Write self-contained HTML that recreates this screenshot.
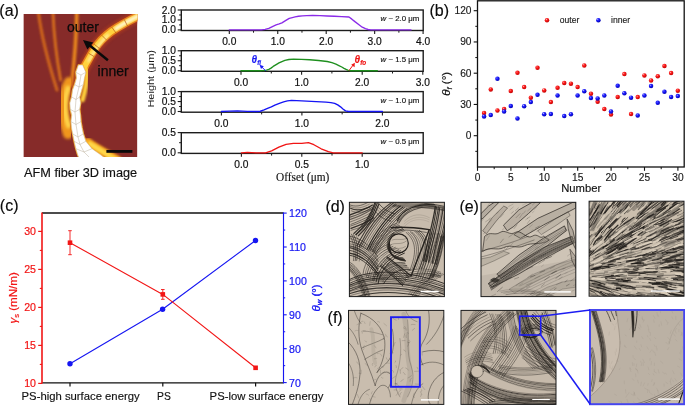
<!DOCTYPE html>
<html lang="en">
<head>
<meta charset="utf-8">
<title>Figure</title>
<style>
html,body{margin:0;padding:0;background:#fff;}
body{width:685px;height:406px;overflow:hidden;font-family:"Liberation Sans", Arial, sans-serif;}
svg{display:block;}
svg text{font-family:"Liberation Sans", Arial, sans-serif;}
</style>
</head>
<body>
<svg width="685" height="406" viewBox="0 0 685 406">
<rect x="0" y="0" width="685" height="406" fill="#ffffff"/>
<text x="-0.70" y="15.60" font-size="16" fill="#0a0a0a" stroke="#0a0a0a" stroke-width="0.15">(a)</text>
<defs><clipPath id="afmclip"><rect x="23.4" y="14" width="114" height="143"/></clipPath><filter id="blur1" x="-20%" y="-20%" width="140%" height="140%"><feGaussianBlur stdDeviation="0.9"/></filter><filter id="blur0" x="-20%" y="-20%" width="140%" height="140%"><feGaussianBlur stdDeviation="0.45"/></filter><filter id="blur2" x="-20%" y="-20%" width="140%" height="140%"><feGaussianBlur stdDeviation="1.6"/></filter></defs>
<g clip-path="url(#afmclip)">
<rect x="23.4" y="14" width="114" height="143" fill="#862b29"/>
<g filter="url(#blur1)" fill="none" stroke-linecap="round">
<path d="M38.5 13 C42 40 50 68 57 90" stroke="#d0661c" stroke-width="3.0"/>
<path d="M53 13 C54 38 57 60 60.6 80" stroke="#d8701c" stroke-width="2.8"/>
<path d="M76.8 13 C76.4 35 74.5 60 71.5 86" stroke="#e8861e" stroke-width="3.6"/>
</g>
<g fill="none" stroke-linecap="round" stroke-linejoin="round">
<path d="M143 14 C136 17 124 23.5 116.9 27.8 C110 32 102 39 97.9 44.2 C94 49 89 58.5 85.9 64 C83.5 68 81.5 72 80.5 78 C79 86 76 92 75.3 100 C74.6 108 75 116 76 122 C77 130 78.5 137 80.5 143 C83 150 87 155 92 160" stroke="#b8401c" stroke-width="12" filter="url(#blur2)" opacity="0.7"/>
<path d="M143 14 C136 17 124 23.5 116.9 27.8 C110 32 102 39 97.9 44.2 C94 49 89 58.5 85.9 64 C83.5 68 81.5 72 80.5 78 C79 86 76 92 75.3 100 C74.6 108 75 116 76 122 C77 130 78.5 137 80.5 143 C83 150 87 155 92 160" stroke="#e8821a" stroke-width="8.6" filter="url(#blur0)"/>
<path d="M143 14 C136 17 124 23.5 116.9 27.8 C110 32 102 39 97.9 44.2 C94 49 89 58.5 85.9 64 C83.5 68 81.5 72 80.5 78 C79 86 76 92 75.3 100 C74.6 108 75 116 76 122 C77 130 78.5 137 80.5 143 C83 150 87 155 92 160" stroke="#ffd23e" stroke-width="5.6" filter="url(#blur0)"/>
<path d="M69 82 C61 96 61.5 116 68 134" stroke="#f0961c" stroke-width="10" filter="url(#blur2)"/>
<path d="M68 88 C63.5 100 64 113 68.5 126" stroke="#ffd648" stroke-width="5" filter="url(#blur2)"/>
<path d="M86.5 70 C87.5 80 85.5 90 82.5 100" stroke="#ffcf3a" stroke-width="4.5" filter="url(#blur1)"/>
<path d="M88 142 C96 148 106 153 118 160" stroke="#f6a21e" stroke-width="8" filter="url(#blur1)"/>
<path d="M90 144 C98 149 107 154 116 160" stroke="#ffd84a" stroke-width="5" filter="url(#blur1)"/>
<path d="M140 15.3 C133 18.5 124 23.5 116 28.6" stroke="#fff6d2" stroke-width="3.4" filter="url(#blur1)"/>
<path d="M108 35 C101 41.5 94 51 88.5 61" stroke="#ffec9a" stroke-width="2.4" filter="url(#blur1)"/>
<path d="M124.5 20 L127.5 26 M112 27.5 L116 33 M102 35.5 L106.5 40 M94.5 44.5 L99.5 48.5 M89 53.5 L94 56.5" stroke="#b85a14" stroke-width="0.9" opacity="0.8"/>
</g>
<path d="M78.5 65.0 L75.9 72.3 L76.6 78 L74.7 84.6 L72.6 90 L71.7 97 L69.9 103 L70.3 109.3 L71.8 115 L71 121.6 L71.6 128 L72.7 133.9 L74.2 141.3 L75.9 148.7 L77.7 154.8 L80 160 L107 160 L100.6 154.8 L92 148.7 L85.8 141.3 L83.3 133.9 L82 128 L80.9 121.6 L80.4 115 L79.6 109.3 L80.6 103 L79.6 97 L81.6 90 L83.3 84.6 L84.4 78 L85.8 72.3 L82.6 65.0 Z" fill="#ffe9b0" stroke="#ffb52e" stroke-width="1.6" filter="url(#blur0)"/>
<path d="M78.5 65.0 L75.9 72.3 L76.6 78 L74.7 84.6 L72.6 90 L71.7 97 L69.9 103 L70.3 109.3 L71.8 115 L71 121.6 L71.6 128 L72.7 133.9 L74.2 141.3 L75.9 148.7 L77.7 154.8 L80 160 L107 160 L100.6 154.8 L92 148.7 L85.8 141.3 L83.3 133.9 L82 128 L80.9 121.6 L80.4 115 L79.6 109.3 L80.6 103 L79.6 97 L81.6 90 L83.3 84.6 L84.4 78 L85.8 72.3 L82.6 65.0 Z" fill="#ffffff" stroke="#b8a890" stroke-width="0.4" stroke-linejoin="round"/>
<path d="M75.9 72.3 L81 75 L85.8 72.3 M74.7 84.6 L79 87 L83.3 84.6 M71.7 97 L76 99.5 L79.6 97 M70.3 109.3 L75 112 L79.6 109.3 M71 121.6 L76 124.5 L80.9 121.6 M72.7 133.9 L78 137 L83.3 133.9 M74.2 141.3 L80 144.5 L85.8 141.3 M75.9 148.7 L84 152 L92 148.7 M81 75 L79 87 L76 99.5 L75 112 L76 124.5 L78 137 L80 144.5 L84 152 L90 158" stroke="#b6a892" stroke-width="0.45" fill="none"/>
<rect x="106.4" y="150" width="26" height="2.8" fill="#0a0a0a"/>
</g>
<line x1="107.9" y1="60.2" x2="88.0" y2="44.0" stroke="#0a0a0a" stroke-width="2.5"/>
<polygon points="83.0,40.0 93.2,42.4 87.4,49.4" fill="#0a0a0a"/>
<text x="67.00" y="32.10" font-size="14" fill="#0a0a0a" stroke="#0a0a0a" stroke-width="0.25">outer</text>
<text x="97.60" y="76.40" font-size="14" fill="#0a0a0a" stroke="#0a0a0a" stroke-width="0.25">inner</text>
<text x="24.00" y="177.40" font-size="12.2" fill="#111" textLength="113.2" lengthAdjust="spacingAndGlyphs" stroke="#111" stroke-width="0.15">AFM fiber 3D image</text>
<rect x="181.3" y="10.0" width="241.90" height="20.50" fill="none" stroke="#1c1c1c" stroke-width="1.4"/>
<line x1="177.70" y1="29.90" x2="181.30" y2="29.90" stroke="#1c1c1c" stroke-width="1.1" />
<text x="175.90" y="33.40" font-size="10" fill="#111" text-anchor="end" textLength="14.2" lengthAdjust="spacingAndGlyphs" stroke="#111" stroke-width="0.2">0.0</text>
<line x1="177.70" y1="19.95" x2="181.30" y2="19.95" stroke="#1c1c1c" stroke-width="1.1" />
<text x="175.90" y="23.45" font-size="10" fill="#111" text-anchor="end" textLength="14.2" lengthAdjust="spacingAndGlyphs" stroke="#111" stroke-width="0.2">1.0</text>
<line x1="177.70" y1="10.00" x2="181.30" y2="10.00" stroke="#1c1c1c" stroke-width="1.1" />
<text x="175.90" y="13.50" font-size="10" fill="#111" text-anchor="end" textLength="14.2" lengthAdjust="spacingAndGlyphs" stroke="#111" stroke-width="0.2">2.0</text>
<line x1="179.10" y1="24.92" x2="181.30" y2="24.92" stroke="#1c1c1c" stroke-width="1.0" />
<line x1="179.10" y1="14.97" x2="181.30" y2="14.97" stroke="#1c1c1c" stroke-width="1.0" />
<line x1="229.30" y1="30.50" x2="229.30" y2="33.90" stroke="#1c1c1c" stroke-width="1.1" />
<text x="229.30" y="44.80" font-size="10" fill="#111" text-anchor="middle" textLength="14.2" lengthAdjust="spacingAndGlyphs" stroke="#111" stroke-width="0.2">0.0</text>
<line x1="277.75" y1="30.50" x2="277.75" y2="33.90" stroke="#1c1c1c" stroke-width="1.1" />
<text x="277.75" y="44.80" font-size="10" fill="#111" text-anchor="middle" textLength="14.2" lengthAdjust="spacingAndGlyphs" stroke="#111" stroke-width="0.2">1.0</text>
<line x1="326.20" y1="30.50" x2="326.20" y2="33.90" stroke="#1c1c1c" stroke-width="1.1" />
<text x="326.20" y="44.80" font-size="10" fill="#111" text-anchor="middle" textLength="14.2" lengthAdjust="spacingAndGlyphs" stroke="#111" stroke-width="0.2">2.0</text>
<line x1="374.65" y1="30.50" x2="374.65" y2="33.90" stroke="#1c1c1c" stroke-width="1.1" />
<text x="374.65" y="44.80" font-size="10" fill="#111" text-anchor="middle" textLength="14.2" lengthAdjust="spacingAndGlyphs" stroke="#111" stroke-width="0.2">3.0</text>
<line x1="423.10" y1="30.50" x2="423.10" y2="33.90" stroke="#1c1c1c" stroke-width="1.1" />
<text x="423.10" y="44.80" font-size="10" fill="#111" text-anchor="middle" textLength="14.2" lengthAdjust="spacingAndGlyphs" stroke="#111" stroke-width="0.2">4.0</text>
<line x1="253.53" y1="30.50" x2="253.53" y2="32.70" stroke="#1c1c1c" stroke-width="1.0" />
<line x1="301.98" y1="30.50" x2="301.98" y2="32.70" stroke="#1c1c1c" stroke-width="1.0" />
<line x1="350.43" y1="30.50" x2="350.43" y2="32.70" stroke="#1c1c1c" stroke-width="1.0" />
<line x1="398.88" y1="30.50" x2="398.88" y2="32.70" stroke="#1c1c1c" stroke-width="1.0" />
<polyline points="229.30,29.90 253.53,29.90 261.47,29.90 265.15,29.40 268.79,28.36 272.91,26.32 276.10,24.86 279.20,23.93 281.92,22.84 285.50,20.65 289.23,18.43 292.29,17.56 295.10,16.96 298.58,16.27 302.36,15.80 306.82,15.57 312.63,15.51 319.90,15.67 327.17,15.97 334.44,16.27 341.70,16.57 348.97,16.96 351.88,19.15 354.93,21.64 358.66,24.53 362.25,27.21 365.44,28.71 368.11,29.50 370.77,29.90 410.99,29.90" fill="none" stroke="#8a2be8" stroke-width="1.35" stroke-linejoin="round" stroke-linecap="round" />
<text x="419.40" y="21.00" font-size="7.6" fill="#111" text-anchor="end" textLength="38.8" lengthAdjust="spacingAndGlyphs" stroke="#111" stroke-width="0.15"><tspan font-style="italic">w</tspan> ~ 2.0 μm</text>
<rect x="181.3" y="50.7" width="241.90" height="20.60" fill="none" stroke="#1c1c1c" stroke-width="1.4"/>
<line x1="177.70" y1="70.70" x2="181.30" y2="70.70" stroke="#1c1c1c" stroke-width="1.1" />
<text x="175.90" y="74.20" font-size="10" fill="#111" text-anchor="end" textLength="14.2" lengthAdjust="spacingAndGlyphs" stroke="#111" stroke-width="0.2">0.0</text>
<line x1="177.70" y1="60.75" x2="181.30" y2="60.75" stroke="#1c1c1c" stroke-width="1.1" />
<text x="175.90" y="64.25" font-size="10" fill="#111" text-anchor="end" textLength="14.2" lengthAdjust="spacingAndGlyphs" stroke="#111" stroke-width="0.2">0.5</text>
<line x1="177.70" y1="50.80" x2="181.30" y2="50.80" stroke="#1c1c1c" stroke-width="1.1" />
<text x="175.90" y="54.30" font-size="10" fill="#111" text-anchor="end" textLength="14.2" lengthAdjust="spacingAndGlyphs" stroke="#111" stroke-width="0.2">1.0</text>
<line x1="179.10" y1="65.73" x2="181.30" y2="65.73" stroke="#1c1c1c" stroke-width="1.0" />
<line x1="179.10" y1="55.78" x2="181.30" y2="55.78" stroke="#1c1c1c" stroke-width="1.0" />
<line x1="241.00" y1="71.30" x2="241.00" y2="74.70" stroke="#1c1c1c" stroke-width="1.1" />
<text x="241.00" y="85.60" font-size="10" fill="#111" text-anchor="middle" textLength="14.2" lengthAdjust="spacingAndGlyphs" stroke="#111" stroke-width="0.2">0.0</text>
<line x1="301.60" y1="71.30" x2="301.60" y2="74.70" stroke="#1c1c1c" stroke-width="1.1" />
<text x="301.60" y="85.60" font-size="10" fill="#111" text-anchor="middle" textLength="14.2" lengthAdjust="spacingAndGlyphs" stroke="#111" stroke-width="0.2">1.0</text>
<line x1="362.20" y1="71.30" x2="362.20" y2="74.70" stroke="#1c1c1c" stroke-width="1.1" />
<text x="362.20" y="85.60" font-size="10" fill="#111" text-anchor="middle" textLength="14.2" lengthAdjust="spacingAndGlyphs" stroke="#111" stroke-width="0.2">2.0</text>
<line x1="422.80" y1="71.30" x2="422.80" y2="74.70" stroke="#1c1c1c" stroke-width="1.1" />
<text x="422.80" y="85.60" font-size="10" fill="#111" text-anchor="middle" textLength="14.2" lengthAdjust="spacingAndGlyphs" stroke="#111" stroke-width="0.2">3.0</text>
<line x1="271.30" y1="71.30" x2="271.30" y2="73.50" stroke="#1c1c1c" stroke-width="1.0" />
<line x1="331.90" y1="71.30" x2="331.90" y2="73.50" stroke="#1c1c1c" stroke-width="1.0" />
<line x1="392.50" y1="71.30" x2="392.50" y2="73.50" stroke="#1c1c1c" stroke-width="1.0" />
<polyline points="241.00,70.70 261.60,70.70 264.39,70.50 266.45,70.10 268.82,69.37 271.00,68.11 273.18,66.44 276.15,64.63 279.00,62.94 281.90,61.55 284.87,60.31 288.87,59.52 293.60,59.14 301.60,59.32 309.66,59.72 318.57,60.51 327.17,61.47 331.90,62.64 335.96,64.09 338.87,65.53 341.78,67.02 344.02,68.31 346.14,69.37 348.26,70.30 349.96,70.70 377.35,70.70" fill="none" stroke="#1e8f1e" stroke-width="1.35" stroke-linejoin="round" stroke-linecap="round" />
<text x="419.40" y="61.70" font-size="7.6" fill="#111" text-anchor="end" textLength="38.8" lengthAdjust="spacingAndGlyphs" stroke="#111" stroke-width="0.15"><tspan font-style="italic">w</tspan> ~ 1.5 μm</text>
<rect x="181.3" y="91.6" width="241.90" height="20.60" fill="none" stroke="#1c1c1c" stroke-width="1.4"/>
<line x1="177.70" y1="111.50" x2="181.30" y2="111.50" stroke="#1c1c1c" stroke-width="1.1" />
<text x="175.90" y="115.00" font-size="10" fill="#111" text-anchor="end" textLength="14.2" lengthAdjust="spacingAndGlyphs" stroke="#111" stroke-width="0.2">0.0</text>
<line x1="177.70" y1="101.55" x2="181.30" y2="101.55" stroke="#1c1c1c" stroke-width="1.1" />
<text x="175.90" y="105.05" font-size="10" fill="#111" text-anchor="end" textLength="14.2" lengthAdjust="spacingAndGlyphs" stroke="#111" stroke-width="0.2">0.5</text>
<line x1="177.70" y1="91.60" x2="181.30" y2="91.60" stroke="#1c1c1c" stroke-width="1.1" />
<text x="175.90" y="95.10" font-size="10" fill="#111" text-anchor="end" textLength="14.2" lengthAdjust="spacingAndGlyphs" stroke="#111" stroke-width="0.2">1.0</text>
<line x1="179.10" y1="106.53" x2="181.30" y2="106.53" stroke="#1c1c1c" stroke-width="1.0" />
<line x1="179.10" y1="96.58" x2="181.30" y2="96.58" stroke="#1c1c1c" stroke-width="1.0" />
<line x1="221.40" y1="112.20" x2="221.40" y2="115.60" stroke="#1c1c1c" stroke-width="1.1" />
<text x="221.40" y="126.50" font-size="10" fill="#111" text-anchor="middle" textLength="14.2" lengthAdjust="spacingAndGlyphs" stroke="#111" stroke-width="0.2">0.0</text>
<line x1="301.90" y1="112.20" x2="301.90" y2="115.60" stroke="#1c1c1c" stroke-width="1.1" />
<text x="301.90" y="126.50" font-size="10" fill="#111" text-anchor="middle" textLength="14.2" lengthAdjust="spacingAndGlyphs" stroke="#111" stroke-width="0.2">1.0</text>
<line x1="382.40" y1="112.20" x2="382.40" y2="115.60" stroke="#1c1c1c" stroke-width="1.1" />
<text x="382.40" y="126.50" font-size="10" fill="#111" text-anchor="middle" textLength="14.2" lengthAdjust="spacingAndGlyphs" stroke="#111" stroke-width="0.2">2.0</text>
<line x1="261.65" y1="112.20" x2="261.65" y2="114.40" stroke="#1c1c1c" stroke-width="1.0" />
<line x1="342.15" y1="112.20" x2="342.15" y2="114.40" stroke="#1c1c1c" stroke-width="1.0" />
<polyline points="221.40,111.50 229.45,111.10 237.50,110.90 247.16,111.30 256.82,111.50 260.28,111.24 264.06,109.91 267.53,108.32 271.31,106.82 274.85,105.13 279.36,103.34 283.63,101.89 287.41,100.95 291.52,100.44 301.90,100.85 311.32,101.31 325.97,102.19 330.88,102.64 334.66,103.34 337.72,104.93 340.54,106.84 342.96,108.91 345.53,110.90 348.59,111.50 382.40,111.50" fill="none" stroke="#1414f5" stroke-width="1.35" stroke-linejoin="round" stroke-linecap="round" />
<text x="419.40" y="102.60" font-size="7.6" fill="#111" text-anchor="end" textLength="38.8" lengthAdjust="spacingAndGlyphs" stroke="#111" stroke-width="0.15"><tspan font-style="italic">w</tspan> ~ 1.0 μm</text>
<rect x="181.3" y="132.7" width="241.90" height="20.70" fill="none" stroke="#1c1c1c" stroke-width="1.4"/>
<line x1="177.70" y1="152.80" x2="181.30" y2="152.80" stroke="#1c1c1c" stroke-width="1.1" />
<text x="175.90" y="156.30" font-size="10" fill="#111" text-anchor="end" textLength="14.2" lengthAdjust="spacingAndGlyphs" stroke="#111" stroke-width="0.2">0.0</text>
<line x1="177.70" y1="132.60" x2="181.30" y2="132.60" stroke="#1c1c1c" stroke-width="1.1" />
<text x="175.90" y="136.10" font-size="10" fill="#111" text-anchor="end" textLength="14.2" lengthAdjust="spacingAndGlyphs" stroke="#111" stroke-width="0.2">0.5</text>
<line x1="179.10" y1="142.70" x2="181.30" y2="142.70" stroke="#1c1c1c" stroke-width="1.0" />
<line x1="241.40" y1="153.40" x2="241.40" y2="156.80" stroke="#1c1c1c" stroke-width="1.1" />
<text x="241.40" y="167.70" font-size="10" fill="#111" text-anchor="middle" textLength="14.2" lengthAdjust="spacingAndGlyphs" stroke="#111" stroke-width="0.2">0.0</text>
<line x1="301.80" y1="153.40" x2="301.80" y2="156.80" stroke="#1c1c1c" stroke-width="1.1" />
<text x="301.80" y="167.70" font-size="10" fill="#111" text-anchor="middle" textLength="14.2" lengthAdjust="spacingAndGlyphs" stroke="#111" stroke-width="0.2">0.5</text>
<line x1="362.20" y1="153.40" x2="362.20" y2="156.80" stroke="#1c1c1c" stroke-width="1.1" />
<text x="362.20" y="167.70" font-size="10" fill="#111" text-anchor="middle" textLength="14.2" lengthAdjust="spacingAndGlyphs" stroke="#111" stroke-width="0.2">1.0</text>
<line x1="271.60" y1="153.40" x2="271.60" y2="155.60" stroke="#1c1c1c" stroke-width="1.0" />
<line x1="332.00" y1="153.40" x2="332.00" y2="155.60" stroke="#1c1c1c" stroke-width="1.0" />
<polyline points="241.40,152.80 247.44,152.40 255.90,152.80 265.56,152.80 271.60,150.78 278.85,147.14 286.10,144.32 293.34,143.31 301.80,143.31 308.44,142.70 313.88,144.72 321.13,148.76 328.38,151.59 333.21,152.80 362.20,152.80" fill="none" stroke="#f01414" stroke-width="1.35" stroke-linejoin="round" stroke-linecap="round" />
<text x="419.40" y="143.70" font-size="7.6" fill="#111" text-anchor="end" textLength="38.8" lengthAdjust="spacingAndGlyphs" stroke="#111" stroke-width="0.15"><tspan font-style="italic">w</tspan> ~ 0.5 μm</text>
<line x1="265.6" y1="70.8" x2="261.6" y2="66.8" stroke="#1a1af5" stroke-width="1.0"/>
<polygon points="259.6,64.8 263.8,66.2 261.0,69.0" fill="#1a1af5"/>
<text x="251.60" y="62.50" font-size="10" fill="#1a1af5" font-weight="bold" stroke="#1a1af5" stroke-width="0.15"><tspan font-style="italic">θ</tspan><tspan font-size="6.4" dy="2.4" font-style="italic">fi</tspan></text>
<line x1="349.0" y1="70.6" x2="353.0" y2="65.2" stroke="#f01414" stroke-width="1.0"/>
<polygon points="354.8,62.8 354.6,67.2 351.2,64.8" fill="#f01414"/>
<text x="354.60" y="62.50" font-size="10" fill="#f01414" font-weight="bold" stroke="#f01414" stroke-width="0.15"><tspan font-style="italic">θ</tspan><tspan font-size="6.4" dy="2.4" font-style="italic">fo</tspan></text>
<text transform="translate(153.8,78.8) rotate(-90)" text-anchor="middle" font-size="9.6" fill="#1a1a1a" textLength="57.5" lengthAdjust="spacingAndGlyphs">Height (μm)</text>
<text x="302.70" y="180.80" font-size="11.8" fill="#111" text-anchor="middle" textLength="53.4" lengthAdjust="spacingAndGlyphs" style='font-family:"Liberation Serif", "Times New Roman", serif' stroke="#111" stroke-width="0.15">Offset (μm)</text>
<text x="429.50" y="15.60" font-size="16" fill="#0a0a0a" stroke="#0a0a0a" stroke-width="0.15">(b)</text>
<defs><radialGradient id="gr" cx="0.36" cy="0.32" r="0.65"><stop offset="0" stop-color="#ffd0d0"/><stop offset="0.22" stop-color="#ff3a3a"/><stop offset="0.6" stop-color="#f01010"/><stop offset="1" stop-color="#c40808"/></radialGradient><radialGradient id="gb" cx="0.36" cy="0.32" r="0.65"><stop offset="0" stop-color="#d0d0ff"/><stop offset="0.22" stop-color="#3a3aff"/><stop offset="0.6" stop-color="#1010f0"/><stop offset="1" stop-color="#0808b8"/></radialGradient></defs>
<rect x="477.5" y="0.8" width="206.70" height="166.20" fill="none" stroke="#111" stroke-width="1.3"/>
<line x1="473.70" y1="135.70" x2="477.50" y2="135.70" stroke="#111" stroke-width="1.1" />
<text x="471.50" y="139.20" font-size="10.2" fill="#1a1a1a" text-anchor="end" stroke="#1a1a1a" stroke-width="0.15">0</text>
<line x1="473.70" y1="104.45" x2="477.50" y2="104.45" stroke="#111" stroke-width="1.1" />
<text x="471.50" y="107.95" font-size="10.2" fill="#1a1a1a" text-anchor="end" stroke="#1a1a1a" stroke-width="0.15">30</text>
<line x1="473.70" y1="73.20" x2="477.50" y2="73.20" stroke="#111" stroke-width="1.1" />
<text x="471.50" y="76.70" font-size="10.2" fill="#1a1a1a" text-anchor="end" stroke="#1a1a1a" stroke-width="0.15">60</text>
<line x1="473.70" y1="41.95" x2="477.50" y2="41.95" stroke="#111" stroke-width="1.1" />
<text x="471.50" y="45.45" font-size="10.2" fill="#1a1a1a" text-anchor="end" stroke="#1a1a1a" stroke-width="0.15">90</text>
<line x1="473.70" y1="10.70" x2="477.50" y2="10.70" stroke="#111" stroke-width="1.1" />
<text x="471.50" y="14.20" font-size="10.2" fill="#1a1a1a" text-anchor="end" stroke="#1a1a1a" stroke-width="0.15">120</text>
<line x1="475.30" y1="151.33" x2="477.50" y2="151.33" stroke="#111" stroke-width="1.0" />
<line x1="475.30" y1="120.07" x2="477.50" y2="120.07" stroke="#111" stroke-width="1.0" />
<line x1="475.30" y1="88.82" x2="477.50" y2="88.82" stroke="#111" stroke-width="1.0" />
<line x1="475.30" y1="57.57" x2="477.50" y2="57.57" stroke="#111" stroke-width="1.0" />
<line x1="475.30" y1="26.32" x2="477.50" y2="26.32" stroke="#111" stroke-width="1.0" />
<line x1="477.50" y1="167.00" x2="477.50" y2="170.80" stroke="#111" stroke-width="1.1" />
<text x="477.50" y="180.60" font-size="10.2" fill="#1a1a1a" text-anchor="middle" stroke="#1a1a1a" stroke-width="0.15">0</text>
<line x1="510.90" y1="167.00" x2="510.90" y2="170.80" stroke="#111" stroke-width="1.1" />
<text x="510.90" y="180.60" font-size="10.2" fill="#1a1a1a" text-anchor="middle" stroke="#1a1a1a" stroke-width="0.15">5</text>
<line x1="544.30" y1="167.00" x2="544.30" y2="170.80" stroke="#111" stroke-width="1.1" />
<text x="544.30" y="180.60" font-size="10.2" fill="#1a1a1a" text-anchor="middle" stroke="#1a1a1a" stroke-width="0.15">10</text>
<line x1="577.70" y1="167.00" x2="577.70" y2="170.80" stroke="#111" stroke-width="1.1" />
<text x="577.70" y="180.60" font-size="10.2" fill="#1a1a1a" text-anchor="middle" stroke="#1a1a1a" stroke-width="0.15">15</text>
<line x1="611.10" y1="167.00" x2="611.10" y2="170.80" stroke="#111" stroke-width="1.1" />
<text x="611.10" y="180.60" font-size="10.2" fill="#1a1a1a" text-anchor="middle" stroke="#1a1a1a" stroke-width="0.15">20</text>
<line x1="644.50" y1="167.00" x2="644.50" y2="170.80" stroke="#111" stroke-width="1.1" />
<text x="644.50" y="180.60" font-size="10.2" fill="#1a1a1a" text-anchor="middle" stroke="#1a1a1a" stroke-width="0.15">25</text>
<line x1="677.90" y1="167.00" x2="677.90" y2="170.80" stroke="#111" stroke-width="1.1" />
<text x="677.90" y="180.60" font-size="10.2" fill="#1a1a1a" text-anchor="middle" stroke="#1a1a1a" stroke-width="0.15">30</text>
<line x1="494.20" y1="167.00" x2="494.20" y2="169.20" stroke="#111" stroke-width="1.0" />
<line x1="527.60" y1="167.00" x2="527.60" y2="169.20" stroke="#111" stroke-width="1.0" />
<line x1="561.00" y1="167.00" x2="561.00" y2="169.20" stroke="#111" stroke-width="1.0" />
<line x1="594.40" y1="167.00" x2="594.40" y2="169.20" stroke="#111" stroke-width="1.0" />
<line x1="627.80" y1="167.00" x2="627.80" y2="169.20" stroke="#111" stroke-width="1.0" />
<line x1="661.20" y1="167.00" x2="661.20" y2="169.20" stroke="#111" stroke-width="1.0" />
<circle cx="484.08" cy="112.90" r="2.25" fill="url(#gr)"/>
<circle cx="490.76" cy="89.40" r="2.25" fill="url(#gr)"/>
<circle cx="497.44" cy="110.60" r="2.25" fill="url(#gr)"/>
<circle cx="504.12" cy="109.00" r="2.25" fill="url(#gr)"/>
<circle cx="510.80" cy="90.90" r="2.25" fill="url(#gr)"/>
<circle cx="517.48" cy="72.80" r="2.25" fill="url(#gr)"/>
<circle cx="524.16" cy="87.10" r="2.25" fill="url(#gr)"/>
<circle cx="530.84" cy="97.70" r="2.25" fill="url(#gr)"/>
<circle cx="537.52" cy="67.70" r="2.25" fill="url(#gr)"/>
<circle cx="544.20" cy="90.40" r="2.25" fill="url(#gr)"/>
<circle cx="550.88" cy="102.10" r="2.25" fill="url(#gr)"/>
<circle cx="557.56" cy="87.80" r="2.25" fill="url(#gr)"/>
<circle cx="564.24" cy="82.90" r="2.25" fill="url(#gr)"/>
<circle cx="570.92" cy="83.70" r="2.25" fill="url(#gr)"/>
<circle cx="577.60" cy="87.10" r="2.25" fill="url(#gr)"/>
<circle cx="584.28" cy="65.60" r="2.25" fill="url(#gr)"/>
<circle cx="590.96" cy="93.80" r="2.25" fill="url(#gr)"/>
<circle cx="597.64" cy="101.80" r="2.25" fill="url(#gr)"/>
<circle cx="604.32" cy="109.00" r="2.25" fill="url(#gr)"/>
<circle cx="611.00" cy="114.50" r="2.25" fill="url(#gr)"/>
<circle cx="617.68" cy="96.90" r="2.25" fill="url(#gr)"/>
<circle cx="624.36" cy="74.10" r="2.25" fill="url(#gr)"/>
<circle cx="631.04" cy="114.00" r="2.25" fill="url(#gr)"/>
<circle cx="637.72" cy="97.10" r="2.25" fill="url(#gr)"/>
<circle cx="644.40" cy="75.40" r="2.25" fill="url(#gr)"/>
<circle cx="651.08" cy="80.60" r="2.25" fill="url(#gr)"/>
<circle cx="657.76" cy="76.20" r="2.25" fill="url(#gr)"/>
<circle cx="664.44" cy="65.90" r="2.25" fill="url(#gr)"/>
<circle cx="671.12" cy="73.10" r="2.25" fill="url(#gr)"/>
<circle cx="677.80" cy="90.70" r="2.25" fill="url(#gr)"/>
<circle cx="484.08" cy="116.50" r="2.25" fill="url(#gb)"/>
<circle cx="490.76" cy="115.00" r="2.25" fill="url(#gb)"/>
<circle cx="497.44" cy="78.80" r="2.25" fill="url(#gb)"/>
<circle cx="504.12" cy="111.60" r="2.25" fill="url(#gb)"/>
<circle cx="510.80" cy="105.90" r="2.25" fill="url(#gb)"/>
<circle cx="517.48" cy="118.60" r="2.25" fill="url(#gb)"/>
<circle cx="524.16" cy="106.20" r="2.25" fill="url(#gb)"/>
<circle cx="530.84" cy="102.10" r="2.25" fill="url(#gb)"/>
<circle cx="537.52" cy="94.80" r="2.25" fill="url(#gb)"/>
<circle cx="544.20" cy="114.20" r="2.25" fill="url(#gb)"/>
<circle cx="550.88" cy="114.00" r="2.25" fill="url(#gb)"/>
<circle cx="557.56" cy="95.60" r="2.25" fill="url(#gb)"/>
<circle cx="564.24" cy="116.00" r="2.25" fill="url(#gb)"/>
<circle cx="570.92" cy="114.20" r="2.25" fill="url(#gb)"/>
<circle cx="577.60" cy="95.60" r="2.25" fill="url(#gb)"/>
<circle cx="584.28" cy="91.20" r="2.25" fill="url(#gb)"/>
<circle cx="590.96" cy="97.90" r="2.25" fill="url(#gb)"/>
<circle cx="597.64" cy="98.40" r="2.25" fill="url(#gb)"/>
<circle cx="604.32" cy="95.60" r="2.25" fill="url(#gb)"/>
<circle cx="611.00" cy="111.60" r="2.25" fill="url(#gb)"/>
<circle cx="617.68" cy="85.80" r="2.25" fill="url(#gb)"/>
<circle cx="624.36" cy="93.30" r="2.25" fill="url(#gb)"/>
<circle cx="631.04" cy="97.70" r="2.25" fill="url(#gb)"/>
<circle cx="637.72" cy="115.50" r="2.25" fill="url(#gb)"/>
<circle cx="644.40" cy="95.60" r="2.25" fill="url(#gb)"/>
<circle cx="651.08" cy="86.00" r="2.25" fill="url(#gb)"/>
<circle cx="657.76" cy="102.80" r="2.25" fill="url(#gb)"/>
<circle cx="664.44" cy="91.70" r="2.25" fill="url(#gb)"/>
<circle cx="671.12" cy="96.90" r="2.25" fill="url(#gb)"/>
<circle cx="677.80" cy="96.10" r="2.25" fill="url(#gb)"/>
<circle cx="547.0" cy="20.2" r="2.25" fill="url(#gr)"/>
<text x="559.80" y="23.40" font-size="9.4" fill="#1a1a1a" textLength="19.6" lengthAdjust="spacingAndGlyphs" stroke="#1a1a1a" stroke-width="0.15">outer</text>
<circle cx="598.4" cy="20.2" r="2.25" fill="url(#gb)"/>
<text x="611.00" y="23.40" font-size="9.4" fill="#1a1a1a" textLength="19.2" lengthAdjust="spacingAndGlyphs" stroke="#1a1a1a" stroke-width="0.15">inner</text>
<text transform="translate(450.0,83.8) rotate(-90)" text-anchor="middle" font-size="11.5" fill="#111" stroke="#111" stroke-width="0.2"><tspan font-style="italic">θ</tspan><tspan font-size="7.4" dy="2.4" font-style="italic">f</tspan><tspan dy="-2.4"> (°)</tspan></text>
<text x="581.20" y="192.00" font-size="10.8" fill="#111" text-anchor="middle" textLength="40.0" lengthAdjust="spacingAndGlyphs" stroke="#111" stroke-width="0.15">Number</text>
<text x="-0.20" y="211.40" font-size="16" fill="#0a0a0a" stroke="#0a0a0a" stroke-width="0.15">(c)</text>
<line x1="42.00" y1="213.00" x2="283.50" y2="213.00" stroke="#111" stroke-width="1.3" />
<line x1="42.00" y1="382.80" x2="283.50" y2="382.80" stroke="#111" stroke-width="1.3" />
<line x1="42.00" y1="212.40" x2="42.00" y2="383.40" stroke="#f21616" stroke-width="1.6" />
<line x1="283.50" y1="212.40" x2="283.50" y2="383.40" stroke="#1616f2" stroke-width="1.15" />
<line x1="38.20" y1="383.40" x2="42.00" y2="383.40" stroke="#f21616" stroke-width="1.2" />
<text x="36.00" y="387.20" font-size="10.6" fill="#f21616" text-anchor="end" stroke="#f21616" stroke-width="0.2">10</text>
<line x1="38.20" y1="345.40" x2="42.00" y2="345.40" stroke="#f21616" stroke-width="1.2" />
<text x="36.00" y="349.20" font-size="10.6" fill="#f21616" text-anchor="end" stroke="#f21616" stroke-width="0.2">15</text>
<line x1="38.20" y1="307.40" x2="42.00" y2="307.40" stroke="#f21616" stroke-width="1.2" />
<text x="36.00" y="311.20" font-size="10.6" fill="#f21616" text-anchor="end" stroke="#f21616" stroke-width="0.2">20</text>
<line x1="38.20" y1="269.40" x2="42.00" y2="269.40" stroke="#f21616" stroke-width="1.2" />
<text x="36.00" y="273.20" font-size="10.6" fill="#f21616" text-anchor="end" stroke="#f21616" stroke-width="0.2">25</text>
<line x1="38.20" y1="231.40" x2="42.00" y2="231.40" stroke="#f21616" stroke-width="1.2" />
<text x="36.00" y="235.20" font-size="10.6" fill="#f21616" text-anchor="end" stroke="#f21616" stroke-width="0.2">30</text>
<line x1="39.80" y1="364.40" x2="42.00" y2="364.40" stroke="#f21616" stroke-width="1.1" />
<line x1="39.80" y1="326.40" x2="42.00" y2="326.40" stroke="#f21616" stroke-width="1.1" />
<line x1="39.80" y1="288.40" x2="42.00" y2="288.40" stroke="#f21616" stroke-width="1.1" />
<line x1="39.80" y1="250.40" x2="42.00" y2="250.40" stroke="#f21616" stroke-width="1.1" />
<line x1="283.50" y1="382.60" x2="286.70" y2="382.60" stroke="#1616f2" stroke-width="1.1" />
<text x="289.10" y="386.50" font-size="10.6" fill="#1616f2" stroke="#1616f2" stroke-width="0.2">70</text>
<line x1="283.50" y1="348.70" x2="286.70" y2="348.70" stroke="#1616f2" stroke-width="1.1" />
<text x="289.10" y="352.60" font-size="10.6" fill="#1616f2" stroke="#1616f2" stroke-width="0.2">80</text>
<line x1="283.50" y1="314.80" x2="286.70" y2="314.80" stroke="#1616f2" stroke-width="1.1" />
<text x="289.10" y="318.70" font-size="10.6" fill="#1616f2" stroke="#1616f2" stroke-width="0.2">90</text>
<line x1="283.50" y1="280.90" x2="286.70" y2="280.90" stroke="#1616f2" stroke-width="1.1" />
<text x="289.10" y="284.80" font-size="10.6" fill="#1616f2" stroke="#1616f2" stroke-width="0.2">100</text>
<line x1="283.50" y1="247.00" x2="286.70" y2="247.00" stroke="#1616f2" stroke-width="1.1" />
<text x="289.10" y="250.90" font-size="10.6" fill="#1616f2" stroke="#1616f2" stroke-width="0.2">110</text>
<line x1="283.50" y1="213.10" x2="286.70" y2="213.10" stroke="#1616f2" stroke-width="1.1" />
<text x="289.10" y="217.00" font-size="10.6" fill="#1616f2" stroke="#1616f2" stroke-width="0.2">120</text>
<line x1="283.50" y1="365.65" x2="285.20" y2="365.65" stroke="#1616f2" stroke-width="1.0" />
<line x1="283.50" y1="331.75" x2="285.20" y2="331.75" stroke="#1616f2" stroke-width="1.0" />
<line x1="283.50" y1="297.85" x2="285.20" y2="297.85" stroke="#1616f2" stroke-width="1.0" />
<line x1="283.50" y1="263.95" x2="285.20" y2="263.95" stroke="#1616f2" stroke-width="1.0" />
<line x1="283.50" y1="230.05" x2="285.20" y2="230.05" stroke="#1616f2" stroke-width="1.0" />
<line x1="70.00" y1="382.80" x2="70.00" y2="386.60" stroke="#111" stroke-width="1.2" />
<line x1="162.80" y1="382.80" x2="162.80" y2="386.60" stroke="#111" stroke-width="1.2" />
<line x1="255.60" y1="382.80" x2="255.60" y2="386.60" stroke="#111" stroke-width="1.2" />
<polyline points="70.00,363.80 162.60,309.30 255.50,240.50" fill="none" stroke="#1616f2" stroke-width="1.1" stroke-linejoin="round" stroke-linecap="round" />
<circle cx="70.0" cy="363.8" r="2.7" fill="#1616f2"/>
<circle cx="162.6" cy="309.3" r="2.7" fill="#1616f2"/>
<circle cx="255.5" cy="240.5" r="2.7" fill="#1616f2"/>
<polyline points="70.00,242.70 162.80,294.40 255.60,367.80" fill="none" stroke="#f21616" stroke-width="1.1" stroke-linejoin="round" stroke-linecap="round" />
<line x1="70.00" y1="230.70" x2="70.00" y2="254.70" stroke="#f21616" stroke-width="0.9" />
<line x1="68.20" y1="230.70" x2="71.80" y2="230.70" stroke="#f21616" stroke-width="0.9" />
<line x1="68.20" y1="254.70" x2="71.80" y2="254.70" stroke="#f21616" stroke-width="0.9" />
<rect x="67.70" y="240.40" width="4.6" height="4.6" fill="#f21616"/>
<line x1="162.80" y1="289.50" x2="162.80" y2="299.30" stroke="#f21616" stroke-width="0.9" />
<line x1="161.00" y1="289.50" x2="164.60" y2="289.50" stroke="#f21616" stroke-width="0.9" />
<line x1="161.00" y1="299.30" x2="164.60" y2="299.30" stroke="#f21616" stroke-width="0.9" />
<rect x="160.50" y="292.10" width="4.6" height="4.6" fill="#f21616"/>
<rect x="253.30" y="365.50" width="4.6" height="4.6" fill="#f21616"/>
<text x="21.60" y="400.20" font-size="11" fill="#111" textLength="118.0" lengthAdjust="spacingAndGlyphs" stroke="#111" stroke-width="0.15">PS-high surface energy</text>
<text x="157.00" y="400.20" font-size="11" fill="#111" textLength="13.8" lengthAdjust="spacingAndGlyphs" stroke="#111" stroke-width="0.15">PS</text>
<text x="209.60" y="400.20" font-size="11" fill="#111" textLength="113.8" lengthAdjust="spacingAndGlyphs" stroke="#111" stroke-width="0.15">PS-low surface energy</text>
<text transform="translate(16.8,297.9) rotate(-90)" text-anchor="middle" font-size="11.6" fill="#f21616" stroke="#f21616" stroke-width="0.2"><tspan font-style="italic">γ</tspan><tspan font-size="7.6" dy="2.4" font-style="normal">s</tspan><tspan dy="-2.4"> (mN/m)</tspan></text>
<text transform="translate(319.6,297.9) rotate(-90)" text-anchor="middle" font-size="11.5" fill="#1616f2" stroke="#1616f2" stroke-width="0.35"><tspan font-style="italic">θ</tspan><tspan font-size="7.6" dy="2.6" font-style="italic">w</tspan><tspan dy="-2.6"> (°)</tspan></text>
<text x="325.40" y="211.50" font-size="16" fill="#0a0a0a" stroke="#0a0a0a" stroke-width="0.15">(d)</text>
<text x="459.40" y="211.60" font-size="16" fill="#0a0a0a" stroke="#0a0a0a" stroke-width="0.15">(e)</text>
<text x="327.60" y="322.70" font-size="16" fill="#0a0a0a" stroke="#0a0a0a" stroke-width="0.15">(f)</text>
<defs>
<clipPath id="clip_d"><rect x="349.4" y="202.3" width="95.0" height="94.3"/></clipPath>
<clipPath id="clip_e1"><rect x="481.0" y="202.3" width="94.8" height="94.3"/></clipPath>
<clipPath id="clip_e2"><rect x="589.1" y="201.2" width="94.9" height="95.0"/></clipPath>
<clipPath id="clip_f1"><rect x="348.5" y="310.4" width="95.3" height="94.0"/></clipPath>
<clipPath id="clip_f2"><rect x="461.0" y="310.4" width="95.0" height="94.0"/></clipPath>
<clipPath id="clip_f3"><rect x="590.0" y="310.0" width="94.2" height="94.2"/></clipPath>
</defs>
<g clip-path="url(#clip_d)">
<rect x="349.4" y="202.3" width="95.0" height="94.3" fill="#c8bcad"/>
<g transform="translate(349.4,202.3) scale(0.9500,0.9430)" fill="none" stroke-linecap="round">
<path d="M27.0 0.1 C23.4 11.0 16.0 24.1 4.7 33.0" stroke="#27231f" stroke-width="1.24" opacity="0.91"/>
<path d="M28.0 0.5 C24.0 11.9 17.5 24.3 6.8 34.1" stroke="#27231f" stroke-width="1.26" opacity="0.83"/>
<path d="M29.4 0.9 C25.7 11.9 18.4 25.1 7.2 34.3" stroke="#27231f" stroke-width="1.11" opacity="0.93"/>
<path d="M31.0 2.1 C27.0 13.1 20.0 25.8 9.4 35.4" stroke="#27231f" stroke-width="1.39" opacity="0.87"/>
<path d="M-0.2 13.8 C7.8 10.6 16.2 7.9 24.3 2.9" stroke="#27231f" stroke-width="1.32" opacity="0.93"/>
<path d="M-0.2 16.0 C8.7 13.3 16.7 10.2 23.9 5.4" stroke="#27231f" stroke-width="1.17" opacity="0.67"/>
<path d="M0.2 18.4 C9.0 15.8 16.2 12.3 24.2 7.2" stroke="#27231f" stroke-width="1.19" opacity="0.63"/>
<path d="M0.9 20.8 C8.6 18.1 16.5 15.0 24.5 9.8" stroke="#27231f" stroke-width="0.72" opacity="0.67"/>
<path d="M1.6 23.4 C9.0 20.5 16.9 17.0 25.5 12.3" stroke="#27231f" stroke-width="0.63" opacity="1.00"/>
<path d="M1.2 25.2 C9.7 22.3 17.2 19.0 25.1 14.5" stroke="#27231f" stroke-width="0.74" opacity="0.82"/>
<path d="M1.6 27.7 C10.1 24.7 17.8 22.0 25.4 16.4" stroke="#27231f" stroke-width="1.28" opacity="0.92"/>
<path d="M1.8 29.7 C10.2 27.4 17.7 24.4 26.3 19.1" stroke="#27231f" stroke-width="0.89" opacity="0.60"/>
<path d="M-0.4 2.4 C5.8 5.2 11.8 4.3 20.1 -0.2" stroke="#27231f" stroke-width="0.69" opacity="0.87"/>
<path d="M0.3 4.1 C6.7 7.7 12.8 6.1 21.0 2.1" stroke="#27231f" stroke-width="0.56" opacity="0.67"/>
<path d="M1.3 6.3 C7.0 9.5 13.4 8.3 21.2 5.0" stroke="#27231f" stroke-width="1.33" opacity="0.85"/>
<path d="M2.2 9.1 C7.7 11.6 13.6 11.4 22.2 7.4" stroke="#27231f" stroke-width="0.57" opacity="0.84"/>
<path d="M8.0 46.2 C15.8 30.4 27.6 12.0 44.2 0.4" stroke="#27231f" stroke-width="1.14" opacity="0.87"/>
<path d="M10.3 47.2 C17.9 31.0 30.4 13.1 45.9 1.1" stroke="#27231f" stroke-width="1.24" opacity="0.81"/>
<path d="M12.1 47.5 C20.1 31.7 31.6 13.7 48.4 1.9" stroke="#27231f" stroke-width="1.13" opacity="0.72"/>
<path d="M14.2 48.5 C21.9 32.7 33.6 14.6 49.6 2.5" stroke="#27231f" stroke-width="0.93" opacity="0.65"/>
<path d="M16.2 49.2 C24.1 33.6 35.8 14.8 51.8 3.4" stroke="#27231f" stroke-width="0.71" opacity="0.63"/>
<path d="M18.4 50.1 C25.9 34.4 37.8 16.1 53.7 3.9" stroke="#27231f" stroke-width="1.19" opacity="0.96"/>
<path d="M20.3 50.7 C28.1 34.6 39.7 16.8 56.3 5.1" stroke="#27231f" stroke-width="1.12" opacity="0.98"/>
<path d="M21.8 51.3 C30.0 35.4 41.7 17.5 58.1 5.6" stroke="#27231f" stroke-width="0.80" opacity="0.93"/>
<path d="M24.4 52.4 C31.6 36.0 44.3 18.0 60.2 6.5" stroke="#27231f" stroke-width="0.80" opacity="0.91"/>
<path d="M25.6 52.9 C34.0 36.8 46.3 19.0 61.7 6.8" stroke="#27231f" stroke-width="1.05" opacity="0.75"/>
<path d="M28.1 54.1 C36.3 38.4 48.2 19.7 64.0 7.7" stroke="#27231f" stroke-width="0.56" opacity="0.76"/>
<path d="M20.2 47.7 C27.8 35.9 38.2 26.0 50.1 22.2" stroke="#27231f" stroke-width="0.64" opacity="0.91"/>
<path d="M21.5 48.8 C29.5 37.3 38.8 27.1 51.3 23.5" stroke="#27231f" stroke-width="0.63" opacity="0.81"/>
<path d="M22.6 50.6 C30.7 38.3 40.4 28.0 52.5 24.6" stroke="#27231f" stroke-width="0.78" opacity="0.87"/>
<path d="M23.2 51.8 C31.9 39.9 41.5 29.7 53.3 25.8" stroke="#27231f" stroke-width="0.91" opacity="0.71"/>
<path d="M24.2 52.5 C32.6 40.8 42.6 30.1 54.8 26.2" stroke="#27231f" stroke-width="0.88" opacity="0.63"/>
<path d="M25.6 54.0 C33.4 41.4 43.7 31.9 56.0 27.9" stroke="#27231f" stroke-width="0.97" opacity="0.77"/>
<path d="M27.3 54.5 C34.6 42.9 44.7 33.1 57.0 28.9" stroke="#27231f" stroke-width="0.91" opacity="0.80"/>
<path d="M27.8 55.9 C36.3 44.4 45.7 34.3 58.4 30.0" stroke="#27231f" stroke-width="0.74" opacity="0.64"/>
<path d="M46.0 0.0 C60.1 -0.4 80.4 0.0 99.9 4.3" stroke="#27231f" stroke-width="1.00" opacity="0.77"/>
<path d="M46.2 0.9 C60.0 1.2 80.4 1.6 99.8 5.2" stroke="#27231f" stroke-width="0.65" opacity="0.75"/>
<path d="M46.3 2.9 C60.0 2.3 79.7 2.6 100.4 6.2" stroke="#27231f" stroke-width="1.17" opacity="0.56"/>
<path d="M45.7 3.5 C60.2 3.6 79.9 3.9 99.6 8.0" stroke="#27231f" stroke-width="0.65" opacity="0.78"/>
<path d="M45.8 4.7 C60.0 4.9 79.9 4.9 100.0 8.7" stroke="#27231f" stroke-width="0.71" opacity="0.83"/>
<path d="M52.1 22.0 C58.3 9.1 74.3 2.8 92.2 5.3" stroke="#27231f" stroke-width="1.27" opacity="0.69"/>
<path d="M50.8 21.4 C56.7 8.4 73.3 1.7 90.8 4.2" stroke="#27231f" stroke-width="0.76" opacity="0.59"/>
<path d="M50.3 19.9 C56.3 6.7 71.9 1.2 89.6 2.7" stroke="#27231f" stroke-width="1.10" opacity="0.96"/>
<path d="M49.4 18.7 C55.0 6.2 71.0 0.2 88.7 1.6" stroke="#27231f" stroke-width="0.63" opacity="0.57"/>
<path d="M58.0 20.0 C66.1 11.7 75.7 11.7 84.3 16.4" stroke="#27231f" stroke-width="0.44" opacity="0.32"/>
<path d="M57.6 22.9 C66.0 14.7 75.8 14.5 84.0 18.4" stroke="#27231f" stroke-width="0.37" opacity="0.30"/>
<path d="M58.2 25.3 C65.7 17.0 76.2 16.9 83.7 20.7" stroke="#27231f" stroke-width="0.35" opacity="0.30"/>
<path d="M44 27 C56 25.5 70 27 84 29" stroke="#27231f" stroke-width="1.5"/>
<path d="M84 29 C80 40 74 54 65 78" stroke="#27231f" stroke-width="1.5"/>
<path d="M47 30 C58 28.5 70 30 81 32" stroke="#27231f" stroke-width="0.6"/>
<path d="M90.4 4.3 C88.2 22.3 82.1 39.9 78.1 62.0" stroke="#27231f" stroke-width="1.34" opacity="0.91"/>
<path d="M91.5 4.9 C90.0 22.8 84.0 40.4 80.1 62.8" stroke="#27231f" stroke-width="1.11" opacity="0.90"/>
<path d="M93.7 4.9 C91.7 22.6 85.4 41.0 81.1 62.9" stroke="#27231f" stroke-width="1.06" opacity="0.83"/>
<path d="M95.0 5.9 C93.4 23.4 87.4 41.6 83.3 63.4" stroke="#27231f" stroke-width="1.35" opacity="0.84"/>
<path d="M97.2 6.2 C95.4 23.6 89.1 42.2 84.8 63.9" stroke="#27231f" stroke-width="0.59" opacity="0.64"/>
<path d="M98.6 6.1 C96.5 24.9 90.8 42.5 87.2 64.6" stroke="#27231f" stroke-width="1.35" opacity="0.84"/>
<path d="M100.8 6.6 C98.6 25.2 92.1 43.4 88.2 65.0" stroke="#27231f" stroke-width="0.69" opacity="0.77"/>
<path d="M102.4 7.1 C100.7 25.4 94.3 43.6 90.1 65.3" stroke="#27231f" stroke-width="1.07" opacity="0.80"/>
<path d="M103.8 8.2 C101.8 25.6 95.8 43.6 91.7 66.2" stroke="#27231f" stroke-width="0.86" opacity="0.95"/>
<path d="M86.2 31.6 C82.4 46.4 77.6 60.4 69.9 80.0" stroke="#27231f" stroke-width="0.98" opacity="0.66"/>
<path d="M88.4 32.7 C84.5 46.3 80.8 60.6 72.4 80.0" stroke="#27231f" stroke-width="0.77" opacity="0.76"/>
<path d="M90.4 32.3 C86.7 46.3 82.6 60.8 74.6 80.5" stroke="#27231f" stroke-width="0.75" opacity="0.74"/>
<path d="M93.3 33.0 C89.4 47.4 85.2 60.8 76.7 81.4" stroke="#27231f" stroke-width="0.87" opacity="0.83"/>
<path d="M95.2 33.1 C91.5 47.4 87.4 61.5 79.6 81.1" stroke="#27231f" stroke-width="0.55" opacity="0.99"/>
<path d="M98.0 34.0 C93.3 47.3 89.5 61.6 81.8 81.3" stroke="#27231f" stroke-width="0.72" opacity="0.58"/>
<path d="M99.6 34.2 C96.0 48.1 91.9 62.0 83.7 81.9" stroke="#27231f" stroke-width="0.85" opacity="0.93"/>
<path d="M99.6 35.7 C98.3 52.1 94.2 65.7 87.9 79.8" stroke="#27231f" stroke-width="1.20" opacity="0.72"/>
<path d="M99.1 36.4 C96.8 52.0 93.2 66.4 86.9 79.9" stroke="#27231f" stroke-width="0.63" opacity="0.94"/>
<path d="M97.6 35.6 C96.1 52.0 92.2 65.8 86.2 79.6" stroke="#27231f" stroke-width="0.72" opacity="0.85"/>
<path d="M96.6 35.8 C95.2 52.2 90.8 65.7 84.9 80.2" stroke="#27231f" stroke-width="0.84" opacity="0.60"/>
<path d="M96.2 36.1 C94.4 52.4 90.4 65.9 84.3 79.8" stroke="#27231f" stroke-width="0.80" opacity="0.73"/>
<path d="M46.4 32.4 C34.8 41.9 37.9 57.9 55.9 58.9" stroke="#27231f" stroke-width="0.86" opacity="0.80"/>
<path d="M46.8 32.5 C35.8 42.6 38.2 58.7 56.8 59.3" stroke="#27231f" stroke-width="0.72" opacity="0.78"/>
<path d="M47.0 33.1 C36.4 43.1 39.3 58.6 57.0 60.3" stroke="#27231f" stroke-width="0.77" opacity="0.59"/>
<path d="M47.7 33.9 C36.1 43.6 39.2 59.7 57.6 60.3" stroke="#27231f" stroke-width="0.88" opacity="0.89"/>
<path d="M48.0 34.2 C36.9 43.9 40.4 60.2 58.0 61.0" stroke="#27231f" stroke-width="1.28" opacity="0.87"/>
<path d="M48.9 34.4 C37.8 44.7 40.8 60.8 58.8 61.8" stroke="#27231f" stroke-width="1.47" opacity="0.84"/>
<path d="M49.0 35.2 C38.3 44.9 40.9 60.7 59.2 62.4" stroke="#27231f" stroke-width="1.00" opacity="0.63"/>
<circle cx="52" cy="43.5" r="10" fill="#cbbfaf" stroke="#27231f" stroke-width="1.3"/>
<path d="M44 45 C48 42 54 46 60 41 M46 50 C50 48 55 50 59 47 M45 40 C50 38 55 41 61 38" stroke="#27231f" stroke-width="0.4" opacity="0.7"/>
<path d="M59.7 31.9 C69.8 40.4 71.6 51.8 63.7 72.1" stroke="#27231f" stroke-width="0.87" opacity="0.63"/>
<path d="M61.6 31.7 C72.1 40.1 73.6 51.4 65.7 71.5" stroke="#27231f" stroke-width="0.54" opacity="0.87"/>
<path d="M64.1 31.2 C73.7 39.2 75.7 51.7 67.8 71.5" stroke="#27231f" stroke-width="0.89" opacity="0.77"/>
<path d="M65.8 31.5 C76.4 39.0 78.0 51.6 70.0 70.9" stroke="#27231f" stroke-width="0.43" opacity="0.98"/>
<path d="M68.3 30.8 C78.0 38.9 79.8 51.3 72.1 70.6" stroke="#27231f" stroke-width="0.41" opacity="0.76"/>
<path d="M69.9 30.8 C80.2 38.7 81.7 50.3 73.8 70.4" stroke="#27231f" stroke-width="0.92" opacity="0.78"/>
<path d="M72.1 30.7 C81.8 38.3 83.7 50.5 75.6 70.6" stroke="#27231f" stroke-width="0.91" opacity="0.92"/>
<path d="M73.6 29.8 C84.2 37.6 86.0 50.0 78.4 70.1" stroke="#27231f" stroke-width="0.91" opacity="0.69"/>
<path d="M0.3 35.9 C10.4 37.6 20.3 43.7 30.0 58.0" stroke="#27231f" stroke-width="0.68" opacity="0.92"/>
<path d="M-0.2 38.3 C9.6 40.3 20.0 46.7 29.9 60.7" stroke="#27231f" stroke-width="0.63" opacity="0.73"/>
<path d="M-0.0 41.4 C10.3 43.1 19.6 48.9 30.2 62.8" stroke="#27231f" stroke-width="1.00" opacity="0.76"/>
<path d="M-0.4 43.9 C10.3 45.2 20.1 51.3 29.9 65.5" stroke="#27231f" stroke-width="0.79" opacity="0.70"/>
<path d="M-0.1 46.2 C9.8 47.7 20.2 53.8 30.4 68.1" stroke="#27231f" stroke-width="1.13" opacity="0.70"/>
<path d="M0.3 48.1 C9.7 50.1 20.2 56.7 29.7 70.4" stroke="#27231f" stroke-width="1.22" opacity="0.82"/>
<path d="M-0.4 50.8 C9.7 52.7 19.9 58.6 30.4 72.9" stroke="#27231f" stroke-width="0.96" opacity="0.84"/>
<path d="M0.2 53.8 C9.9 55.3 19.9 61.1 29.9 75.7" stroke="#27231f" stroke-width="1.34" opacity="0.91"/>
<path d="M0.1 56.1 C9.6 57.8 19.9 64.1 29.6 77.9" stroke="#27231f" stroke-width="0.96" opacity="0.90"/>
<path d="M14.3 76.1 C15.7 62.2 26.4 50.0 41.9 44.0" stroke="#27231f" stroke-width="0.66" opacity="0.87"/>
<path d="M16.4 77.3 C18.2 63.6 27.7 51.7 44.1 45.0" stroke="#27231f" stroke-width="0.62" opacity="0.66"/>
<path d="M18.1 78.7 C19.8 64.9 29.9 52.5 45.7 46.9" stroke="#27231f" stroke-width="0.66" opacity="0.96"/>
<path d="M20.0 79.8 C22.1 65.5 32.4 54.2 48.3 47.8" stroke="#27231f" stroke-width="0.65" opacity="0.92"/>
<path d="M21.8 81.4 C23.8 67.1 34.3 54.7 50.0 48.6" stroke="#27231f" stroke-width="0.58" opacity="0.63"/>
<path d="M24.4 82.6 C26.1 68.1 36.2 56.5 51.9 50.3" stroke="#27231f" stroke-width="1.19" opacity="0.56"/>
<path d="M25.7 83.5 C27.7 69.4 38.1 57.2 54.0 51.3" stroke="#27231f" stroke-width="1.00" opacity="0.70"/>
<path d="M28.1 84.3 C30.2 70.4 40.4 58.8 56.0 52.7" stroke="#27231f" stroke-width="1.05" opacity="0.86"/>
<path d="M30.2 86.2 C32.0 72.4 42.3 60.3 57.9 53.9" stroke="#27231f" stroke-width="1.00" opacity="0.96"/>
<path d="M30.0 78.0 C35.9 68.4 45.8 61.6 58.2 64.4" stroke="#27231f" stroke-width="0.84" opacity="0.82"/>
<path d="M31.2 79.2 C37.1 68.9 46.7 63.3 59.0 65.2" stroke="#27231f" stroke-width="0.43" opacity="0.86"/>
<path d="M32.0 80.4 C37.8 70.6 47.8 64.3 60.4 67.1" stroke="#27231f" stroke-width="0.80" opacity="0.94"/>
<path d="M32.9 82.3 C38.7 72.2 49.1 66.4 60.6 68.3" stroke="#27231f" stroke-width="0.47" opacity="0.79"/>
<path d="M34.4 82.9 C39.8 73.2 49.8 66.9 62.4 69.6" stroke="#27231f" stroke-width="0.64" opacity="0.71"/>
<path d="M35.1 84.3 C40.6 75.0 50.8 68.7 63.4 71.1" stroke="#27231f" stroke-width="0.68" opacity="0.64"/>
<path d="M35.8 86.4 C42.4 75.7 52.3 69.9 64.0 71.7" stroke="#27231f" stroke-width="0.93" opacity="1.00"/>
<path d="M39.7 58.1 C47.7 64.3 55.6 69.6 64.2 77.8" stroke="#27231f" stroke-width="1.27" opacity="0.94"/>
<path d="M39.0 59.1 C47.0 65.8 54.8 71.0 62.6 79.3" stroke="#27231f" stroke-width="1.12" opacity="0.64"/>
<path d="M37.4 60.6 C45.9 67.1 53.6 73.0 62.1 80.9" stroke="#27231f" stroke-width="0.73" opacity="0.69"/>
<path d="M37.0 62.4 C44.4 68.4 52.2 74.7 60.5 82.3" stroke="#27231f" stroke-width="0.97" opacity="0.57"/>
<path d="M35.5 63.5 C43.2 70.0 51.1 75.5 59.7 83.5" stroke="#27231f" stroke-width="0.77" opacity="0.80"/>
<path d="M34.0 65.5 C42.7 70.7 50.3 77.4 58.2 85.5" stroke="#27231f" stroke-width="0.95" opacity="0.63"/>
<path d="M33.2 66.7 C41.0 72.7 49.4 78.6 57.1 86.9" stroke="#27231f" stroke-width="1.10" opacity="0.78"/>
<path d="M32.4 67.7 C40.3 73.7 48.1 79.8 55.9 88.2" stroke="#27231f" stroke-width="1.18" opacity="0.91"/>
<path d="M-0.2 82.0 C23.7 70.1 60.0 71.6 100.1 86.2" stroke="#27231f" stroke-width="1.01" opacity="0.94"/>
<path d="M-0.3 83.7 C23.6 72.0 59.9 73.9 99.8 88.3" stroke="#27231f" stroke-width="0.61" opacity="0.96"/>
<path d="M0.1 86.0 C24.3 73.8 59.7 75.8 99.6 89.8" stroke="#27231f" stroke-width="1.05" opacity="0.79"/>
<path d="M-0.2 88.1 C23.6 76.3 59.7 77.8 99.7 92.2" stroke="#27231f" stroke-width="1.21" opacity="0.90"/>
<path d="M-0.4 89.9 C23.9 77.7 60.4 79.6 100.0 94.2" stroke="#27231f" stroke-width="1.34" opacity="0.62"/>
<path d="M-0.0 92.2 C23.6 79.8 60.4 81.7 99.9 95.8" stroke="#27231f" stroke-width="0.89" opacity="0.58"/>
<path d="M-0.4 94.4 C24.2 82.2 59.8 83.8 100.0 97.8" stroke="#27231f" stroke-width="0.92" opacity="0.97"/>
<path d="M-0.1 91.9 C30.4 82.1 65.6 83.9 100.1 97.6" stroke="#27231f" stroke-width="0.82" opacity="0.86"/>
<path d="M0.3 94.6 C30.3 84.5 65.9 86.8 99.9 100.8" stroke="#27231f" stroke-width="0.72" opacity="0.71"/>
<path d="M-0.3 97.0 C29.7 86.7 65.7 89.0 99.8 103.0" stroke="#27231f" stroke-width="1.34" opacity="0.86"/>
<path d="M0.3 99.2 C29.9 89.1 66.2 91.4 99.8 105.1" stroke="#27231f" stroke-width="0.70" opacity="0.67"/>
<path d="M-0.1 102.4 C30.2 91.8 65.9 93.7 100.4 107.9" stroke="#27231f" stroke-width="1.16" opacity="0.88"/>
<path d="M0.4 63.6 C7.8 67.9 15.6 78.3 21.8 100.2" stroke="#27231f" stroke-width="0.97" opacity="0.57"/>
<path d="M-1.3 64.6 C6.4 68.5 14.9 78.4 20.6 100.7" stroke="#27231f" stroke-width="0.99" opacity="0.61"/>
<path d="M-2.2 65.4 C5.8 69.7 13.3 79.3 19.4 101.8" stroke="#27231f" stroke-width="0.87" opacity="0.72"/>
<path d="M-3.3 66.2 C4.2 70.3 12.1 80.0 18.0 102.5" stroke="#27231f" stroke-width="1.00" opacity="0.91"/>
<path d="M-4.4 67.0 C3.4 71.6 10.9 81.4 17.3 103.6" stroke="#27231f" stroke-width="1.24" opacity="0.66"/>
<path d="M-5.9 67.6 C1.9 71.9 9.6 81.9 15.8 104.0" stroke="#27231f" stroke-width="0.77" opacity="0.62"/>
<path d="M99.9 76.0 C89.7 82.1 79.8 87.6 71.9 99.9" stroke="#27231f" stroke-width="0.49" opacity="0.81"/>
<path d="M98.2 75.6 C88.2 81.2 77.9 87.5 69.6 99.5" stroke="#27231f" stroke-width="0.43" opacity="0.77"/>
<path d="M96.1 75.2 C85.8 81.0 75.6 87.1 68.4 99.3" stroke="#27231f" stroke-width="0.56" opacity="0.85"/>
<path d="M93.7 74.8 C84.1 81.2 73.9 86.9 66.4 99.0" stroke="#27231f" stroke-width="0.78" opacity="0.83"/>
<path d="M91.9 74.3 C81.8 80.7 72.3 86.3 64.4 98.0" stroke="#27231f" stroke-width="0.48" opacity="0.78"/>
<path d="M89.8 73.9 C80.4 79.7 69.7 85.8 62.2 97.8" stroke="#27231f" stroke-width="0.40" opacity="0.79"/>
<path d="M29.9 -0.2 C34.0 6.1 40.0 10.1 48.1 12.3" stroke="#27231f" stroke-width="0.98" opacity="0.70"/>
<path d="M28.5 3.0 C32.5 8.9 38.8 12.8 47.1 15.0" stroke="#27231f" stroke-width="0.50" opacity="0.83"/>
<path d="M27.3 5.4 C31.2 11.1 37.6 15.4 45.1 17.1" stroke="#27231f" stroke-width="0.59" opacity="0.63"/>
<path d="M26.0 7.7 C29.6 13.6 35.6 18.2 43.7 20.0" stroke="#27231f" stroke-width="0.86" opacity="0.77"/>
<path d="M-0.3 34.3 C4.3 39.6 5.8 50.0 4.3 61.9" stroke="#27231f" stroke-width="0.83" opacity="0.66"/>
<path d="M2.2 33.8 C5.9 40.2 8.3 50.3 6.1 61.9" stroke="#27231f" stroke-width="0.82" opacity="0.83"/>
<path d="M4.3 34.3 C7.7 39.9 10.2 49.8 7.7 61.6" stroke="#27231f" stroke-width="0.75" opacity="0.97"/>
<path d="M6.4 33.7 C10.2 39.9 12.1 49.9 10.4 62.4" stroke="#27231f" stroke-width="0.43" opacity="0.87"/>
<path d="M59.7 79.6 C69.8 76.2 82.4 75.7 95.8 79.6" stroke="#27231f" stroke-width="0.73" opacity="0.77"/>
<path d="M59.9 77.8 C70.3 74.3 81.8 73.9 96.1 78.2" stroke="#27231f" stroke-width="0.99" opacity="0.73"/>
<path d="M60.2 76.0 C70.3 71.7 81.7 71.6 96.4 75.8" stroke="#27231f" stroke-width="0.69" opacity="0.60"/>
<path d="M59.8 73.6 C70.1 69.7 82.1 69.8 95.8 74.0" stroke="#27231f" stroke-width="0.62" opacity="0.67"/>
<rect x="75" y="93.85" width="19.0" height="1.5" fill="#ffffff"/>
</g>
</g>
<rect x="349.4" y="202.3" width="95.0" height="94.3" fill="none" stroke="#1a1a1a" stroke-width="1.0"/>
<g clip-path="url(#clip_e1)">
<rect x="481.0" y="202.3" width="94.8" height="94.3" fill="#cec4b6"/>
<g transform="translate(481.0,202.3) scale(0.9480,0.9430)" fill="none" stroke-linecap="round">
<path d="M0 78 L100 60 L100 100 L0 100 Z" fill="#8f877c" fill-opacity="0.18" stroke="none"/>
<path d="M35 34 L60 17 L97 0 L100 0 L100 6 L66 24 L42 38 Z" fill="#8f877c" fill-opacity="0.34" stroke="#2a2622" stroke-width="0.8" stroke-opacity="0.95" stroke-linejoin="round"/>
<path d="M24 24 L40 8 L54 0 L63 0 L50 12 L34 26 L28 30 Z" fill="#8f877c" fill-opacity="0.32" stroke="#2a2622" stroke-width="0.8" stroke-opacity="0.95" stroke-linejoin="round"/>
<path d="M0 12 L8 4 L14 0 L19 0 L10 9 L2 17 L0 18 Z" fill="#8f877c" fill-opacity="0.4" stroke="#2a2622" stroke-width="0.8" stroke-opacity="0.95" stroke-linejoin="round"/>
<path d="M2 30 L12 16 L24 4 L28 6 L16 20 L6 33 Z" fill="#8f877c" fill-opacity="0.35" stroke="#2a2622" stroke-width="0.5" stroke-opacity="0.95" stroke-linejoin="round"/>
<path d="M4 36 C10 30 14 36 20 32 S30 36 36 32 S48 40 54 36 S62 40 66 36 L72 40 C64 46 54 42 46 46 S32 44 24 48 S10 46 2 52 Z" fill="#8f877c" fill-opacity="0.3" stroke="#2a2622" stroke-width="0.7"/>
<path d="M0 52 C14 48 30 44 50 36 M0 58 C16 54 34 48 56 40" stroke="#2a2622" stroke-width="0.5" opacity="0.8"/>
<path d="M17 76 L40 56 L66 38 L88 25 L90 30 L70 46 L44 64 L22 80 Z" fill="#8f877c" fill-opacity="0.34" stroke="#2a2622" stroke-width="0.8" stroke-opacity="0.95" stroke-linejoin="round"/>
<path d="M18.3 76.4 C40.3 57.7 64.1 39.9 88.0 25.7" stroke="#2a2622" stroke-width="0.36" opacity="0.75"/>
<path d="M18.8 77.3 C40.6 59.0 65.2 41.3 89.0 27.5" stroke="#2a2622" stroke-width="0.41" opacity="0.58"/>
<path d="M20.2 78.7 C42.1 60.8 66.4 42.6 90.2 28.6" stroke="#2a2622" stroke-width="0.47" opacity="0.85"/>
<path d="M20.9 79.7 C43.0 62.2 67.1 44.0 91.1 29.7" stroke="#2a2622" stroke-width="0.35" opacity="0.70"/>
<path d="M8 86 L36 66 L66 48 L96 36 L98 43 L70 58 L40 76 L12 90 Z" fill="#8f877c" fill-opacity="0.32" stroke="#2a2622" stroke-width="0.8" stroke-opacity="0.95" stroke-linejoin="round"/>
<path d="M8.2 85.8 C35.8 65.8 65.7 47.9 96.0 36.2" stroke="#2a2622" stroke-width="0.57" opacity="0.72"/>
<path d="M8.2 86.8 C36.5 66.9 66.2 48.6 96.5 37.0" stroke="#2a2622" stroke-width="0.81" opacity="0.66"/>
<path d="M8.8 88.0 C36.8 68.0 66.6 50.0 96.5 37.7" stroke="#2a2622" stroke-width="0.41" opacity="0.91"/>
<path d="M9.2 88.9 C37.3 68.9 67.1 50.9 97.3 38.5" stroke="#2a2622" stroke-width="0.89" opacity="0.72"/>
<path d="M9.3 89.2 C37.5 69.3 67.8 51.8 97.3 39.3" stroke="#2a2622" stroke-width="0.66" opacity="0.63"/>
<path d="M9.9 90.6 C37.7 70.3 68.1 52.3 97.8 40.6" stroke="#2a2622" stroke-width="0.81" opacity="0.95"/>
<path d="M10.4 91.2 C38.4 71.4 68.3 53.1 98.1 41.2" stroke="#2a2622" stroke-width="0.79" opacity="0.80"/>
<path d="M10.7 92.3 C38.4 72.2 68.5 54.2 98.8 42.0" stroke="#2a2622" stroke-width="0.88" opacity="0.59"/>
<path d="M11.0 93.0 C38.8 73.0 69.0 55.0 99.1 42.7" stroke="#2a2622" stroke-width="0.59" opacity="0.90"/>
<path d="M39.6 86.4 C59.6 76.2 79.6 65.9 99.9 57.5" stroke="#2a2622" stroke-width="0.51" opacity="0.44"/>
<path d="M41.0 88.8 C60.9 78.8 80.6 69.3 100.3 61.3" stroke="#2a2622" stroke-width="0.56" opacity="0.45"/>
<path d="M41.9 91.8 C61.7 81.3 81.4 71.4 101.4 64.2" stroke="#2a2622" stroke-width="0.40" opacity="0.42"/>
<path d="M42.3 94.8 C62.4 84.5 82.1 74.1 101.9 66.1" stroke="#2a2622" stroke-width="0.38" opacity="0.56"/>
<path d="M43.2 96.7 C63.2 86.7 83.3 77.1 103.6 68.9" stroke="#2a2622" stroke-width="0.56" opacity="0.37"/>
<path d="M44.6 100.2 C63.5 90.4 83.7 79.8 103.6 72.4" stroke="#2a2622" stroke-width="0.33" opacity="0.52"/>
<path d="M19.9 94.2 C39.8 89.5 60.5 92.2 79.6 100.6" stroke="#2a2622" stroke-width="0.57" opacity="0.35"/>
<path d="M21.4 95.5 C41.6 91.6 62.0 93.6 82.1 101.7" stroke="#2a2622" stroke-width="0.55" opacity="0.48"/>
<path d="M24.1 96.5 C43.6 92.2 64.4 94.3 83.9 102.4" stroke="#2a2622" stroke-width="0.49" opacity="0.46"/>
<path d="M26.4 97.9 C45.8 94.2 66.3 96.5 85.8 104.5" stroke="#2a2622" stroke-width="0.59" opacity="0.59"/>
<path d="M30 92 L56 76 L80 66 L100 60 L100 66 L82 72 L58 84 L36 96 Z" fill="#8f877c" fill-opacity="0.3" stroke="#2a2622" stroke-width="0.4" stroke-opacity="0.6" stroke-linejoin="round"/>
<path d="M52 100 L70 90 L88 84 L100 82 L100 90 L86 92 L70 100 Z" fill="#8f877c" fill-opacity="0.3" stroke="#2a2622" stroke-width="0.4" stroke-opacity="0.6" stroke-linejoin="round"/>
<path d="M0 60 L10 58 L24 52 L30 54 L14 62 L0 68 Z" fill="#8f877c" fill-opacity="0.3" stroke="#2a2622" stroke-width="0.5" stroke-opacity="0.7" stroke-linejoin="round"/>
<path d="M60 30 L78 18 L92 10 L94 14 L80 24 L64 34 Z" fill="#8f877c" fill-opacity="0.25" stroke="#2a2622" stroke-width="0.5" stroke-opacity="0.8" stroke-linejoin="round"/>
<path d="M77.4 92.4 l1.9 -1.2" stroke="#2a2622" stroke-width="0.59" opacity="0.60"/>
<path d="M53.5 64.5 l3.1 -2.6" stroke="#2a2622" stroke-width="0.43" opacity="0.47"/>
<path d="M82.3 81.5 l3.3 -2.4" stroke="#2a2622" stroke-width="0.43" opacity="0.57"/>
<path d="M44.5 62.8 l5.4 -2.9" stroke="#2a2622" stroke-width="0.69" opacity="0.51"/>
<path d="M62.3 74.2 l4.7 -1.7" stroke="#2a2622" stroke-width="0.69" opacity="0.56"/>
<path d="M84.0 72.6 l3.0 -2.5" stroke="#2a2622" stroke-width="0.31" opacity="0.46"/>
<path d="M97.5 88.3 l5.0 -2.4" stroke="#2a2622" stroke-width="0.41" opacity="0.37"/>
<path d="M60.2 57.9 l4.3 -2.4" stroke="#2a2622" stroke-width="0.52" opacity="0.35"/>
<path d="M14.6 83.9 l3.2 -1.6" stroke="#2a2622" stroke-width="0.60" opacity="0.54"/>
<path d="M53.2 63.9 l3.5 -1.2" stroke="#2a2622" stroke-width="0.41" opacity="0.41"/>
<path d="M49.3 79.6 l4.9 -3.4" stroke="#2a2622" stroke-width="0.69" opacity="0.31"/>
<path d="M79.0 80.6 l5.1 -4.0" stroke="#2a2622" stroke-width="0.58" opacity="0.68"/>
<path d="M66.7 60.1 l6.2 -2.2" stroke="#2a2622" stroke-width="0.34" opacity="0.63"/>
<path d="M79.5 87.4 l6.1 -3.1" stroke="#2a2622" stroke-width="0.50" opacity="0.41"/>
<path d="M57.3 99.7 l4.9 -1.9" stroke="#2a2622" stroke-width="0.38" opacity="0.59"/>
<path d="M73.2 58.2 l4.9 -3.7" stroke="#2a2622" stroke-width="0.39" opacity="0.32"/>
<path d="M66.3 61.4 l5.2 -4.5" stroke="#2a2622" stroke-width="0.62" opacity="0.60"/>
<path d="M56.9 80.7 l5.4 -2.7" stroke="#2a2622" stroke-width="0.36" opacity="0.62"/>
<path d="M35.4 81.3 l4.3 -1.6" stroke="#2a2622" stroke-width="0.47" opacity="0.64"/>
<path d="M67.1 82.5 l5.0 -3.7" stroke="#2a2622" stroke-width="0.62" opacity="0.62"/>
<path d="M58.3 98.9 l4.3 -2.6" stroke="#2a2622" stroke-width="0.50" opacity="0.62"/>
<path d="M52.2 79.2 l4.7 -1.7" stroke="#2a2622" stroke-width="0.62" opacity="0.64"/>
<path d="M26.6 82.0 l5.6 -2.6" stroke="#2a2622" stroke-width="0.68" opacity="0.67"/>
<path d="M50.1 99.3 l4.5 -3.7" stroke="#2a2622" stroke-width="0.40" opacity="0.45"/>
<path d="M88.5 75.7 l2.5 -1.3" stroke="#2a2622" stroke-width="0.40" opacity="0.32"/>
<path d="M59.3 99.6 l5.4 -2.4" stroke="#2a2622" stroke-width="0.36" opacity="0.52"/>
<path d="M63.7 89.2 l3.2 -2.7" stroke="#2a2622" stroke-width="0.67" opacity="0.41"/>
<path d="M73.8 75.9 l4.9 -3.3" stroke="#2a2622" stroke-width="0.34" opacity="0.47"/>
<path d="M48.0 90.7 l3.6 -1.8" stroke="#2a2622" stroke-width="0.45" opacity="0.59"/>
<path d="M17.4 94.6 l5.1 -4.4" stroke="#2a2622" stroke-width="0.64" opacity="0.61"/>
<path d="M69.3 59.8 l5.2 -2.3" stroke="#2a2622" stroke-width="0.55" opacity="0.69"/>
<path d="M94.7 83.5 l5.2 -4.1" stroke="#2a2622" stroke-width="0.42" opacity="0.51"/>
<path d="M52.3 97.9 l4.6 -2.4" stroke="#2a2622" stroke-width="0.55" opacity="0.68"/>
<path d="M40.0 88.3 l4.2 -2.7" stroke="#2a2622" stroke-width="0.44" opacity="0.36"/>
<path d="M48.5 70.8 l6.1 -2.6" stroke="#2a2622" stroke-width="0.57" opacity="0.64"/>
<path d="M61.0 65.2 l5.9 -3.6" stroke="#2a2622" stroke-width="0.65" opacity="0.40"/>
<path d="M9.4 83.2 l4.5 -3.2" stroke="#2a2622" stroke-width="0.67" opacity="0.69"/>
<path d="M68.7 99.2 l5.5 -4.2" stroke="#2a2622" stroke-width="0.59" opacity="0.60"/>
<path d="M73.2 70.3 l4.2 -2.2" stroke="#2a2622" stroke-width="0.64" opacity="0.32"/>
<path d="M37.5 69.2 l4.7 -3.7" stroke="#2a2622" stroke-width="0.32" opacity="0.35"/>
<path d="M86.6 71.0 l2.3 -1.1" stroke="#2a2622" stroke-width="0.43" opacity="0.53"/>
<path d="M74.8 75.5 l5.0 -2.6" stroke="#2a2622" stroke-width="0.64" opacity="0.60"/>
<path d="M90.1 88.6 l3.0 -1.7" stroke="#2a2622" stroke-width="0.61" opacity="0.61"/>
<path d="M73.0 92.9 l5.4 -3.0" stroke="#2a2622" stroke-width="0.56" opacity="0.32"/>
<path d="M47.7 87.7 l6.1 -2.4" stroke="#2a2622" stroke-width="0.48" opacity="0.39"/>
<path d="M88.6 84.6 l2.3 -1.9" stroke="#2a2622" stroke-width="0.65" opacity="0.53"/>
<path d="M10.9 99.5 l4.5 -2.0" stroke="#2a2622" stroke-width="0.62" opacity="0.40"/>
<path d="M52.2 62.7 l4.3 -2.6" stroke="#2a2622" stroke-width="0.62" opacity="0.35"/>
<path d="M96.3 94.0 l2.7 -1.1" stroke="#2a2622" stroke-width="0.39" opacity="0.40"/>
<path d="M63.8 68.2 l2.3 -1.9" stroke="#2a2622" stroke-width="0.37" opacity="0.38"/>
<path d="M91.2 56.9 l3.8 -2.8" stroke="#2a2622" stroke-width="0.59" opacity="0.30"/>
<path d="M37.1 88.2 l1.8 -1.1" stroke="#2a2622" stroke-width="0.43" opacity="0.49"/>
<path d="M62.9 58.6 l5.2 -3.6" stroke="#2a2622" stroke-width="0.61" opacity="0.35"/>
<path d="M51.1 26.4 l3.1 -2.6" stroke="#2a2622" stroke-width="0.54" opacity="0.31"/>
<path d="M2.7 33.3 l1.6 -1.3" stroke="#2a2622" stroke-width="0.49" opacity="0.55"/>
<path d="M0.0 20.1 l2.6 -2.0" stroke="#2a2622" stroke-width="0.31" opacity="0.53"/>
<path d="M57.4 27.4 l4.1 -2.2" stroke="#2a2622" stroke-width="0.55" opacity="0.55"/>
<path d="M29.2 4.4 l4.6 -2.5" stroke="#2a2622" stroke-width="0.51" opacity="0.39"/>
<path d="M58.5 31.1 l2.8 -1.6" stroke="#2a2622" stroke-width="0.37" opacity="0.37"/>
<path d="M54.3 2.8 l4.0 -3.8" stroke="#2a2622" stroke-width="0.47" opacity="0.51"/>
<path d="M54.2 11.0 l1.8 -1.5" stroke="#2a2622" stroke-width="0.37" opacity="0.43"/>
<path d="M6.6 4.5 l2.4 -3.5" stroke="#2a2622" stroke-width="0.38" opacity="0.42"/>
<path d="M5.7 40.3 l3.1 -4.7" stroke="#2a2622" stroke-width="0.54" opacity="0.35"/>
<path d="M43.8 3.0 l4.5 -2.1" stroke="#2a2622" stroke-width="0.38" opacity="0.35"/>
<path d="M20.4 43.0 l3.2 -4.0" stroke="#2a2622" stroke-width="0.57" opacity="0.52"/>
<path d="M57.4 48.6 l2.2 -1.4" stroke="#2a2622" stroke-width="0.31" opacity="0.36"/>
<path d="M32.2 11.7 l2.0 -2.0" stroke="#2a2622" stroke-width="0.44" opacity="0.58"/>
<path d="M34.9 27.8 l3.1 -3.8" stroke="#2a2622" stroke-width="0.54" opacity="0.53"/>
<path d="M48.9 22.5 l2.4 -3.4" stroke="#2a2622" stroke-width="0.44" opacity="0.49"/>
<path d="M57.0 44.8 l2.9 -1.7" stroke="#2a2622" stroke-width="0.56" opacity="0.59"/>
<path d="M40.8 16.5 l3.0 -4.6" stroke="#2a2622" stroke-width="0.47" opacity="0.44"/>
<path d="M53.0 31.1 l1.7 -2.2" stroke="#2a2622" stroke-width="0.31" opacity="0.53"/>
<path d="M47.0 18.7 l2.3 -1.8" stroke="#2a2622" stroke-width="0.36" opacity="0.46"/>
<path d="M20.6 16.0 l3.1 -3.6" stroke="#2a2622" stroke-width="0.40" opacity="0.47"/>
<path d="M56.5 7.5 l2.2 -2.4" stroke="#2a2622" stroke-width="0.39" opacity="0.45"/>
<path d="M49.2 9.1 l3.6 -3.3" stroke="#2a2622" stroke-width="0.47" opacity="0.45"/>
<path d="M36.2 9.0 l3.2 -3.1" stroke="#2a2622" stroke-width="0.54" opacity="0.48"/>
<path d="M24.5 49.4 l1.5 -2.3" stroke="#2a2622" stroke-width="0.34" opacity="0.51"/>
<path d="M5.5 36.8 l1.6 -1.7" stroke="#2a2622" stroke-width="0.49" opacity="0.31"/>
<path d="M26.0 50.0 l3.5 -3.4" stroke="#2a2622" stroke-width="0.57" opacity="0.47"/>
<path d="M48.7 17.2 l3.0 -1.9" stroke="#2a2622" stroke-width="0.53" opacity="0.51"/>
<path d="M9.0 21.1 l2.1 -2.5" stroke="#2a2622" stroke-width="0.33" opacity="0.52"/>
<path d="M8.5 17.7 l1.7 -1.1" stroke="#2a2622" stroke-width="0.49" opacity="0.32"/>
<path d="M57.0 49.7 l4.3 -2.5" stroke="#2a2622" stroke-width="0.51" opacity="0.31"/>
<path d="M16.4 11.8 l1.7 -1.2" stroke="#2a2622" stroke-width="0.48" opacity="0.41"/>
<path d="M44.9 11.7 l1.9 -2.5" stroke="#2a2622" stroke-width="0.37" opacity="0.56"/>
<path d="M29.4 36.8 l4.5 -3.1" stroke="#2a2622" stroke-width="0.41" opacity="0.59"/>
<path d="M4.8 20.7 l4.6 -3.1" stroke="#2a2622" stroke-width="0.41" opacity="0.55"/>
<path d="M45.5 36.2 l2.5 -1.7" stroke="#2a2622" stroke-width="0.50" opacity="0.55"/>
<path d="M30.8 46.5 l3.1 -3.7" stroke="#2a2622" stroke-width="0.47" opacity="0.36"/>
<path d="M37.0 16.3 l4.2 -4.3" stroke="#2a2622" stroke-width="0.54" opacity="0.55"/>
<path d="M22.4 29.5 l2.1 -2.1" stroke="#2a2622" stroke-width="0.43" opacity="0.51"/>
<path d="M30.5 8.0 l3.5 -2.9" stroke="#2a2622" stroke-width="0.46" opacity="0.43"/>
<path d="M91 18 L97 30 L100 44 L100 50 L95 40 L92 28 Z" fill="#8f877c" fill-opacity="0.45" stroke="#2a2622" stroke-width="0.7" stroke-opacity="0.95" stroke-linejoin="round"/>
<path d="M94 50 L100 58 L100 70 L96 62 Z" fill="#8f877c" fill-opacity="0.4" stroke="#2a2622" stroke-width="0.6" stroke-opacity="0.95" stroke-linejoin="round"/>
<path d="M10 82 C13 79 18 80 20 83 C17 86 12 86 10 82 Z" fill="#2a2622" fill-opacity="0.7" stroke="none"/>
<rect x="66.8" y="94.25" width="27.9" height="1.5" fill="#ffffff"/>
</g>
</g>
<rect x="481.0" y="202.3" width="94.8" height="94.3" fill="none" stroke="#1a1a1a" stroke-width="1.0"/>
<g clip-path="url(#clip_e2)">
<rect x="589.1" y="201.2" width="94.9" height="95.0" fill="#cbbfae"/>
<g transform="translate(589.1,201.2) scale(0.9490,0.9500)" fill="none" stroke-linecap="round">
<path d="M78.1 86.2 Q88.0 86.4 97.2 87.4" stroke="#7d766c" stroke-width="2.56" opacity="0.48"/>
<path d="M52.6 31.5 Q61.8 25.8 69.6 20.5" stroke="#7d766c" stroke-width="2.26" opacity="0.49"/>
<path d="M1.0 14.1 Q4.6 3.9 9.0 -7.6" stroke="#7d766c" stroke-width="3.12" opacity="0.79"/>
<path d="M50.9 5.4 Q57.2 -1.5 65.2 -7.9" stroke="#7d766c" stroke-width="2.85" opacity="0.65"/>
<path d="M-6.5 66.9 Q2.1 57.8 11.6 50.7" stroke="#7d766c" stroke-width="1.22" opacity="0.68"/>
<path d="M6.9 75.0 Q19.0 75.3 31.0 73.2" stroke="#7d766c" stroke-width="2.92" opacity="0.70"/>
<path d="M39.6 24.8 Q46.6 18.3 56.3 12.1" stroke="#7d766c" stroke-width="2.45" opacity="0.55"/>
<path d="M-4.2 70.6 Q3.3 68.0 13.6 62.3" stroke="#7d766c" stroke-width="2.31" opacity="0.45"/>
<path d="M14.4 57.4 Q22.2 53.5 29.5 49.3" stroke="#7d766c" stroke-width="1.33" opacity="0.50"/>
<path d="M32.3 55.0 Q40.7 51.6 52.1 49.5" stroke="#7d766c" stroke-width="1.79" opacity="0.52"/>
<path d="M31.0 36.9 Q40.5 28.4 47.2 22.7" stroke="#7d766c" stroke-width="2.33" opacity="0.47"/>
<path d="M61.1 38.1 Q73.4 31.8 83.1 28.2" stroke="#7d766c" stroke-width="2.84" opacity="0.70"/>
<path d="M96.3 30.8 Q100.6 28.0 106.4 25.1" stroke="#7d766c" stroke-width="2.90" opacity="0.69"/>
<path d="M23.6 78.1 Q33.0 79.2 39.6 78.1" stroke="#7d766c" stroke-width="1.26" opacity="0.66"/>
<path d="M40.5 10.9 Q48.9 3.9 56.6 -5.9" stroke="#7d766c" stroke-width="2.92" opacity="0.78"/>
<path d="M63.2 2.5 Q65.2 -0.2 69.9 -4.4" stroke="#7d766c" stroke-width="2.51" opacity="0.65"/>
<path d="M72.1 16.5 Q76.8 15.5 80.5 11.9" stroke="#7d766c" stroke-width="3.08" opacity="0.66"/>
<path d="M-2.3 95.3 Q2.2 98.9 9.2 102.7" stroke="#7d766c" stroke-width="1.53" opacity="0.53"/>
<path d="M-11.8 77.8 Q-4.3 77.3 2.4 75.0" stroke="#7d766c" stroke-width="1.40" opacity="0.79"/>
<path d="M11.5 31.7 Q18.7 23.4 28.5 13.2" stroke="#7d766c" stroke-width="1.35" opacity="0.64"/>
<path d="M48.1 49.7 Q59.3 47.0 69.6 41.5" stroke="#7d766c" stroke-width="2.80" opacity="0.78"/>
<path d="M16.7 19.1 Q22.3 13.6 27.3 6.9" stroke="#7d766c" stroke-width="1.50" opacity="0.62"/>
<path d="M8.8 14.5 Q12.7 10.0 14.6 5.2" stroke="#7d766c" stroke-width="1.71" opacity="0.62"/>
<path d="M3.6 58.2 Q9.6 54.0 17.1 47.3" stroke="#7d766c" stroke-width="2.76" opacity="0.48"/>
<path d="M17.9 82.3 Q27.3 82.7 34.7 82.6" stroke="#7d766c" stroke-width="2.30" opacity="0.54"/>
<path d="M-7.3 81.1 Q1.1 81.9 11.1 82.8" stroke="#7d766c" stroke-width="2.50" opacity="0.66"/>
<path d="M46.9 8.8 Q53.1 3.1 59.8 -3.6" stroke="#7d766c" stroke-width="3.10" opacity="0.68"/>
<path d="M15.0 28.9 Q23.7 20.4 29.7 10.7" stroke="#7d766c" stroke-width="1.92" opacity="0.50"/>
<path d="M-1.2 28.0 Q2.9 21.2 4.8 12.1" stroke="#7d766c" stroke-width="1.48" opacity="0.48"/>
<path d="M20.9 86.1 Q25.3 87.0 29.6 86.1" stroke="#7d766c" stroke-width="2.94" opacity="0.68"/>
<path d="M58.8 16.9 Q65.8 10.8 75.4 6.8" stroke="#7d766c" stroke-width="1.71" opacity="0.57"/>
<path d="M25.6 74.9 Q34.5 75.9 41.8 74.9" stroke="#7d766c" stroke-width="1.83" opacity="0.52"/>
<path d="M76.3 43.7 Q86.7 42.5 97.9 38.9" stroke="#7d766c" stroke-width="1.71" opacity="0.68"/>
<path d="M67.9 56.3 Q81.2 55.9 92.3 53.7" stroke="#7d766c" stroke-width="2.54" opacity="0.47"/>
<path d="M55.8 -0.8 Q58.5 -3.7 63.1 -7.8" stroke="#7d766c" stroke-width="2.73" opacity="0.70"/>
<path d="M18.1 99.0 Q25.5 102.8 34.9 105.8" stroke="#7d766c" stroke-width="3.03" opacity="0.52"/>
<path d="M8.2 15.0 Q11.2 7.8 16.4 1.2" stroke="#7d766c" stroke-width="2.13" opacity="0.63"/>
<path d="M33.3 11.7 Q38.0 8.2 40.0 3.2" stroke="#7d766c" stroke-width="2.33" opacity="0.73"/>
<path d="M50.7 82.3 Q57.0 81.3 64.7 81.5" stroke="#7d766c" stroke-width="1.34" opacity="0.79"/>
<path d="M96.4 59.1 Q100.4 58.8 107.1 57.3" stroke="#7d766c" stroke-width="2.40" opacity="0.79"/>
<path d="M78.5 78.1 Q84.3 78.0 91.4 77.5" stroke="#7d766c" stroke-width="1.35" opacity="0.75"/>
<path d="M21.8 40.7 Q32.4 32.8 43.3 26.3" stroke="#7d766c" stroke-width="2.13" opacity="0.59"/>
<path d="M79.6 48.0 Q84.7 45.4 90.1 44.8" stroke="#7d766c" stroke-width="2.04" opacity="0.49"/>
<path d="M19.7 71.1 Q29.6 70.2 37.9 66.7" stroke="#7d766c" stroke-width="1.44" opacity="0.45"/>
<path d="M56.2 29.1 Q61.8 27.3 65.5 23.3" stroke="#7d766c" stroke-width="1.94" opacity="0.67"/>
<path d="M32.3 11.7 Q36.2 4.0 42.3 -3.2" stroke="#7d766c" stroke-width="2.03" opacity="0.69"/>
<path d="M25.9 78.3 Q33.4 78.9 39.2 79.1" stroke="#7d766c" stroke-width="1.78" opacity="0.52"/>
<path d="M1.9 31.0 Q6.7 23.0 13.2 12.0" stroke="#7d766c" stroke-width="1.29" opacity="0.74"/>
<path d="M32.5 57.0 Q38.0 55.0 44.5 53.5" stroke="#7d766c" stroke-width="2.46" opacity="0.65"/>
<path d="M15.3 59.0 Q23.2 58.1 28.3 54.5" stroke="#7d766c" stroke-width="1.87" opacity="0.62"/>
<path d="M20.4 22.1 Q23.2 17.6 27.4 14.4" stroke="#7d766c" stroke-width="1.91" opacity="0.78"/>
<path d="M36.1 64.4 Q47.0 62.3 55.3 61.9" stroke="#7d766c" stroke-width="1.44" opacity="0.69"/>
<path d="M1.7 96.6 Q9.8 101.3 20.4 106.0" stroke="#7d766c" stroke-width="2.91" opacity="0.67"/>
<path d="M75.7 89.2 Q84.9 90.9 94.8 92.5" stroke="#7d766c" stroke-width="1.85" opacity="0.70"/>
<path d="M51.4 36.5 Q59.3 32.8 68.0 27.3" stroke="#7d766c" stroke-width="2.20" opacity="0.70"/>
<path d="M17.6 98.8 Q24.9 103.5 30.1 106.0" stroke="#7d766c" stroke-width="3.11" opacity="0.69"/>
<path d="M-7.5 59.3 Q-1.0 54.8 6.2 49.3" stroke="#7d766c" stroke-width="2.29" opacity="0.71"/>
<path d="M94.7 53.8 Q101.5 52.1 109.3 51.5" stroke="#7d766c" stroke-width="1.46" opacity="0.68"/>
<path d="M84.0 12.1 Q93.2 7.3 100.1 1.5" stroke="#7d766c" stroke-width="2.78" opacity="0.63"/>
<path d="M-1.4 16.1 Q4.1 6.1 8.2 -2.7" stroke="#7d766c" stroke-width="2.81" opacity="0.67"/>
<path d="M11.8 97.1 Q21.5 103.7 32.1 110.1" stroke="#7d766c" stroke-width="2.10" opacity="0.76"/>
<path d="M19.9 66.6 Q25.4 67.1 31.3 64.6" stroke="#7d766c" stroke-width="1.54" opacity="0.60"/>
<path d="M1.5 30.4 Q7.2 20.2 14.5 7.9" stroke="#7d766c" stroke-width="1.39" opacity="0.69"/>
<path d="M33.7 66.0 Q41.1 63.6 46.9 61.7" stroke="#7d766c" stroke-width="2.24" opacity="0.45"/>
<path d="M-9.1 76.7 Q4.6 75.0 15.6 76.0" stroke="#7d766c" stroke-width="2.38" opacity="0.61"/>
<path d="M58.6 50.8 Q70.0 48.7 81.3 44.3" stroke="#7d766c" stroke-width="1.61" opacity="0.57"/>
<path d="M68.5 10.1 Q71.8 6.8 77.5 3.5" stroke="#7d766c" stroke-width="2.14" opacity="0.59"/>
<path d="M64.8 17.3 Q70.9 12.0 79.9 6.4" stroke="#7d766c" stroke-width="2.50" opacity="0.75"/>
<path d="M96.8 87.9 Q102.2 88.0 105.6 87.7" stroke="#7d766c" stroke-width="1.93" opacity="0.63"/>
<path d="M-3.4 85.6 Q9.1 91.0 20.4 93.5" stroke="#7d766c" stroke-width="2.60" opacity="0.64"/>
<path d="M64.6 60.9 Q70.8 60.5 76.8 58.7" stroke="#7d766c" stroke-width="3.10" opacity="0.45"/>
<path d="M43.1 57.5 Q48.8 55.8 55.4 53.3" stroke="#7d766c" stroke-width="1.43" opacity="0.52"/>
<path d="M61.7 22.8 Q71.7 15.5 82.9 8.4" stroke="#7d766c" stroke-width="1.43" opacity="0.52"/>
<path d="M62.4 99.0 Q66.0 98.8 70.7 100.6" stroke="#7d766c" stroke-width="2.91" opacity="0.73"/>
<path d="M16.4 42.8 Q20.7 37.4 28.0 35.1" stroke="#7d766c" stroke-width="1.82" opacity="0.77"/>
<path d="M35.2 47.3 Q41.2 43.5 46.2 40.9" stroke="#7d766c" stroke-width="2.58" opacity="0.46"/>
<path d="M82.8 14.6 Q92.4 8.4 101.1 3.1" stroke="#7d766c" stroke-width="2.36" opacity="0.76"/>
<path d="M92.9 42.4 Q99.1 37.9 106.1 36.4" stroke="#7d766c" stroke-width="1.83" opacity="0.49"/>
<path d="M89.1 49.9 Q98.4 47.7 107.5 47.4" stroke="#7d766c" stroke-width="2.73" opacity="0.52"/>
<path d="M29.6 61.2 Q37.6 58.4 46.8 53.6" stroke="#7d766c" stroke-width="2.07" opacity="0.47"/>
<path d="M21.3 47.5 Q27.3 42.4 31.5 39.0" stroke="#7d766c" stroke-width="2.49" opacity="0.69"/>
<path d="M17.5 85.4 Q24.7 87.6 31.5 87.5" stroke="#7d766c" stroke-width="1.44" opacity="0.50"/>
<path d="M45.9 50.4 Q55.9 45.9 64.1 40.3" stroke="#7d766c" stroke-width="1.84" opacity="0.55"/>
<path d="M11.1 81.3 Q16.6 79.8 24.6 80.0" stroke="#7d766c" stroke-width="1.77" opacity="0.75"/>
<path d="M80.2 93.8 Q91.5 93.8 103.2 95.8" stroke="#7d766c" stroke-width="2.20" opacity="0.62"/>
<path d="M1.1 53.5 Q7.6 48.1 11.6 44.4" stroke="#7d766c" stroke-width="1.53" opacity="0.60"/>
<path d="M6.1 88.8 Q13.7 88.9 22.2 91.4" stroke="#7d766c" stroke-width="3.04" opacity="0.51"/>
<path d="M64.6 14.1 Q69.9 10.2 74.6 8.6" stroke="#7d766c" stroke-width="2.95" opacity="0.76"/>
<path d="M54.2 20.8 Q63.8 17.2 70.6 11.7" stroke="#7d766c" stroke-width="1.60" opacity="0.74"/>
<path d="M72.7 89.3 Q81.5 89.3 87.5 91.4" stroke="#7d766c" stroke-width="3.10" opacity="0.50"/>
<path d="M75.8 92.3 Q88.3 94.0 98.2 94.0" stroke="#7d766c" stroke-width="1.99" opacity="0.68"/>
<path d="M86.0 6.4 Q90.2 4.7 94.4 1.1" stroke="#7d766c" stroke-width="3.02" opacity="0.66"/>
<path d="M96.5 93.7 Q99.7 94.4 104.8 94.5" stroke="#7d766c" stroke-width="2.68" opacity="0.77"/>
<path d="M72.3 53.6 Q84.9 49.5 96.1 44.4" stroke="#7d766c" stroke-width="2.21" opacity="0.63"/>
<path d="M68.2 97.6 Q75.8 98.9 83.1 102.0" stroke="#7d766c" stroke-width="3.20" opacity="0.70"/>
<path d="M91.9 61.6 Q97.3 60.1 104.7 58.1" stroke="#7d766c" stroke-width="1.63" opacity="0.51"/>
<path d="M49.0 25.2 Q59.2 17.8 67.6 11.8" stroke="#7d766c" stroke-width="3.09" opacity="0.76"/>
<path d="M24.2 17.7 Q28.0 13.7 31.1 8.1" stroke="#7d766c" stroke-width="1.45" opacity="0.65"/>
<path d="M23.6 13.0 Q30.3 2.8 37.1 -7.9" stroke="#7d766c" stroke-width="2.96" opacity="0.46"/>
<path d="M78.8 86.7 Q88.4 85.6 95.8 85.5" stroke="#7d766c" stroke-width="1.57" opacity="0.54"/>
<path d="M82.7 44.2 Q88.1 43.3 93.8 41.9" stroke="#7d766c" stroke-width="2.89" opacity="0.58"/>
<path d="M72.3 65.1 Q77.6 63.1 85.4 62.4" stroke="#7d766c" stroke-width="2.48" opacity="0.59"/>
<path d="M20.5 20.1 Q27.7 13.5 34.1 6.0" stroke="#7d766c" stroke-width="1.46" opacity="0.63"/>
<path d="M82.6 40.4 Q87.7 37.5 94.2 34.8" stroke="#7d766c" stroke-width="2.44" opacity="0.46"/>
<path d="M0.1 14.9 Q2.7 10.2 5.8 3.5" stroke="#7d766c" stroke-width="2.54" opacity="0.64"/>
<path d="M23.4 50.1 Q31.9 45.3 41.6 40.9" stroke="#7d766c" stroke-width="2.87" opacity="0.76"/>
<path d="M38.7 98.2 Q46.4 102.5 55.9 104.7" stroke="#7d766c" stroke-width="2.10" opacity="0.55"/>
<path d="M59.7 91.7 Q66.7 93.9 72.0 93.1" stroke="#7d766c" stroke-width="1.56" opacity="0.50"/>
<path d="M64.1 7.3 Q70.0 2.5 77.3 -5.2" stroke="#7d766c" stroke-width="2.32" opacity="0.78"/>
<path d="M72.8 57.6 Q81.1 53.9 91.9 52.0" stroke="#7d766c" stroke-width="2.50" opacity="0.70"/>
<path d="M-4.5 85.2 Q4.3 88.7 15.6 89.5" stroke="#7d766c" stroke-width="2.34" opacity="0.80"/>
<path d="M29.4 89.5 Q35.6 92.2 40.3 92.4" stroke="#7d766c" stroke-width="2.03" opacity="0.65"/>
<path d="M-6.2 44.5 Q-3.9 40.6 -1.7 35.9" stroke="#7d766c" stroke-width="2.99" opacity="0.76"/>
<path d="M-13.9 74.3 Q-4.0 71.0 4.6 66.0" stroke="#7d766c" stroke-width="1.61" opacity="0.71"/>
<path d="M-4.6 99.1 Q2.9 103.6 7.9 109.6" stroke="#7d766c" stroke-width="2.52" opacity="0.54"/>
<path d="M15.3 77.9 Q27.6 77.4 37.1 74.4" stroke="#7d766c" stroke-width="1.83" opacity="0.54"/>
<path d="M1.5 71.0 Q8.8 68.9 16.4 66.2" stroke="#7d766c" stroke-width="2.04" opacity="0.71"/>
<path d="M78.0 2.3 Q83.1 -0.2 89.0 -4.1" stroke="#7d766c" stroke-width="2.49" opacity="0.60"/>
<path d="M0.9 54.2 Q5.7 51.1 7.7 47.8" stroke="#7d766c" stroke-width="2.93" opacity="0.51"/>
<path d="M93.3 100.7 Q98.5 102.2 103.1 103.3" stroke="#7d766c" stroke-width="2.70" opacity="0.73"/>
<path d="M76.5 2.7 Q84.2 -4.0 93.2 -8.4" stroke="#7d766c" stroke-width="2.63" opacity="0.59"/>
<path d="M57.2 58.1 Q61.9 56.4 69.1 55.5" stroke="#7d766c" stroke-width="3.17" opacity="0.61"/>
<path d="M83.0 34.0 Q91.7 30.9 100.6 25.1" stroke="#7d766c" stroke-width="3.14" opacity="0.55"/>
<path d="M4.6 47.7 Q11.5 42.1 16.0 34.6" stroke="#7d766c" stroke-width="2.10" opacity="0.65"/>
<path d="M78.0 68.0 Q83.3 67.2 88.2 67.3" stroke="#7d766c" stroke-width="1.74" opacity="0.46"/>
<path d="M21.9 69.0 Q31.5 66.0 40.8 62.2" stroke="#7d766c" stroke-width="1.54" opacity="0.48"/>
<path d="M31.3 60.7 Q37.4 59.7 44.3 58.4" stroke="#7d766c" stroke-width="1.80" opacity="0.66"/>
<path d="M40.5 38.5 Q46.0 35.9 49.8 31.6" stroke="#7d766c" stroke-width="2.21" opacity="0.74"/>
<path d="M61.6 78.0 Q70.5 78.6 77.6 76.6" stroke="#7d766c" stroke-width="2.60" opacity="0.67"/>
<path d="M18.7 68.3 Q25.5 69.0 33.4 66.7" stroke="#7d766c" stroke-width="1.77" opacity="0.57"/>
<path d="M12.1 8.5 Q16.3 -0.5 22.5 -11.3" stroke="#7d766c" stroke-width="1.27" opacity="0.64"/>
<path d="M5.9 84.3 Q19.4 85.6 30.6 84.1" stroke="#7d766c" stroke-width="1.79" opacity="0.66"/>
<path d="M27.4 33.9 Q34.3 28.1 42.0 23.6" stroke="#7d766c" stroke-width="1.46" opacity="0.70"/>
<path d="M67.2 86.2 Q74.8 85.3 83.0 86.5" stroke="#7d766c" stroke-width="2.34" opacity="0.76"/>
<path d="M79.1 3.6 Q81.2 -0.5 85.3 -1.9" stroke="#7d766c" stroke-width="3.03" opacity="0.78"/>
<path d="M55.8 4.1 Q59.4 -1.1 64.2 -5.8" stroke="#7d766c" stroke-width="3.16" opacity="0.53"/>
<path d="M49.4 62.6 Q54.8 62.0 58.4 60.4" stroke="#7d766c" stroke-width="3.07" opacity="0.60"/>
<path d="M93.6 72.7 Q99.7 71.5 104.9 72.5" stroke="#7d766c" stroke-width="2.82" opacity="0.78"/>
<path d="M52.1 7.2 Q55.3 5.2 57.4 1.3" stroke="#7d766c" stroke-width="1.63" opacity="0.52"/>
<path d="M70.8 7.2 Q75.4 2.4 79.0 0.3" stroke="#7d766c" stroke-width="2.93" opacity="0.58"/>
<path d="M-5.4 31.6 Q-1.8 25.4 -1.0 20.6" stroke="#7d766c" stroke-width="1.24" opacity="0.45"/>
<path d="M58.3 4.4 Q65.6 0.9 71.5 -4.5" stroke="#7d766c" stroke-width="3.12" opacity="0.62"/>
<path d="M-6.1 47.4 Q-0.7 39.0 6.7 33.5" stroke="#7d766c" stroke-width="2.16" opacity="0.51"/>
<path d="M89.8 100.0 Q95.8 99.4 100.8 100.7" stroke="#7d766c" stroke-width="2.54" opacity="0.67"/>
<path d="M92.5 85.5 Q99.1 85.0 105.9 86.9" stroke="#7d766c" stroke-width="2.69" opacity="0.53"/>
<path d="M13.7 9.7 Q16.0 1.7 20.9 -6.2" stroke="#7d766c" stroke-width="2.34" opacity="0.50"/>
<path d="M7.5 3.7 Q9.2 -1.7 13.1 -5.2" stroke="#7d766c" stroke-width="1.28" opacity="0.53"/>
<path d="M4.7 17.5 Q9.0 10.6 13.6 2.5" stroke="#7d766c" stroke-width="2.88" opacity="0.49"/>
<path d="M17.6 61.1 Q24.9 56.9 33.9 53.4" stroke="#7d766c" stroke-width="2.90" opacity="0.47"/>
<path d="M42.7 34.3 Q49.4 27.6 58.7 20.3" stroke="#7d766c" stroke-width="3.17" opacity="0.48"/>
<path d="M25.6 85.3 Q38.7 85.4 48.8 85.0" stroke="#7d766c" stroke-width="2.47" opacity="0.56"/>
<path d="M8.6 27.8 Q13.4 21.4 20.6 14.3" stroke="#7d766c" stroke-width="1.57" opacity="0.47"/>
<path d="M42.7 75.7 Q51.9 75.7 61.3 73.2" stroke="#7d766c" stroke-width="1.39" opacity="0.58"/>
<path d="M63.9 31.6 Q72.2 27.5 82.5 22.6" stroke="#7d766c" stroke-width="2.77" opacity="0.76"/>
<path d="M77.4 99.6 Q87.2 101.5 97.1 106.2" stroke="#7d766c" stroke-width="2.19" opacity="0.72"/>
<path d="M69.6 18.3 Q77.6 12.9 83.7 9.7" stroke="#7d766c" stroke-width="1.22" opacity="0.61"/>
<path d="M80.5 47.1 Q84.2 44.1 89.2 43.2" stroke="#7d766c" stroke-width="2.11" opacity="0.70"/>
<path d="M35.3 41.9 Q42.9 37.3 51.4 30.0" stroke="#7d766c" stroke-width="1.28" opacity="0.66"/>
<path d="M42.7 74.6 Q51.3 75.5 57.7 74.1" stroke="#7d766c" stroke-width="2.32" opacity="0.55"/>
<path d="M6.4 81.6 Q17.0 80.0 26.9 80.3" stroke="#7d766c" stroke-width="2.78" opacity="0.64"/>
<path d="M65.1 97.1 Q69.8 98.4 77.1 100.1" stroke="#7d766c" stroke-width="2.53" opacity="0.55"/>
<path d="M37.7 37.1 Q44.6 33.1 51.1 29.8" stroke="#7d766c" stroke-width="2.76" opacity="0.73"/>
<path d="M4.2 30.1 Q7.8 21.0 12.5 12.2" stroke="#7d766c" stroke-width="3.02" opacity="0.67"/>
<path d="M16.2 52.4 Q22.8 47.5 30.5 43.8" stroke="#7d766c" stroke-width="2.29" opacity="0.66"/>
<path d="M16.5 28.1 Q23.4 20.2 28.4 13.1" stroke="#7d766c" stroke-width="1.78" opacity="0.73"/>
<path d="M62.6 43.9 Q72.2 39.0 80.8 34.1" stroke="#7d766c" stroke-width="1.47" opacity="0.76"/>
<path d="M69.6 70.3 Q83.3 69.9 94.6 69.1" stroke="#7d766c" stroke-width="3.15" opacity="0.49"/>
<path d="M11.9 82.1 Q19.4 83.6 29.0 83.1" stroke="#7d766c" stroke-width="2.63" opacity="0.51"/>
<path d="M-7.4 19.6 Q-3.6 12.4 -1.0 4.1" stroke="#7d766c" stroke-width="2.85" opacity="0.78"/>
<path d="M58.2 100.6 Q71.1 102.3 83.9 103.6" stroke="#7d766c" stroke-width="1.43" opacity="0.66"/>
<path d="M45.3 33.9 Q52.4 28.9 61.8 24.6" stroke="#211e1b" stroke-width="0.96" opacity="0.70"/>
<path d="M35.4 4.2 Q42.0 -3.4 49.2 -10.9" stroke="#211e1b" stroke-width="1.17" opacity="0.51"/>
<path d="M10.3 29.3 Q18.1 23.2 23.3 15.5" stroke="#211e1b" stroke-width="0.42" opacity="0.83"/>
<path d="M17.2 39.4 Q20.5 34.5 25.3 29.8" stroke="#211e1b" stroke-width="1.42" opacity="0.74"/>
<path d="M7.2 45.7 Q11.3 43.3 14.1 40.1" stroke="#211e1b" stroke-width="0.71" opacity="0.94"/>
<path d="M77.0 84.5 Q84.9 85.2 94.6 84.7" stroke="#211e1b" stroke-width="0.67" opacity="0.87"/>
<path d="M33.3 83.9 Q36.5 82.7 41.0 83.6" stroke="#211e1b" stroke-width="0.64" opacity="0.64"/>
<path d="M69.3 32.3 Q71.9 30.5 77.1 28.2" stroke="#211e1b" stroke-width="0.40" opacity="0.75"/>
<path d="M37.5 72.2 Q45.4 72.0 55.4 72.3" stroke="#211e1b" stroke-width="0.47" opacity="0.96"/>
<path d="M46.3 46.9 Q55.4 42.5 65.9 41.0" stroke="#211e1b" stroke-width="0.74" opacity="0.96"/>
<path d="M20.0 55.0 Q23.2 53.3 27.5 50.6" stroke="#211e1b" stroke-width="1.49" opacity="0.87"/>
<path d="M74.2 26.0 Q78.5 23.5 83.9 20.1" stroke="#211e1b" stroke-width="0.74" opacity="0.57"/>
<path d="M18.1 45.0 Q23.1 39.7 29.7 37.2" stroke="#211e1b" stroke-width="0.71" opacity="0.54"/>
<path d="M88.5 51.1 Q98.5 49.0 107.1 45.8" stroke="#211e1b" stroke-width="1.34" opacity="0.54"/>
<path d="M94.4 35.8 Q98.8 34.7 104.7 30.9" stroke="#211e1b" stroke-width="0.93" opacity="0.53"/>
<path d="M88.4 12.8 Q96.6 6.9 104.3 3.9" stroke="#211e1b" stroke-width="1.18" opacity="0.89"/>
<path d="M63.2 41.8 Q72.1 37.0 79.5 32.9" stroke="#211e1b" stroke-width="0.50" opacity="0.91"/>
<path d="M29.8 28.5 Q36.2 24.1 41.2 19.4" stroke="#211e1b" stroke-width="0.75" opacity="0.50"/>
<path d="M86.7 81.3 Q91.7 80.6 99.5 80.4" stroke="#211e1b" stroke-width="1.48" opacity="0.81"/>
<path d="M20.7 28.1 Q26.8 23.5 30.5 18.4" stroke="#211e1b" stroke-width="0.71" opacity="0.76"/>
<path d="M47.1 100.2 Q52.2 100.4 55.1 101.5" stroke="#211e1b" stroke-width="1.07" opacity="0.68"/>
<path d="M49.8 26.1 Q55.9 21.5 64.4 15.4" stroke="#211e1b" stroke-width="1.24" opacity="0.64"/>
<path d="M78.0 67.4 Q81.2 66.0 85.2 67.1" stroke="#211e1b" stroke-width="0.45" opacity="0.66"/>
<path d="M91.1 24.9 Q99.4 22.3 109.7 17.7" stroke="#211e1b" stroke-width="1.16" opacity="0.56"/>
<path d="M56.6 12.9 Q59.9 10.5 63.4 7.4" stroke="#211e1b" stroke-width="1.48" opacity="0.67"/>
<path d="M0.6 79.5 Q11.3 78.2 22.3 78.4" stroke="#211e1b" stroke-width="1.47" opacity="0.61"/>
<path d="M20.5 69.6 Q23.9 68.8 29.4 67.9" stroke="#211e1b" stroke-width="1.22" opacity="0.76"/>
<path d="M75.4 31.9 Q82.7 27.5 87.6 25.5" stroke="#211e1b" stroke-width="0.71" opacity="0.63"/>
<path d="M101.7 12.0 Q103.9 10.3 106.6 9.3" stroke="#211e1b" stroke-width="1.30" opacity="0.70"/>
<path d="M51.2 57.4 Q58.9 56.5 67.7 55.0" stroke="#211e1b" stroke-width="1.15" opacity="0.57"/>
<path d="M19.7 58.1 Q27.3 54.5 33.8 50.3" stroke="#211e1b" stroke-width="0.94" opacity="0.66"/>
<path d="M62.7 69.9 Q67.9 68.6 75.7 68.9" stroke="#211e1b" stroke-width="0.39" opacity="0.68"/>
<path d="M67.0 19.6 Q75.7 14.0 82.9 7.4" stroke="#211e1b" stroke-width="1.01" opacity="0.83"/>
<path d="M59.7 71.1 Q65.3 70.4 68.1 70.3" stroke="#211e1b" stroke-width="1.03" opacity="0.82"/>
<path d="M37.8 52.1 Q45.9 48.2 56.6 46.3" stroke="#211e1b" stroke-width="1.45" opacity="0.71"/>
<path d="M8.6 90.6 Q16.3 91.8 23.3 95.5" stroke="#211e1b" stroke-width="1.05" opacity="0.67"/>
<path d="M-6.0 33.7 Q-4.1 25.3 0.7 18.6" stroke="#211e1b" stroke-width="0.72" opacity="0.79"/>
<path d="M1.3 102.0 Q5.9 104.0 10.2 108.0" stroke="#211e1b" stroke-width="1.17" opacity="0.53"/>
<path d="M56.6 29.0 Q58.5 27.7 62.5 26.4" stroke="#211e1b" stroke-width="1.04" opacity="0.74"/>
<path d="M68.6 99.6 Q73.2 100.2 75.3 100.2" stroke="#211e1b" stroke-width="1.43" opacity="0.75"/>
<path d="M82.6 96.7 Q92.8 99.4 104.0 99.6" stroke="#211e1b" stroke-width="1.29" opacity="0.97"/>
<path d="M28.9 87.3 Q38.9 89.4 48.8 92.6" stroke="#211e1b" stroke-width="0.65" opacity="1.00"/>
<path d="M50.6 59.5 Q60.1 56.6 70.0 55.3" stroke="#211e1b" stroke-width="1.15" opacity="0.55"/>
<path d="M-3.5 41.7 Q-2.7 39.3 0.5 36.4" stroke="#211e1b" stroke-width="1.27" opacity="0.62"/>
<path d="M18.1 85.5 Q22.6 87.0 24.6 86.7" stroke="#211e1b" stroke-width="0.49" opacity="0.69"/>
<path d="M41.9 50.4 Q48.6 46.4 52.8 45.0" stroke="#211e1b" stroke-width="0.37" opacity="0.77"/>
<path d="M38.1 75.4 Q44.5 76.8 50.5 75.2" stroke="#211e1b" stroke-width="1.14" opacity="0.77"/>
<path d="M86.8 97.0 Q92.8 98.9 97.2 99.4" stroke="#211e1b" stroke-width="1.00" opacity="0.61"/>
<path d="M20.9 79.1 Q30.4 79.0 37.8 79.9" stroke="#211e1b" stroke-width="0.44" opacity="0.64"/>
<path d="M93.3 79.1 Q98.9 79.7 103.0 78.1" stroke="#211e1b" stroke-width="1.06" opacity="0.80"/>
<path d="M78.7 87.9 Q82.7 88.3 86.7 88.5" stroke="#211e1b" stroke-width="0.50" opacity="0.85"/>
<path d="M93.1 41.3 Q100.5 40.1 105.4 36.0" stroke="#211e1b" stroke-width="1.04" opacity="0.58"/>
<path d="M50.0 44.0 Q54.1 41.7 59.2 40.6" stroke="#211e1b" stroke-width="0.80" opacity="0.69"/>
<path d="M54.1 -0.1 Q56.6 -3.9 59.5 -5.8" stroke="#211e1b" stroke-width="0.99" opacity="0.99"/>
<path d="M75.0 58.4 Q81.5 55.0 90.3 53.8" stroke="#211e1b" stroke-width="0.50" opacity="0.62"/>
<path d="M30.6 39.4 Q34.6 36.3 37.6 34.0" stroke="#211e1b" stroke-width="1.09" opacity="0.59"/>
<path d="M56.0 11.0 Q58.3 9.5 61.2 6.5" stroke="#211e1b" stroke-width="0.49" opacity="0.71"/>
<path d="M16.2 40.9 Q22.1 32.1 30.4 25.2" stroke="#211e1b" stroke-width="1.33" opacity="0.93"/>
<path d="M5.1 24.2 Q9.3 14.8 14.1 6.7" stroke="#211e1b" stroke-width="0.63" opacity="0.55"/>
<path d="M87.2 58.8 Q96.0 56.0 106.2 54.9" stroke="#211e1b" stroke-width="0.52" opacity="1.00"/>
<path d="M75.5 69.1 Q85.9 67.0 95.1 66.4" stroke="#211e1b" stroke-width="1.47" opacity="0.75"/>
<path d="M74.0 41.0 Q78.6 38.8 84.6 36.8" stroke="#211e1b" stroke-width="1.21" opacity="0.60"/>
<path d="M14.4 34.0 Q17.1 31.2 19.4 28.9" stroke="#211e1b" stroke-width="1.17" opacity="0.53"/>
<path d="M76.5 19.8 Q83.1 15.2 89.9 11.7" stroke="#211e1b" stroke-width="1.38" opacity="0.54"/>
<path d="M48.6 65.5 Q51.5 64.9 54.4 65.2" stroke="#211e1b" stroke-width="1.14" opacity="0.99"/>
<path d="M12.4 62.7 Q16.9 61.1 24.1 57.0" stroke="#211e1b" stroke-width="0.76" opacity="0.82"/>
<path d="M37.0 69.1 Q44.8 67.1 54.7 66.9" stroke="#211e1b" stroke-width="0.57" opacity="0.66"/>
<path d="M19.9 50.9 Q24.6 47.8 29.2 44.6" stroke="#211e1b" stroke-width="1.19" opacity="0.59"/>
<path d="M95.8 5.7 Q98.4 3.1 102.9 1.6" stroke="#211e1b" stroke-width="1.27" opacity="0.62"/>
<path d="M4.1 29.6 Q8.6 23.7 14.6 14.9" stroke="#211e1b" stroke-width="0.60" opacity="0.61"/>
<path d="M81.5 61.3 Q87.0 59.3 91.3 58.9" stroke="#211e1b" stroke-width="0.42" opacity="0.89"/>
<path d="M73.5 89.9 Q79.9 91.0 86.3 90.2" stroke="#211e1b" stroke-width="1.29" opacity="0.94"/>
<path d="M83.2 15.8 Q89.2 13.9 97.5 9.9" stroke="#211e1b" stroke-width="0.67" opacity="0.87"/>
<path d="M25.7 92.2 Q32.9 95.0 42.9 95.7" stroke="#211e1b" stroke-width="0.49" opacity="0.56"/>
<path d="M50.5 64.4 Q58.2 61.5 65.6 59.9" stroke="#211e1b" stroke-width="1.17" opacity="0.59"/>
<path d="M78.2 27.1 Q80.0 26.4 84.0 23.5" stroke="#211e1b" stroke-width="0.79" opacity="0.93"/>
<path d="M87.8 66.2 Q90.0 67.5 95.2 66.1" stroke="#211e1b" stroke-width="0.53" opacity="0.61"/>
<path d="M28.8 91.9 Q32.2 90.8 34.0 92.7" stroke="#211e1b" stroke-width="1.47" opacity="0.98"/>
<path d="M13.8 97.4 Q18.3 99.2 24.7 104.0" stroke="#211e1b" stroke-width="1.14" opacity="0.72"/>
<path d="M28.9 55.1 Q34.9 53.3 39.6 51.3" stroke="#211e1b" stroke-width="1.47" opacity="0.59"/>
<path d="M22.9 4.9 Q23.1 0.7 26.1 -0.8" stroke="#211e1b" stroke-width="1.28" opacity="0.51"/>
<path d="M90.9 81.7 Q101.8 82.6 110.7 82.7" stroke="#211e1b" stroke-width="1.38" opacity="0.69"/>
<path d="M25.3 12.8 Q27.5 9.9 30.6 5.4" stroke="#211e1b" stroke-width="0.87" opacity="0.70"/>
<path d="M89.3 -1.8 Q93.9 -4.0 100.3 -8.2" stroke="#211e1b" stroke-width="1.18" opacity="0.74"/>
<path d="M94.1 2.8 Q97.2 1.9 101.4 -1.6" stroke="#211e1b" stroke-width="0.97" opacity="0.73"/>
<path d="M91.7 68.7 Q95.9 67.1 101.6 67.6" stroke="#211e1b" stroke-width="1.36" opacity="0.54"/>
<path d="M-3.0 60.9 Q-1.0 58.3 3.0 56.8" stroke="#211e1b" stroke-width="0.97" opacity="0.62"/>
<path d="M42.5 99.7 Q45.1 102.2 47.9 102.0" stroke="#211e1b" stroke-width="1.23" opacity="0.63"/>
<path d="M60.7 71.3 Q67.3 72.4 72.1 71.3" stroke="#211e1b" stroke-width="0.71" opacity="0.94"/>
<path d="M62.1 57.1 Q70.9 54.4 78.0 51.9" stroke="#211e1b" stroke-width="0.88" opacity="0.72"/>
<path d="M89.0 73.0 Q99.0 74.8 108.5 73.8" stroke="#211e1b" stroke-width="0.86" opacity="0.97"/>
<path d="M59.8 48.9 Q64.9 48.8 68.6 46.9" stroke="#211e1b" stroke-width="0.51" opacity="0.67"/>
<path d="M100.5 87.7 Q104.0 86.5 107.8 88.3" stroke="#211e1b" stroke-width="1.07" opacity="0.86"/>
<path d="M85.5 72.3 Q95.4 70.0 106.1 70.4" stroke="#211e1b" stroke-width="0.97" opacity="0.67"/>
<path d="M13.0 30.4 Q18.0 24.9 24.0 17.6" stroke="#211e1b" stroke-width="0.37" opacity="0.57"/>
<path d="M31.6 7.6 Q35.7 4.2 37.5 0.2" stroke="#211e1b" stroke-width="0.44" opacity="0.53"/>
<path d="M81.9 91.8 Q90.8 91.8 99.1 94.1" stroke="#211e1b" stroke-width="0.75" opacity="0.71"/>
<path d="M4.5 87.7 Q11.5 88.8 18.5 90.9" stroke="#211e1b" stroke-width="0.62" opacity="0.71"/>
<path d="M49.6 89.2 Q56.5 89.5 64.6 89.2" stroke="#211e1b" stroke-width="0.55" opacity="0.85"/>
<path d="M98.7 31.2 Q105.7 28.4 110.2 26.5" stroke="#211e1b" stroke-width="1.24" opacity="0.93"/>
<path d="M-3.9 38.7 Q-1.3 36.2 0.1 33.0" stroke="#211e1b" stroke-width="1.16" opacity="0.73"/>
<path d="M61.9 92.3 Q63.9 93.4 68.6 93.6" stroke="#211e1b" stroke-width="0.39" opacity="1.00"/>
<path d="M35.5 71.7 Q43.5 69.4 49.0 69.0" stroke="#211e1b" stroke-width="0.68" opacity="0.52"/>
<path d="M18.1 79.1 Q24.0 77.7 32.0 79.3" stroke="#211e1b" stroke-width="1.13" opacity="0.63"/>
<path d="M35.7 73.3 Q40.4 72.7 42.3 72.1" stroke="#211e1b" stroke-width="0.52" opacity="0.87"/>
<path d="M-1.0 58.9 Q6.3 53.6 16.0 49.2" stroke="#211e1b" stroke-width="0.80" opacity="0.52"/>
<path d="M34.3 82.3 Q36.7 84.0 41.6 83.4" stroke="#211e1b" stroke-width="1.08" opacity="0.98"/>
<path d="M92.4 64.9 Q103.3 65.5 113.7 64.6" stroke="#211e1b" stroke-width="1.42" opacity="0.98"/>
<path d="M97.7 97.0 Q102.1 98.5 105.8 97.8" stroke="#211e1b" stroke-width="0.86" opacity="0.90"/>
<path d="M93.2 20.2 Q99.5 16.9 107.0 15.5" stroke="#211e1b" stroke-width="1.00" opacity="0.51"/>
<path d="M42.0 74.4 Q44.2 75.2 48.5 74.6" stroke="#211e1b" stroke-width="0.77" opacity="0.72"/>
<path d="M67.0 94.9 Q72.5 93.9 80.7 95.3" stroke="#211e1b" stroke-width="0.96" opacity="0.88"/>
<path d="M-3.2 30.9 Q0.9 22.6 5.8 15.1" stroke="#211e1b" stroke-width="0.64" opacity="0.73"/>
<path d="M97.4 50.8 Q102.8 49.2 111.0 48.4" stroke="#211e1b" stroke-width="0.72" opacity="0.68"/>
<path d="M60.7 37.7 Q65.1 35.6 71.1 32.1" stroke="#211e1b" stroke-width="1.06" opacity="0.55"/>
<path d="M82.6 64.7 Q84.9 64.5 88.5 63.5" stroke="#211e1b" stroke-width="1.26" opacity="0.61"/>
<path d="M49.5 97.1 Q53.2 97.3 56.1 98.5" stroke="#211e1b" stroke-width="0.53" opacity="0.77"/>
<path d="M51.6 96.0 Q59.2 96.4 65.7 97.5" stroke="#211e1b" stroke-width="0.69" opacity="0.56"/>
<path d="M85.1 38.8 Q94.5 34.5 101.5 31.7" stroke="#211e1b" stroke-width="1.07" opacity="0.75"/>
<path d="M53.4 21.7 Q57.2 16.1 63.4 12.5" stroke="#211e1b" stroke-width="0.60" opacity="0.52"/>
<path d="M49.7 75.0 Q58.9 74.9 69.3 75.7" stroke="#211e1b" stroke-width="0.52" opacity="0.84"/>
<path d="M51.7 9.0 Q56.8 2.1 64.2 -5.4" stroke="#211e1b" stroke-width="0.75" opacity="0.71"/>
<path d="M72.5 69.6 Q80.6 70.7 88.0 68.9" stroke="#211e1b" stroke-width="1.38" opacity="0.97"/>
<path d="M2.0 72.0 Q5.7 71.4 12.0 69.9" stroke="#211e1b" stroke-width="1.24" opacity="0.94"/>
<path d="M66.1 8.0 Q70.9 4.7 76.3 0.2" stroke="#211e1b" stroke-width="0.97" opacity="0.54"/>
<path d="M32.1 99.7 Q38.0 101.7 41.7 102.3" stroke="#211e1b" stroke-width="1.41" opacity="0.94"/>
<path d="M94.7 88.3 Q98.7 88.2 105.0 90.2" stroke="#211e1b" stroke-width="1.24" opacity="0.67"/>
<path d="M81.8 101.9 Q89.6 103.2 95.4 104.7" stroke="#211e1b" stroke-width="1.35" opacity="0.85"/>
<path d="M62.4 40.6 Q67.6 39.8 71.1 37.1" stroke="#211e1b" stroke-width="0.77" opacity="0.76"/>
<path d="M-9.1 61.9 Q-4.5 57.1 2.5 52.6" stroke="#211e1b" stroke-width="1.24" opacity="0.84"/>
<path d="M18.1 55.8 Q24.5 53.1 30.6 47.9" stroke="#211e1b" stroke-width="1.28" opacity="0.84"/>
<path d="M29.8 50.2 Q33.5 47.0 37.1 45.3" stroke="#211e1b" stroke-width="1.15" opacity="0.85"/>
<path d="M32.2 11.9 Q38.7 3.7 46.5 -3.4" stroke="#211e1b" stroke-width="1.03" opacity="0.63"/>
<path d="M31.5 50.8 Q35.6 48.5 39.6 47.1" stroke="#211e1b" stroke-width="1.29" opacity="0.94"/>
<path d="M4.8 60.8 Q13.9 56.7 23.8 51.1" stroke="#211e1b" stroke-width="1.35" opacity="0.60"/>
<path d="M52.5 76.5 Q62.2 74.5 74.4 74.2" stroke="#211e1b" stroke-width="1.35" opacity="0.82"/>
<path d="M0.8 93.1 Q4.0 95.6 8.8 95.6" stroke="#211e1b" stroke-width="0.45" opacity="0.93"/>
<path d="M93.0 15.3 Q97.9 13.5 100.5 11.3" stroke="#211e1b" stroke-width="0.62" opacity="0.69"/>
<path d="M16.0 98.1 Q25.2 101.4 32.1 103.3" stroke="#211e1b" stroke-width="1.22" opacity="0.71"/>
<path d="M38.3 8.1 Q42.6 1.8 49.8 -7.3" stroke="#211e1b" stroke-width="1.40" opacity="0.71"/>
<path d="M21.0 60.3 Q30.0 57.7 39.0 53.0" stroke="#211e1b" stroke-width="0.57" opacity="0.79"/>
<path d="M14.5 49.3 Q16.1 47.6 19.2 45.9" stroke="#211e1b" stroke-width="1.28" opacity="0.97"/>
<path d="M75.4 20.9 Q85.2 17.4 94.2 12.0" stroke="#211e1b" stroke-width="1.36" opacity="0.51"/>
<path d="M66.5 87.5 Q71.7 87.5 74.3 87.3" stroke="#211e1b" stroke-width="1.42" opacity="0.86"/>
<path d="M87.1 83.1 Q90.8 81.6 93.2 82.5" stroke="#211e1b" stroke-width="1.13" opacity="0.94"/>
<path d="M30.4 84.3 Q41.2 85.3 52.2 85.4" stroke="#211e1b" stroke-width="0.56" opacity="0.79"/>
<path d="M-1.9 53.3 Q0.6 51.0 1.8 49.6" stroke="#211e1b" stroke-width="1.43" opacity="0.70"/>
<path d="M4.3 71.0 Q12.6 68.9 20.8 68.3" stroke="#211e1b" stroke-width="1.42" opacity="0.97"/>
<path d="M96.3 16.3 Q101.4 11.2 109.2 7.6" stroke="#211e1b" stroke-width="0.48" opacity="0.60"/>
<path d="M7.5 48.0 Q13.5 40.2 20.2 32.6" stroke="#211e1b" stroke-width="0.91" opacity="0.57"/>
<path d="M6.0 97.0 Q12.4 102.2 21.2 104.5" stroke="#211e1b" stroke-width="0.86" opacity="0.92"/>
<path d="M76.6 54.5 Q84.2 51.1 89.7 49.6" stroke="#211e1b" stroke-width="1.13" opacity="0.84"/>
<path d="M17.3 47.7 Q25.2 42.5 34.5 34.3" stroke="#211e1b" stroke-width="1.16" opacity="0.82"/>
<path d="M5.7 12.5 Q8.5 8.7 9.4 6.0" stroke="#211e1b" stroke-width="1.29" opacity="0.97"/>
<path d="M37.2 13.1 Q45.1 4.0 50.2 -3.6" stroke="#211e1b" stroke-width="1.15" opacity="0.59"/>
<path d="M3.4 91.8 Q12.4 94.5 21.9 97.8" stroke="#211e1b" stroke-width="0.43" opacity="0.51"/>
<path d="M-7.3 44.7 Q-4.2 36.9 -1.3 32.1" stroke="#211e1b" stroke-width="0.40" opacity="0.75"/>
<path d="M50.5 98.9 Q57.5 99.7 62.1 100.4" stroke="#211e1b" stroke-width="1.18" opacity="0.51"/>
<path d="M4.8 44.9 Q10.3 38.5 14.9 31.1" stroke="#211e1b" stroke-width="0.49" opacity="0.60"/>
<path d="M12.5 66.2 Q19.3 64.9 27.8 62.8" stroke="#211e1b" stroke-width="1.34" opacity="0.72"/>
<path d="M71.7 93.8 Q79.9 94.3 88.3 94.9" stroke="#211e1b" stroke-width="0.95" opacity="0.83"/>
<path d="M37.5 94.4 Q49.3 97.3 58.5 98.9" stroke="#211e1b" stroke-width="0.63" opacity="0.68"/>
<path d="M19.2 83.4 Q30.1 82.7 38.6 81.7" stroke="#211e1b" stroke-width="1.33" opacity="0.56"/>
<path d="M36.6 24.0 Q40.8 21.3 47.3 16.9" stroke="#211e1b" stroke-width="1.08" opacity="0.88"/>
<path d="M70.0 96.9 Q80.0 98.8 88.3 101.3" stroke="#211e1b" stroke-width="0.81" opacity="0.70"/>
<path d="M4.1 56.2 Q9.0 51.3 15.2 47.8" stroke="#211e1b" stroke-width="1.45" opacity="0.65"/>
<path d="M54.2 84.3 Q57.0 85.4 61.8 85.2" stroke="#211e1b" stroke-width="1.25" opacity="0.77"/>
<path d="M85.2 87.5 Q92.2 89.1 100.1 90.1" stroke="#211e1b" stroke-width="0.85" opacity="0.94"/>
<path d="M15.3 14.2 Q17.1 9.4 19.5 5.8" stroke="#211e1b" stroke-width="0.72" opacity="0.90"/>
<path d="M27.1 47.6 Q36.4 43.0 45.4 38.2" stroke="#211e1b" stroke-width="1.30" opacity="0.84"/>
<path d="M85.4 93.7 Q89.7 94.8 91.7 94.1" stroke="#211e1b" stroke-width="1.33" opacity="0.73"/>
<path d="M53.9 13.7 Q61.3 7.0 66.3 0.8" stroke="#211e1b" stroke-width="1.41" opacity="0.84"/>
<path d="M30.8 84.0 Q34.8 83.2 40.6 84.8" stroke="#211e1b" stroke-width="0.89" opacity="0.85"/>
<path d="M65.6 40.7 Q69.5 37.1 73.8 36.3" stroke="#211e1b" stroke-width="1.34" opacity="0.65"/>
<path d="M44.9 82.5 Q49.5 83.2 54.0 82.1" stroke="#211e1b" stroke-width="1.15" opacity="0.59"/>
<path d="M13.2 33.3 Q22.3 26.2 28.9 18.7" stroke="#211e1b" stroke-width="1.24" opacity="0.92"/>
<path d="M93.0 48.9 Q94.8 48.2 99.1 47.1" stroke="#211e1b" stroke-width="1.09" opacity="0.61"/>
<path d="M6.9 46.4 Q13.0 43.5 16.5 38.1" stroke="#211e1b" stroke-width="1.37" opacity="0.51"/>
<path d="M94.9 80.1 Q100.1 80.0 102.5 79.9" stroke="#211e1b" stroke-width="0.42" opacity="0.74"/>
<path d="M-6.4 24.3 Q-3.7 15.9 -1.7 10.1" stroke="#211e1b" stroke-width="1.38" opacity="0.53"/>
<path d="M86.1 39.8 Q89.9 37.9 93.5 37.0" stroke="#211e1b" stroke-width="0.90" opacity="0.83"/>
<path d="M-0.8 58.1 Q4.7 53.1 8.1 48.4" stroke="#211e1b" stroke-width="1.18" opacity="0.63"/>
<path d="M58.0 80.5 Q67.7 80.4 77.8 78.5" stroke="#211e1b" stroke-width="1.25" opacity="0.77"/>
<path d="M88.3 22.2 Q96.3 20.2 105.6 15.2" stroke="#211e1b" stroke-width="1.02" opacity="0.95"/>
<path d="M26.7 7.7 Q29.4 2.9 32.1 -1.8" stroke="#211e1b" stroke-width="0.57" opacity="0.52"/>
<path d="M19.0 51.7 Q26.1 47.3 33.9 45.3" stroke="#211e1b" stroke-width="1.25" opacity="0.78"/>
<path d="M0.7 1.8 Q0.7 -2.9 3.3 -5.2" stroke="#211e1b" stroke-width="1.14" opacity="0.56"/>
<path d="M91.6 40.2 Q96.5 40.6 101.4 38.4" stroke="#211e1b" stroke-width="1.31" opacity="0.50"/>
<path d="M63.9 23.7 Q72.2 20.3 82.9 14.9" stroke="#211e1b" stroke-width="1.17" opacity="0.64"/>
<path d="M89.3 34.6 Q95.8 32.1 103.5 29.7" stroke="#211e1b" stroke-width="1.37" opacity="0.71"/>
<path d="M0.8 52.6 Q8.4 47.0 13.1 42.5" stroke="#211e1b" stroke-width="0.97" opacity="0.57"/>
<path d="M10.0 96.2 Q14.7 99.4 18.6 101.4" stroke="#211e1b" stroke-width="0.76" opacity="0.80"/>
<path d="M43.8 45.0 Q50.1 41.8 55.8 38.1" stroke="#211e1b" stroke-width="0.74" opacity="0.56"/>
<path d="M-3.4 54.5 Q-0.8 52.8 0.6 51.3" stroke="#211e1b" stroke-width="1.11" opacity="0.60"/>
<path d="M54.8 91.4 Q59.3 91.1 62.2 91.7" stroke="#211e1b" stroke-width="1.02" opacity="0.66"/>
<path d="M1.9 84.3 Q6.7 85.9 12.5 87.3" stroke="#211e1b" stroke-width="0.37" opacity="0.73"/>
<path d="M44.4 66.0 Q50.4 64.8 57.6 65.2" stroke="#211e1b" stroke-width="1.45" opacity="0.98"/>
<path d="M94.6 42.3 Q99.4 39.3 105.2 39.0" stroke="#211e1b" stroke-width="0.80" opacity="0.55"/>
<path d="M38.4 60.2 Q47.5 58.3 58.5 57.2" stroke="#211e1b" stroke-width="1.00" opacity="0.61"/>
<path d="M77.9 14.3 Q84.7 11.3 90.7 5.8" stroke="#211e1b" stroke-width="0.77" opacity="0.83"/>
<path d="M62.4 66.5 Q68.0 66.0 75.6 64.5" stroke="#211e1b" stroke-width="1.34" opacity="0.58"/>
<path d="M15.1 14.0 Q20.3 7.3 28.3 -1.5" stroke="#211e1b" stroke-width="1.45" opacity="0.93"/>
<path d="M-5.1 71.3 Q0.3 67.5 4.6 66.6" stroke="#211e1b" stroke-width="0.52" opacity="0.97"/>
<path d="M9.3 56.6 Q18.9 53.0 27.9 48.6" stroke="#211e1b" stroke-width="0.35" opacity="0.83"/>
<path d="M77.3 56.9 Q79.1 56.0 82.7 55.0" stroke="#211e1b" stroke-width="0.84" opacity="0.89"/>
<path d="M66.3 7.8 Q72.5 2.9 77.4 0.2" stroke="#211e1b" stroke-width="0.72" opacity="0.91"/>
<path d="M80.5 62.6 Q86.8 61.4 91.3 60.3" stroke="#211e1b" stroke-width="0.83" opacity="0.81"/>
<path d="M19.9 29.8 Q26.1 23.8 33.5 15.7" stroke="#211e1b" stroke-width="1.31" opacity="0.54"/>
<path d="M84.5 69.7 Q89.2 69.2 94.1 69.4" stroke="#211e1b" stroke-width="1.21" opacity="0.89"/>
<path d="M31.8 35.4 Q39.0 31.7 47.6 26.2" stroke="#211e1b" stroke-width="1.01" opacity="0.73"/>
<path d="M30.6 32.8 Q34.8 29.7 38.5 27.8" stroke="#211e1b" stroke-width="0.36" opacity="0.62"/>
<path d="M87.7 102.0 Q92.4 103.3 95.0 102.6" stroke="#211e1b" stroke-width="0.95" opacity="0.50"/>
<path d="M51.1 67.3 Q56.6 67.3 61.6 66.9" stroke="#211e1b" stroke-width="0.99" opacity="0.90"/>
<path d="M14.6 99.2 Q23.6 105.7 33.6 109.9" stroke="#211e1b" stroke-width="0.88" opacity="0.69"/>
<path d="M69.4 67.4 Q72.0 68.2 77.4 66.0" stroke="#211e1b" stroke-width="0.55" opacity="0.99"/>
<path d="M33.0 65.8 Q43.2 63.1 52.2 61.4" stroke="#211e1b" stroke-width="1.01" opacity="0.78"/>
<path d="M43.2 37.4 Q50.6 33.0 58.1 26.3" stroke="#211e1b" stroke-width="1.17" opacity="0.94"/>
<path d="M69.3 43.4 Q78.9 39.4 87.9 36.0" stroke="#211e1b" stroke-width="0.52" opacity="0.77"/>
<path d="M73.1 24.3 Q79.6 21.4 84.2 18.3" stroke="#211e1b" stroke-width="0.54" opacity="0.80"/>
<path d="M79.4 85.6 Q89.0 85.9 97.5 86.8" stroke="#211e1b" stroke-width="1.04" opacity="0.67"/>
<path d="M61.4 17.3 Q65.5 15.2 67.7 13.7" stroke="#211e1b" stroke-width="1.39" opacity="0.91"/>
<path d="M51.9 35.6 Q52.7 34.9 56.5 32.2" stroke="#211e1b" stroke-width="1.23" opacity="0.85"/>
<path d="M31.9 3.7 Q35.3 -1.0 37.9 -6.0" stroke="#211e1b" stroke-width="1.01" opacity="0.51"/>
<path d="M46.6 45.1 Q55.9 42.0 65.3 35.9" stroke="#211e1b" stroke-width="0.85" opacity="0.71"/>
<path d="M26.8 2.0 Q27.7 -0.8 30.4 -2.2" stroke="#211e1b" stroke-width="0.70" opacity="0.61"/>
<path d="M1.6 26.6 Q6.3 23.1 8.3 17.7" stroke="#211e1b" stroke-width="1.37" opacity="0.58"/>
<path d="M67.8 55.3 Q71.3 55.2 76.6 52.1" stroke="#211e1b" stroke-width="0.45" opacity="0.51"/>
<path d="M81.3 61.0 Q92.4 58.0 100.6 55.4" stroke="#211e1b" stroke-width="0.87" opacity="0.82"/>
<path d="M88.1 66.5 Q92.4 66.1 96.8 66.0" stroke="#211e1b" stroke-width="0.39" opacity="0.96"/>
<path d="M48.1 58.9 Q51.0 57.0 54.9 56.4" stroke="#211e1b" stroke-width="0.36" opacity="0.98"/>
<path d="M93.8 40.1 Q99.0 37.5 104.0 35.4" stroke="#211e1b" stroke-width="0.63" opacity="0.85"/>
<path d="M16.3 43.4 Q22.1 38.1 25.1 35.1" stroke="#211e1b" stroke-width="0.56" opacity="0.64"/>
<path d="M15.7 14.0 Q19.9 5.4 26.9 -0.8" stroke="#211e1b" stroke-width="0.35" opacity="0.96"/>
<path d="M52.0 8.9 Q55.4 6.5 57.6 4.5" stroke="#211e1b" stroke-width="0.37" opacity="0.75"/>
<path d="M88.7 2.2 Q93.6 -0.8 97.4 -3.7" stroke="#211e1b" stroke-width="0.52" opacity="0.71"/>
<path d="M25.9 90.7 Q28.4 90.9 33.4 92.7" stroke="#211e1b" stroke-width="0.36" opacity="0.72"/>
<path d="M71.8 9.4 Q77.5 6.5 80.7 1.2" stroke="#211e1b" stroke-width="1.24" opacity="0.82"/>
<path d="M76.0 71.7 Q84.1 70.9 92.2 70.2" stroke="#211e1b" stroke-width="1.36" opacity="0.68"/>
<path d="M-2.8 84.8 Q8.9 84.5 17.6 87.2" stroke="#211e1b" stroke-width="0.48" opacity="0.64"/>
<path d="M23.5 94.2 Q33.5 98.0 41.1 99.6" stroke="#211e1b" stroke-width="0.82" opacity="0.57"/>
<path d="M76.9 34.6 Q83.4 30.0 88.7 28.4" stroke="#211e1b" stroke-width="0.77" opacity="0.77"/>
<path d="M46.0 99.5 Q52.3 102.8 60.2 105.0" stroke="#211e1b" stroke-width="1.17" opacity="0.68"/>
<path d="M79.4 86.9 Q81.9 86.1 87.1 87.2" stroke="#211e1b" stroke-width="0.86" opacity="0.99"/>
<path d="M79.2 36.6 Q87.3 31.3 98.4 26.3" stroke="#211e1b" stroke-width="1.30" opacity="0.58"/>
<path d="M56.6 89.6 Q62.5 90.0 69.2 91.0" stroke="#211e1b" stroke-width="1.32" opacity="0.55"/>
<path d="M7.1 66.2 Q11.8 64.8 15.3 62.5" stroke="#211e1b" stroke-width="0.44" opacity="0.68"/>
<path d="M31.7 50.3 Q41.9 44.3 49.7 38.6" stroke="#211e1b" stroke-width="1.49" opacity="0.88"/>
<path d="M80.6 6.2 Q85.7 1.1 91.6 -2.5" stroke="#211e1b" stroke-width="0.45" opacity="0.92"/>
<path d="M4.7 45.9 Q7.1 41.1 9.9 38.9" stroke="#211e1b" stroke-width="1.22" opacity="0.92"/>
<path d="M80.0 63.0 Q90.5 61.6 98.2 62.0" stroke="#211e1b" stroke-width="1.47" opacity="0.68"/>
<path d="M48.6 50.6 Q54.3 50.0 57.9 47.5" stroke="#211e1b" stroke-width="0.41" opacity="0.92"/>
<path d="M81.0 102.3 Q84.1 103.2 89.9 103.9" stroke="#211e1b" stroke-width="0.65" opacity="0.63"/>
<path d="M92.5 62.9 Q98.6 60.7 106.9 60.4" stroke="#211e1b" stroke-width="1.29" opacity="0.61"/>
<path d="M64.1 35.3 Q74.1 32.0 84.1 28.1" stroke="#211e1b" stroke-width="0.39" opacity="0.68"/>
<path d="M-2.0 67.4 Q0.9 66.1 3.3 65.0" stroke="#211e1b" stroke-width="0.58" opacity="0.79"/>
<path d="M50.9 62.8 Q59.2 60.4 69.5 57.8" stroke="#211e1b" stroke-width="1.00" opacity="0.78"/>
<path d="M51.2 18.8 Q55.4 17.0 59.0 13.3" stroke="#211e1b" stroke-width="1.07" opacity="0.80"/>
<path d="M50.5 92.1 Q56.0 93.0 58.8 93.3" stroke="#211e1b" stroke-width="0.60" opacity="0.99"/>
<path d="M22.1 63.6 Q26.2 61.2 32.5 60.6" stroke="#211e1b" stroke-width="1.46" opacity="0.76"/>
<path d="M22.3 43.0 Q25.5 40.1 28.0 39.7" stroke="#211e1b" stroke-width="1.45" opacity="0.79"/>
<path d="M70.7 11.0 Q76.9 8.5 83.0 4.4" stroke="#211e1b" stroke-width="1.40" opacity="0.85"/>
<path d="M62.5 4.9 Q71.3 -0.8 80.4 -7.1" stroke="#211e1b" stroke-width="1.04" opacity="0.88"/>
<path d="M87.8 4.0 Q95.4 -2.8 104.4 -8.7" stroke="#211e1b" stroke-width="1.24" opacity="0.81"/>
<path d="M60.3 91.4 Q66.9 91.0 76.4 92.1" stroke="#211e1b" stroke-width="0.96" opacity="0.85"/>
<path d="M17.4 78.6 Q26.9 78.5 35.4 77.2" stroke="#211e1b" stroke-width="0.81" opacity="0.71"/>
<path d="M83.9 70.6 Q87.8 69.1 91.6 69.6" stroke="#211e1b" stroke-width="1.30" opacity="0.84"/>
<path d="M8.8 41.5 Q17.5 34.2 23.6 29.2" stroke="#211e1b" stroke-width="1.19" opacity="0.75"/>
<path d="M4.8 71.0 Q9.2 69.9 13.3 68.3" stroke="#211e1b" stroke-width="1.47" opacity="0.75"/>
<path d="M10.5 39.5 Q17.9 33.0 22.5 26.2" stroke="#211e1b" stroke-width="1.43" opacity="0.74"/>
<path d="M33.2 89.6 Q40.1 92.1 49.7 92.7" stroke="#211e1b" stroke-width="1.10" opacity="0.71"/>
<path d="M57.5 24.2 Q63.9 20.5 69.9 14.3" stroke="#211e1b" stroke-width="0.70" opacity="0.52"/>
<path d="M62.0 9.1 Q68.4 4.0 76.8 -2.4" stroke="#211e1b" stroke-width="0.63" opacity="0.97"/>
<path d="M28.5 38.2 Q34.8 34.1 43.2 29.5" stroke="#211e1b" stroke-width="0.60" opacity="0.86"/>
<path d="M28.5 29.9 Q36.8 24.3 43.8 19.8" stroke="#211e1b" stroke-width="1.20" opacity="0.50"/>
<path d="M77.5 61.9 Q86.0 59.1 96.0 56.1" stroke="#211e1b" stroke-width="1.45" opacity="0.62"/>
<path d="M89.7 -0.2 Q93.8 -3.0 99.4 -8.2" stroke="#211e1b" stroke-width="0.47" opacity="0.69"/>
<path d="M70.8 43.2 Q81.0 39.2 88.8 34.7" stroke="#211e1b" stroke-width="0.80" opacity="0.84"/>
<path d="M30.5 75.6 Q35.5 75.9 39.8 74.4" stroke="#211e1b" stroke-width="1.15" opacity="0.99"/>
<path d="M32.8 13.9 Q35.5 12.4 37.7 9.4" stroke="#211e1b" stroke-width="0.81" opacity="0.66"/>
<path d="M89.0 2.1 Q98.1 -0.6 104.5 -6.2" stroke="#211e1b" stroke-width="1.05" opacity="0.75"/>
<path d="M41.0 37.3 Q45.2 35.1 47.4 33.2" stroke="#211e1b" stroke-width="0.38" opacity="0.83"/>
<path d="M61.5 9.1 Q66.5 4.6 74.2 0.3" stroke="#211e1b" stroke-width="0.55" opacity="0.65"/>
<path d="M30.6 6.1 Q35.4 1.1 42.7 -6.2" stroke="#211e1b" stroke-width="1.28" opacity="0.76"/>
<path d="M17.8 20.0 Q21.4 15.5 24.2 10.6" stroke="#211e1b" stroke-width="0.63" opacity="0.89"/>
<path d="M36.1 84.3 Q44.4 82.9 55.6 83.8" stroke="#211e1b" stroke-width="1.35" opacity="0.84"/>
<path d="M98.2 4.4 Q103.4 -0.2 109.9 -1.8" stroke="#211e1b" stroke-width="0.38" opacity="0.86"/>
<path d="M62.8 40.4 Q68.9 38.4 75.6 34.3" stroke="#211e1b" stroke-width="1.44" opacity="0.54"/>
<path d="M89.0 51.2 Q94.1 49.1 99.3 48.4" stroke="#211e1b" stroke-width="0.79" opacity="0.81"/>
<path d="M50.9 95.8 Q59.9 99.0 69.2 101.9" stroke="#211e1b" stroke-width="0.53" opacity="0.79"/>
<path d="M75.1 25.9 Q81.7 22.9 86.7 19.4" stroke="#211e1b" stroke-width="1.13" opacity="0.99"/>
<path d="M13.5 80.4 Q20.5 81.0 28.0 82.3" stroke="#211e1b" stroke-width="1.46" opacity="0.80"/>
<path d="M55.7 51.2 Q59.1 49.8 63.6 48.6" stroke="#211e1b" stroke-width="1.21" opacity="0.74"/>
<path d="M76.0 42.7 Q79.8 40.6 86.4 38.7" stroke="#211e1b" stroke-width="0.87" opacity="0.86"/>
<path d="M60.5 12.6 Q66.7 8.2 72.9 3.9" stroke="#211e1b" stroke-width="0.57" opacity="0.54"/>
<path d="M99.6 82.5 Q103.1 82.1 109.1 83.3" stroke="#211e1b" stroke-width="1.00" opacity="0.93"/>
<path d="M40.9 97.8 Q48.6 98.6 55.4 100.2" stroke="#211e1b" stroke-width="1.46" opacity="0.62"/>
<path d="M52.8 81.6 Q62.1 81.9 70.1 83.6" stroke="#211e1b" stroke-width="0.81" opacity="0.85"/>
<path d="M92.5 73.1 Q102.6 72.1 113.9 72.4" stroke="#211e1b" stroke-width="1.08" opacity="0.78"/>
<path d="M3.1 68.3 Q9.5 67.3 16.0 64.3" stroke="#211e1b" stroke-width="0.49" opacity="0.72"/>
<path d="M93.3 83.1 Q98.9 83.8 106.6 83.2" stroke="#211e1b" stroke-width="0.77" opacity="0.92"/>
<path d="M-5.8 24.2 Q-3.0 16.5 0.9 7.6" stroke="#211e1b" stroke-width="0.57" opacity="0.66"/>
<path d="M66.6 54.1 Q69.1 53.6 71.8 52.2" stroke="#211e1b" stroke-width="1.19" opacity="0.86"/>
<path d="M6.5 57.7 Q14.3 51.4 22.1 47.7" stroke="#211e1b" stroke-width="1.03" opacity="0.74"/>
<path d="M39.4 63.2 Q45.9 61.8 54.5 59.6" stroke="#211e1b" stroke-width="1.23" opacity="0.87"/>
<path d="M15.4 78.2 Q23.7 76.1 31.1 75.4" stroke="#211e1b" stroke-width="0.62" opacity="0.50"/>
<path d="M29.9 54.5 Q36.4 51.9 42.4 50.5" stroke="#211e1b" stroke-width="1.27" opacity="0.54"/>
<path d="M-3.5 6.6 Q-2.2 0.6 1.5 -3.6" stroke="#211e1b" stroke-width="1.16" opacity="0.91"/>
<path d="M-2.7 90.4 Q8.8 95.4 17.5 98.1" stroke="#211e1b" stroke-width="1.35" opacity="0.86"/>
<path d="M-5.8 87.1 Q3.6 89.6 10.2 92.4" stroke="#211e1b" stroke-width="0.58" opacity="0.97"/>
<path d="M77.6 47.3 Q83.2 44.1 91.5 42.2" stroke="#211e1b" stroke-width="0.55" opacity="0.67"/>
<path d="M51.8 71.7 Q62.9 72.0 71.3 71.2" stroke="#211e1b" stroke-width="0.56" opacity="0.55"/>
<path d="M10.1 7.7 Q13.1 3.1 15.4 -4.0" stroke="#211e1b" stroke-width="0.71" opacity="0.58"/>
<path d="M85.6 74.2 Q89.9 72.8 92.0 73.4" stroke="#211e1b" stroke-width="0.91" opacity="0.80"/>
<path d="M54.1 16.7 Q57.9 13.0 62.1 12.1" stroke="#211e1b" stroke-width="0.72" opacity="0.80"/>
<path d="M23.7 86.2 Q33.1 86.7 43.8 89.4" stroke="#211e1b" stroke-width="0.83" opacity="0.73"/>
<path d="M-7.6 33.0 Q-3.1 25.8 -0.3 19.7" stroke="#211e1b" stroke-width="0.41" opacity="0.74"/>
<path d="M27.6 52.4 Q31.1 50.3 36.5 48.8" stroke="#211e1b" stroke-width="0.49" opacity="0.64"/>
<path d="M34.2 58.8 Q40.5 58.4 48.6 55.4" stroke="#211e1b" stroke-width="0.39" opacity="0.96"/>
<path d="M44.6 75.4 Q48.9 75.9 53.5 74.8" stroke="#211e1b" stroke-width="0.79" opacity="0.68"/>
<path d="M76.6 65.8 Q82.8 63.6 89.1 62.9" stroke="#211e1b" stroke-width="0.93" opacity="0.72"/>
<path d="M2.8 84.4 Q10.8 86.3 18.3 86.8" stroke="#211e1b" stroke-width="0.39" opacity="0.59"/>
<path d="M61.9 85.9 Q69.1 87.0 74.2 86.3" stroke="#211e1b" stroke-width="1.21" opacity="0.81"/>
<path d="M83.5 22.1 Q93.0 19.2 103.6 13.4" stroke="#211e1b" stroke-width="0.76" opacity="0.69"/>
<path d="M64.5 49.5 Q66.0 49.3 69.6 47.8" stroke="#211e1b" stroke-width="0.85" opacity="0.58"/>
<path d="M45.3 100.7 Q50.4 102.2 53.8 102.2" stroke="#211e1b" stroke-width="1.26" opacity="0.65"/>
<path d="M25.8 39.7 Q32.5 34.1 39.8 29.9" stroke="#211e1b" stroke-width="1.40" opacity="0.82"/>
<path d="M27.2 72.4 Q34.7 70.9 41.7 71.7" stroke="#211e1b" stroke-width="0.89" opacity="0.81"/>
<path d="M3.2 86.5 Q8.8 86.7 12.8 88.2" stroke="#211e1b" stroke-width="0.98" opacity="0.97"/>
<path d="M6.2 35.8 Q11.4 29.9 16.3 21.8" stroke="#211e1b" stroke-width="0.63" opacity="0.95"/>
<path d="M25.1 85.9 Q26.3 86.1 30.2 86.4" stroke="#211e1b" stroke-width="1.27" opacity="0.59"/>
<path d="M85.0 4.2 Q87.6 3.1 90.2 1.1" stroke="#211e1b" stroke-width="0.47" opacity="0.67"/>
<path d="M29.4 41.1 Q36.7 36.5 45.8 32.0" stroke="#211e1b" stroke-width="1.42" opacity="0.79"/>
<path d="M43.9 32.6 Q50.3 29.1 54.2 25.6" stroke="#211e1b" stroke-width="1.05" opacity="0.55"/>
<path d="M20.0 67.0 Q26.7 66.6 33.5 64.5" stroke="#211e1b" stroke-width="1.15" opacity="0.98"/>
<path d="M38.0 74.5 Q43.4 75.1 50.1 73.0" stroke="#211e1b" stroke-width="0.71" opacity="0.56"/>
<path d="M93.2 35.4 Q96.4 32.2 102.2 31.6" stroke="#211e1b" stroke-width="0.99" opacity="0.83"/>
<path d="M80.4 32.7 Q85.8 30.2 88.9 28.2" stroke="#211e1b" stroke-width="1.37" opacity="0.52"/>
<path d="M96.1 56.0 Q102.1 52.9 109.6 52.0" stroke="#211e1b" stroke-width="1.34" opacity="0.85"/>
<path d="M62.0 82.4 Q70.0 80.4 75.9 80.9" stroke="#211e1b" stroke-width="1.17" opacity="0.97"/>
<path d="M29.1 91.3 Q33.2 92.9 35.3 92.6" stroke="#211e1b" stroke-width="1.14" opacity="0.68"/>
<path d="M71.0 17.7 Q75.8 15.8 78.3 14.2" stroke="#211e1b" stroke-width="0.64" opacity="0.97"/>
<path d="M34.0 40.0 Q41.7 35.8 48.3 31.6" stroke="#211e1b" stroke-width="1.31" opacity="0.76"/>
<path d="M47.9 23.5 Q51.1 20.4 55.6 15.9" stroke="#211e1b" stroke-width="0.60" opacity="0.81"/>
<path d="M65.3 38.6 Q70.7 35.9 79.0 31.2" stroke="#211e1b" stroke-width="0.44" opacity="0.74"/>
<path d="M73.9 97.7 Q78.9 97.8 81.8 99.4" stroke="#211e1b" stroke-width="1.19" opacity="0.86"/>
<path d="M31.1 16.5 Q37.4 9.7 40.7 4.1" stroke="#211e1b" stroke-width="1.09" opacity="0.58"/>
<path d="M73.3 31.3 Q80.3 26.4 87.6 21.8" stroke="#211e1b" stroke-width="0.47" opacity="0.70"/>
<path d="M73.7 35.1 Q82.6 32.5 92.5 27.8" stroke="#211e1b" stroke-width="0.85" opacity="0.77"/>
<path d="M57.0 66.7 Q65.7 64.4 75.1 62.8" stroke="#211e1b" stroke-width="0.49" opacity="0.98"/>
<path d="M70.1 24.6 Q75.5 24.0 78.3 21.2" stroke="#211e1b" stroke-width="1.07" opacity="0.87"/>
<path d="M10.0 39.0 Q12.0 36.0 16.8 31.6" stroke="#211e1b" stroke-width="0.77" opacity="0.67"/>
<path d="M0.4 27.8 Q4.3 21.0 9.6 11.6" stroke="#211e1b" stroke-width="1.32" opacity="0.68"/>
<path d="M18.4 60.6 Q24.6 60.0 28.2 58.0" stroke="#211e1b" stroke-width="0.54" opacity="0.70"/>
<path d="M33.2 98.3 Q44.7 99.4 53.8 102.2" stroke="#211e1b" stroke-width="1.04" opacity="0.91"/>
<path d="M59.6 19.2 Q66.4 15.7 70.5 13.2" stroke="#211e1b" stroke-width="0.79" opacity="0.78"/>
<path d="M69.3 48.4 Q73.9 45.3 81.4 43.4" stroke="#211e1b" stroke-width="0.87" opacity="0.67"/>
<path d="M26.1 10.6 Q29.1 4.6 35.0 -1.6" stroke="#211e1b" stroke-width="1.40" opacity="0.90"/>
<path d="M37.7 75.5 Q44.9 73.9 52.2 72.4" stroke="#211e1b" stroke-width="0.76" opacity="0.88"/>
<path d="M51.5 31.4 Q52.9 29.5 56.3 28.1" stroke="#211e1b" stroke-width="1.39" opacity="0.92"/>
<path d="M90.2 2.0 Q95.4 0.5 97.8 -2.3" stroke="#211e1b" stroke-width="0.35" opacity="0.99"/>
<path d="M69.2 85.6 Q74.4 85.3 78.1 86.9" stroke="#211e1b" stroke-width="1.37" opacity="0.87"/>
<path d="M16.9 79.4 Q26.2 79.4 37.1 76.5" stroke="#211e1b" stroke-width="1.02" opacity="0.71"/>
<path d="M9.4 88.0 Q19.2 91.9 30.4 94.0" stroke="#211e1b" stroke-width="1.31" opacity="0.75"/>
<path d="M98.0 74.5 Q105.7 76.0 111.2 75.0" stroke="#211e1b" stroke-width="1.34" opacity="0.90"/>
<path d="M93.8 55.2 Q99.9 53.4 105.0 54.0" stroke="#211e1b" stroke-width="0.69" opacity="0.64"/>
<path d="M54.7 33.4 Q63.7 29.4 73.3 23.7" stroke="#211e1b" stroke-width="0.42" opacity="0.69"/>
<path d="M12.2 95.2 Q16.9 97.2 19.9 98.5" stroke="#211e1b" stroke-width="1.48" opacity="0.84"/>
<path d="M42.7 4.6 Q49.8 -2.9 54.4 -11.1" stroke="#211e1b" stroke-width="0.78" opacity="0.76"/>
<path d="M48.0 2.2 Q50.9 1.1 53.3 -2.0" stroke="#211e1b" stroke-width="0.68" opacity="0.76"/>
<path d="M30.0 81.9 Q38.5 80.3 49.6 79.7" stroke="#211e1b" stroke-width="0.49" opacity="0.83"/>
<path d="M64.5 57.0 Q71.5 55.0 77.3 54.3" stroke="#211e1b" stroke-width="0.72" opacity="0.73"/>
<path d="M80.1 -0.1 Q85.4 -3.7 88.0 -5.5" stroke="#211e1b" stroke-width="1.07" opacity="0.91"/>
<path d="M66.9 29.5 Q68.5 27.5 71.8 26.8" stroke="#211e1b" stroke-width="0.94" opacity="0.89"/>
<path d="M77.7 33.8 Q84.6 30.3 94.3 26.9" stroke="#211e1b" stroke-width="0.73" opacity="0.62"/>
<path d="M14.0 69.1 Q19.7 65.3 27.5 64.2" stroke="#211e1b" stroke-width="0.54" opacity="0.64"/>
<path d="M51.0 13.7 Q56.0 8.6 60.8 5.3" stroke="#211e1b" stroke-width="1.43" opacity="0.54"/>
<path d="M83.2 97.9 Q87.8 99.0 92.7 98.2" stroke="#211e1b" stroke-width="0.97" opacity="0.68"/>
<path d="M66.8 62.3 Q72.2 61.8 76.5 60.0" stroke="#211e1b" stroke-width="1.28" opacity="0.76"/>
<path d="M-1.8 82.9 Q5.1 83.3 11.8 85.9" stroke="#211e1b" stroke-width="1.05" opacity="0.96"/>
<path d="M41.3 77.8 Q51.1 78.2 61.6 78.2" stroke="#211e1b" stroke-width="0.78" opacity="0.86"/>
<path d="M69.1 101.4 Q72.7 101.5 77.4 102.5" stroke="#211e1b" stroke-width="0.59" opacity="0.61"/>
<path d="M52.0 31.9 Q54.1 31.1 57.8 27.3" stroke="#211e1b" stroke-width="1.12" opacity="0.84"/>
<path d="M70.7 93.7 Q72.8 94.5 76.3 94.5" stroke="#211e1b" stroke-width="1.43" opacity="0.53"/>
<path d="M62.0 102.2 Q71.7 103.1 81.8 104.8" stroke="#211e1b" stroke-width="0.55" opacity="0.87"/>
<path d="M20.3 38.2 Q25.0 36.0 27.5 31.3" stroke="#211e1b" stroke-width="1.35" opacity="0.70"/>
<path d="M63.6 0.4 Q71.9 -4.0 78.3 -10.0" stroke="#211e1b" stroke-width="0.66" opacity="0.84"/>
<path d="M85.6 58.5 Q94.5 55.2 104.2 52.7" stroke="#211e1b" stroke-width="1.43" opacity="0.58"/>
<path d="M0.9 93.9 Q7.8 98.5 14.7 102.4" stroke="#211e1b" stroke-width="0.69" opacity="0.92"/>
<path d="M92.8 29.2 Q97.1 26.9 101.7 26.5" stroke="#211e1b" stroke-width="1.49" opacity="0.98"/>
<path d="M93.5 52.0 Q99.2 49.1 105.6 48.9" stroke="#211e1b" stroke-width="0.85" opacity="0.89"/>
<path d="M50.1 18.0 Q52.5 14.6 55.9 13.2" stroke="#211e1b" stroke-width="1.31" opacity="0.92"/>
<path d="M80.6 9.8 Q87.0 7.0 93.5 2.4" stroke="#211e1b" stroke-width="1.16" opacity="0.92"/>
<path d="M75.7 52.4 Q84.9 51.0 91.3 49.8" stroke="#211e1b" stroke-width="0.46" opacity="0.84"/>
<path d="M20.3 63.5 Q29.9 60.5 38.0 57.3" stroke="#211e1b" stroke-width="0.90" opacity="0.68"/>
<path d="M7.6 90.5 Q16.7 92.2 25.8 96.8" stroke="#211e1b" stroke-width="0.62" opacity="0.90"/>
<path d="M57.8 74.1 Q63.8 73.8 70.8 75.0" stroke="#211e1b" stroke-width="0.95" opacity="0.62"/>
<path d="M-5.9 88.2 Q4.1 89.2 11.8 91.9" stroke="#211e1b" stroke-width="0.45" opacity="0.97"/>
<path d="M77.8 12.5 Q85.6 8.6 91.9 2.8" stroke="#211e1b" stroke-width="1.36" opacity="0.70"/>
<path d="M59.6 29.9 Q62.1 29.2 65.7 26.5" stroke="#211e1b" stroke-width="0.82" opacity="0.90"/>
<path d="M21.3 96.9 Q29.0 99.3 35.9 104.4" stroke="#211e1b" stroke-width="1.05" opacity="0.55"/>
<path d="M25.8 -0.0 Q28.0 -4.8 30.6 -7.3" stroke="#211e1b" stroke-width="0.90" opacity="0.51"/>
<path d="M44.1 26.9 Q49.5 24.7 52.6 22.2" stroke="#211e1b" stroke-width="0.83" opacity="0.64"/>
<path d="M43.4 62.4 Q47.7 62.9 49.9 61.2" stroke="#211e1b" stroke-width="1.05" opacity="0.91"/>
<path d="M43.3 54.4 Q50.3 53.2 59.1 50.2" stroke="#211e1b" stroke-width="0.42" opacity="0.71"/>
<path d="M29.9 13.0 Q33.2 9.7 33.7 8.8" stroke="#211e1b" stroke-width="0.96" opacity="0.92"/>
<path d="M90.2 61.8 Q97.9 62.0 108.3 60.7" stroke="#211e1b" stroke-width="1.46" opacity="0.91"/>
<path d="M77.2 55.1 Q84.0 52.4 91.8 49.9" stroke="#211e1b" stroke-width="0.88" opacity="0.58"/>
<path d="M19.1 97.7 Q30.2 100.3 38.6 103.0" stroke="#211e1b" stroke-width="1.44" opacity="0.66"/>
<path d="M66.3 82.6 Q76.5 82.5 87.1 81.8" stroke="#211e1b" stroke-width="0.68" opacity="0.59"/>
<path d="M54.9 36.5 Q59.8 32.3 66.6 29.7" stroke="#211e1b" stroke-width="1.14" opacity="0.59"/>
<path d="M34.5 21.8 Q35.7 18.6 37.9 17.7" stroke="#211e1b" stroke-width="1.29" opacity="0.78"/>
<path d="M75.4 65.5 Q82.2 62.8 87.1 62.8" stroke="#211e1b" stroke-width="1.25" opacity="0.70"/>
<path d="M76.3 31.3 Q87.1 26.6 95.9 23.7" stroke="#211e1b" stroke-width="1.19" opacity="0.70"/>
<path d="M52.9 27.7 Q57.2 24.7 58.8 23.3" stroke="#211e1b" stroke-width="0.78" opacity="0.86"/>
<path d="M0.9 94.2 Q5.1 95.3 7.5 97.6" stroke="#211e1b" stroke-width="0.77" opacity="0.67"/>
<path d="M5.8 35.3 Q12.0 29.0 18.7 22.4" stroke="#211e1b" stroke-width="0.41" opacity="0.79"/>
<path d="M32.0 57.7 Q38.0 55.4 41.3 54.2" stroke="#211e1b" stroke-width="0.97" opacity="0.75"/>
<path d="M42.7 30.5 Q50.0 26.5 55.4 23.6" stroke="#211e1b" stroke-width="0.99" opacity="0.87"/>
<path d="M-4.8 68.7 Q1.8 62.6 10.5 58.8" stroke="#211e1b" stroke-width="0.58" opacity="0.52"/>
<path d="M79.8 69.8 Q86.3 70.9 94.7 69.8" stroke="#211e1b" stroke-width="1.05" opacity="0.79"/>
<path d="M50.8 99.2 Q57.6 101.1 65.2 101.6" stroke="#211e1b" stroke-width="0.74" opacity="0.56"/>
<path d="M1.3 46.3 Q6.4 37.1 13.0 28.0" stroke="#211e1b" stroke-width="0.91" opacity="0.69"/>
<path d="M76.3 93.2 Q83.7 94.9 89.2 94.0" stroke="#211e1b" stroke-width="1.27" opacity="0.87"/>
<path d="M87.2 94.5 Q95.9 96.1 102.1 96.2" stroke="#211e1b" stroke-width="1.14" opacity="0.89"/>
<path d="M25.4 36.1 Q26.8 33.4 30.1 32.5" stroke="#211e1b" stroke-width="1.00" opacity="0.80"/>
<path d="M60.1 65.9 Q70.0 63.7 79.9 61.1" stroke="#211e1b" stroke-width="0.70" opacity="0.60"/>
<path d="M29.6 53.7 Q34.8 49.9 39.8 48.3" stroke="#211e1b" stroke-width="0.36" opacity="0.99"/>
<path d="M24.5 7.1 Q26.0 1.3 30.2 -3.5" stroke="#211e1b" stroke-width="1.04" opacity="0.76"/>
<path d="M-4.5 60.2 Q0.9 57.1 4.9 52.7" stroke="#211e1b" stroke-width="1.14" opacity="0.78"/>
<path d="M24.0 97.5 Q31.6 98.9 37.7 102.1" stroke="#211e1b" stroke-width="0.74" opacity="0.83"/>
<path d="M45.3 90.6 Q51.1 91.1 57.7 92.1" stroke="#211e1b" stroke-width="1.44" opacity="0.80"/>
<path d="M0.7 20.1 Q6.3 11.7 10.8 3.8" stroke="#211e1b" stroke-width="1.27" opacity="0.96"/>
<path d="M48.9 59.4 Q56.4 57.5 66.4 52.6" stroke="#211e1b" stroke-width="1.24" opacity="0.88"/>
<path d="M76.9 81.1 Q79.2 81.3 83.0 80.7" stroke="#211e1b" stroke-width="0.72" opacity="0.67"/>
<path d="M47.9 69.8 Q52.2 70.4 57.0 68.7" stroke="#211e1b" stroke-width="0.76" opacity="0.73"/>
<path d="M26.4 68.8 Q29.1 67.6 34.8 66.7" stroke="#211e1b" stroke-width="0.65" opacity="0.77"/>
<path d="M53.8 12.9 Q57.0 8.7 60.3 7.0" stroke="#211e1b" stroke-width="1.03" opacity="0.89"/>
<path d="M87.7 36.1 Q93.7 33.4 101.9 31.1" stroke="#211e1b" stroke-width="0.66" opacity="0.60"/>
<path d="M78.6 13.4 Q84.7 6.7 93.0 1.8" stroke="#211e1b" stroke-width="0.37" opacity="0.69"/>
<path d="M91.6 21.7 Q93.0 21.2 96.9 19.4" stroke="#211e1b" stroke-width="0.86" opacity="0.89"/>
<path d="M30.0 29.5 Q33.5 25.9 37.0 24.5" stroke="#211e1b" stroke-width="0.54" opacity="0.65"/>
<path d="M85.5 93.4 Q91.8 94.5 95.8 94.6" stroke="#211e1b" stroke-width="1.10" opacity="0.93"/>
<path d="M74.8 33.4 Q82.0 30.3 86.3 29.6" stroke="#211e1b" stroke-width="1.14" opacity="0.64"/>
<path d="M54.5 60.3 Q58.5 59.2 62.4 57.9" stroke="#211e1b" stroke-width="1.05" opacity="0.60"/>
<path d="M13.9 24.8 Q19.0 19.3 22.1 15.5" stroke="#211e1b" stroke-width="0.39" opacity="0.95"/>
<path d="M32.8 24.5 Q37.0 20.7 40.8 17.1" stroke="#211e1b" stroke-width="0.82" opacity="0.90"/>
<path d="M84.3 90.6 Q93.7 91.7 102.9 92.0" stroke="#211e1b" stroke-width="1.04" opacity="0.81"/>
<path d="M20.3 37.3 Q23.3 35.0 26.2 32.2" stroke="#211e1b" stroke-width="0.59" opacity="0.77"/>
<path d="M54.2 48.9 Q64.2 44.5 71.7 42.0" stroke="#211e1b" stroke-width="1.08" opacity="0.54"/>
<path d="M61.1 64.0 Q71.7 60.3 79.5 57.9" stroke="#211e1b" stroke-width="0.59" opacity="0.71"/>
<path d="M87.3 96.7 Q96.7 98.1 107.5 101.5" stroke="#211e1b" stroke-width="0.65" opacity="0.83"/>
<path d="M6.3 50.9 Q9.9 47.6 14.7 44.3" stroke="#211e1b" stroke-width="0.55" opacity="0.61"/>
<path d="M26.5 5.0 Q32.2 -0.4 38.0 -7.9" stroke="#211e1b" stroke-width="0.82" opacity="0.89"/>
<path d="M94.7 23.1 Q97.7 20.7 99.9 20.0" stroke="#211e1b" stroke-width="1.49" opacity="0.59"/>
<path d="M4.3 62.5 Q8.6 59.3 10.5 58.2" stroke="#211e1b" stroke-width="0.43" opacity="0.56"/>
<path d="M42.7 29.9 Q48.1 25.8 56.3 19.9" stroke="#211e1b" stroke-width="0.65" opacity="0.73"/>
<path d="M81.0 9.9 Q85.8 7.1 91.1 2.7" stroke="#211e1b" stroke-width="0.63" opacity="0.57"/>
<path d="M27.0 88.2 Q36.5 88.2 45.3 90.0" stroke="#211e1b" stroke-width="1.11" opacity="0.95"/>
<path d="M76.2 4.2 Q79.0 0.0 84.4 -3.6" stroke="#211e1b" stroke-width="1.30" opacity="0.93"/>
<path d="M94.9 95.5 Q104.2 96.4 113.7 99.9" stroke="#211e1b" stroke-width="1.29" opacity="0.92"/>
<path d="M49.9 3.8 Q52.8 1.8 53.6 0.1" stroke="#211e1b" stroke-width="0.84" opacity="0.73"/>
<path d="M69.6 28.8 Q74.6 24.0 82.1 19.9" stroke="#211e1b" stroke-width="0.81" opacity="0.70"/>
<path d="M-3.7 99.1 Q3.8 103.8 8.6 107.6" stroke="#211e1b" stroke-width="0.50" opacity="0.69"/>
<path d="M5.2 72.3 Q14.2 71.3 21.0 69.4" stroke="#211e1b" stroke-width="1.20" opacity="0.83"/>
<path d="M80.6 92.6 Q91.6 93.7 100.2 94.1" stroke="#211e1b" stroke-width="1.33" opacity="0.95"/>
<path d="M46.6 71.4 Q50.6 71.6 51.7 70.6" stroke="#211e1b" stroke-width="1.35" opacity="0.81"/>
<path d="M76.6 38.7 Q78.7 38.8 81.5 37.0" stroke="#211e1b" stroke-width="1.21" opacity="0.65"/>
<path d="M90.0 66.9 Q98.1 67.0 105.7 66.9" stroke="#211e1b" stroke-width="1.32" opacity="0.63"/>
<path d="M10.4 32.3 Q17.2 25.1 21.7 20.7" stroke="#211e1b" stroke-width="1.47" opacity="0.69"/>
<path d="M78.2 61.9 Q86.3 60.5 95.7 57.9" stroke="#211e1b" stroke-width="1.10" opacity="0.54"/>
<path d="M7.2 37.1 Q11.1 31.8 16.5 26.3" stroke="#211e1b" stroke-width="1.36" opacity="0.97"/>
<path d="M23.9 25.9 Q30.1 17.8 38.0 9.9" stroke="#211e1b" stroke-width="0.42" opacity="0.81"/>
<path d="M68.1 73.9 Q75.6 73.3 81.1 74.4" stroke="#211e1b" stroke-width="0.71" opacity="0.90"/>
<path d="M5.5 7.2 Q6.8 3.3 7.5 2.1" stroke="#211e1b" stroke-width="1.16" opacity="0.58"/>
<path d="M53.4 76.6 Q56.0 76.7 59.5 75.7" stroke="#211e1b" stroke-width="0.76" opacity="0.89"/>
<path d="M29.0 49.0 Q33.3 45.0 38.5 43.9" stroke="#211e1b" stroke-width="1.22" opacity="0.71"/>
<path d="M-10.2 50.9 Q-4.4 43.4 2.9 35.0" stroke="#211e1b" stroke-width="0.78" opacity="0.96"/>
<path d="M97.2 67.5 Q100.8 68.0 103.8 67.0" stroke="#211e1b" stroke-width="0.39" opacity="0.91"/>
<path d="M23.9 81.1 Q28.2 83.0 31.9 82.2" stroke="#211e1b" stroke-width="1.36" opacity="0.63"/>
<path d="M59.0 77.3 Q65.4 77.2 70.2 76.5" stroke="#211e1b" stroke-width="0.45" opacity="0.63"/>
<path d="M40.7 68.3 Q50.2 69.2 60.2 67.5" stroke="#211e1b" stroke-width="1.10" opacity="0.67"/>
<path d="M52.1 80.4 Q56.0 80.3 60.8 79.6" stroke="#211e1b" stroke-width="0.64" opacity="0.61"/>
<path d="M22.3 18.0 Q22.8 15.4 26.1 11.9" stroke="#211e1b" stroke-width="0.49" opacity="0.55"/>
<path d="M-3.8 49.0 Q0.7 43.8 4.7 39.1" stroke="#211e1b" stroke-width="0.40" opacity="0.67"/>
<path d="M19.0 78.2 Q23.5 79.4 26.4 78.0" stroke="#211e1b" stroke-width="1.23" opacity="0.53"/>
<path d="M40.4 52.3 Q46.3 50.4 52.2 49.1" stroke="#211e1b" stroke-width="1.41" opacity="0.61"/>
<path d="M12.3 13.0 Q15.2 8.2 19.7 1.1" stroke="#211e1b" stroke-width="1.41" opacity="0.96"/>
<path d="M89.8 64.1 Q92.6 62.4 97.1 62.4" stroke="#211e1b" stroke-width="1.37" opacity="0.61"/>
<path d="M7.9 101.3 Q10.1 102.0 13.8 105.2" stroke="#211e1b" stroke-width="0.75" opacity="0.69"/>
<path d="M6.3 8.4 Q11.8 0.1 15.7 -6.1" stroke="#211e1b" stroke-width="0.38" opacity="0.92"/>
<path d="M31.1 91.7 Q34.2 92.3 37.0 93.7" stroke="#211e1b" stroke-width="1.16" opacity="0.57"/>
<path d="M71.9 61.0 Q78.5 57.5 85.4 56.7" stroke="#211e1b" stroke-width="0.79" opacity="0.66"/>
<path d="M83.6 83.1 Q89.4 82.7 95.2 84.2" stroke="#211e1b" stroke-width="0.65" opacity="0.59"/>
<path d="M101.7 26.4 Q103.7 24.3 107.8 23.8" stroke="#211e1b" stroke-width="0.65" opacity="0.54"/>
<path d="M40.2 81.7 Q43.2 82.2 45.3 81.6" stroke="#211e1b" stroke-width="1.14" opacity="0.90"/>
<path d="M52.3 1.8 Q57.7 -3.8 64.9 -8.6" stroke="#211e1b" stroke-width="0.53" opacity="0.56"/>
<path d="M-8.2 76.0 Q0.5 75.3 6.5 73.7" stroke="#211e1b" stroke-width="0.94" opacity="0.55"/>
<path d="M47.9 65.3 Q54.4 63.6 60.5 61.5" stroke="#211e1b" stroke-width="0.92" opacity="0.59"/>
<path d="M72.9 69.7 Q80.5 69.6 86.7 69.8" stroke="#211e1b" stroke-width="0.49" opacity="0.56"/>
<path d="M24.5 52.1 Q31.4 48.4 37.9 46.4" stroke="#211e1b" stroke-width="0.56" opacity="0.52"/>
<path d="M55.6 -0.3 Q60.1 -4.8 65.0 -8.3" stroke="#211e1b" stroke-width="0.97" opacity="0.59"/>
<path d="M11.5 86.4 Q15.0 86.9 16.5 87.7" stroke="#211e1b" stroke-width="1.26" opacity="0.79"/>
<path d="M94.2 86.1 Q102.6 84.5 113.4 84.7" stroke="#211e1b" stroke-width="1.48" opacity="0.57"/>
<path d="M67.2 25.6 Q72.8 21.3 79.5 19.0" stroke="#211e1b" stroke-width="0.91" opacity="0.91"/>
<path d="M90.6 99.7 Q97.3 99.7 102.1 102.3" stroke="#211e1b" stroke-width="1.11" opacity="0.84"/>
<path d="M63.2 90.0 Q73.5 92.0 81.7 91.8" stroke="#211e1b" stroke-width="0.41" opacity="0.67"/>
<path d="M50.3 29.3 Q51.5 28.9 54.7 26.0" stroke="#211e1b" stroke-width="0.84" opacity="0.56"/>
<path d="M68.3 17.2 Q74.7 11.3 80.5 7.1" stroke="#211e1b" stroke-width="1.19" opacity="0.89"/>
<path d="M79.4 51.1 Q89.0 49.6 98.5 47.0" stroke="#211e1b" stroke-width="0.73" opacity="0.87"/>
<path d="M68.8 51.1 Q72.7 51.5 76.0 49.3" stroke="#211e1b" stroke-width="0.66" opacity="0.58"/>
<path d="M78.4 85.1 Q87.7 83.4 96.3 83.9" stroke="#211e1b" stroke-width="0.50" opacity="0.82"/>
<path d="M92.5 46.5 Q97.1 46.0 101.2 44.0" stroke="#211e1b" stroke-width="1.10" opacity="0.82"/>
<path d="M5.2 42.8 Q13.0 36.0 18.2 31.5" stroke="#211e1b" stroke-width="0.46" opacity="0.68"/>
<path d="M81.4 54.1 Q88.3 54.4 92.2 53.1" stroke="#211e1b" stroke-width="1.28" opacity="0.91"/>
<path d="M23.7 23.9 Q27.4 20.6 30.9 17.7" stroke="#211e1b" stroke-width="0.99" opacity="0.69"/>
<path d="M91.3 78.3 Q95.2 77.8 96.7 78.4" stroke="#211e1b" stroke-width="0.91" opacity="0.95"/>
<path d="M16.4 54.5 Q21.9 53.5 27.3 49.6" stroke="#211e1b" stroke-width="0.61" opacity="0.77"/>
<path d="M0.7 14.0 Q3.1 10.7 3.7 8.0" stroke="#211e1b" stroke-width="1.13" opacity="0.57"/>
<path d="M23.3 47.4 Q30.8 42.9 35.9 39.0" stroke="#211e1b" stroke-width="0.82" opacity="0.96"/>
<path d="M62.8 85.4 Q71.9 86.2 82.3 88.6" stroke="#211e1b" stroke-width="1.31" opacity="0.89"/>
<path d="M70.1 99.7 Q77.9 101.3 85.6 101.6" stroke="#ddd1bf" stroke-width="1.08" opacity="0.94"/>
<path d="M49.8 91.8 Q59.3 91.8 66.1 92.9" stroke="#ddd1bf" stroke-width="2.11" opacity="0.92"/>
<path d="M3.3 81.6 Q10.7 81.9 15.8 81.4" stroke="#ddd1bf" stroke-width="2.13" opacity="0.96"/>
<path d="M44.8 83.0 Q53.9 83.4 61.8 85.1" stroke="#ddd1bf" stroke-width="2.02" opacity="0.92"/>
<path d="M55.0 26.6 Q58.6 25.0 63.7 21.3" stroke="#ddd1bf" stroke-width="0.87" opacity="0.73"/>
<path d="M14.1 96.1 Q16.7 98.1 19.9 99.1" stroke="#ddd1bf" stroke-width="1.02" opacity="0.78"/>
<path d="M12.6 20.3 Q14.4 18.5 15.9 14.0" stroke="#ddd1bf" stroke-width="2.16" opacity="0.70"/>
<path d="M37.4 43.0 Q44.1 38.8 51.9 37.1" stroke="#ddd1bf" stroke-width="1.46" opacity="0.93"/>
<path d="M93.6 85.4 Q98.3 85.3 104.9 86.7" stroke="#ddd1bf" stroke-width="1.81" opacity="0.72"/>
<path d="M27.6 39.8 Q32.0 36.7 34.5 34.1" stroke="#ddd1bf" stroke-width="1.92" opacity="0.72"/>
<path d="M54.0 9.7 Q57.5 7.2 61.0 2.0" stroke="#ddd1bf" stroke-width="1.46" opacity="0.78"/>
<path d="M16.2 28.6 Q18.2 24.9 22.9 20.0" stroke="#ddd1bf" stroke-width="0.84" opacity="0.73"/>
<path d="M6.8 81.5 Q12.8 82.6 16.9 83.0" stroke="#ddd1bf" stroke-width="1.40" opacity="0.88"/>
<path d="M91.1 76.2 Q97.5 77.4 102.8 76.6" stroke="#ddd1bf" stroke-width="1.82" opacity="0.94"/>
<path d="M86.3 9.0 Q90.8 5.1 93.9 3.3" stroke="#ddd1bf" stroke-width="1.36" opacity="0.85"/>
<path d="M51.8 4.2 Q56.7 -0.0 60.2 -5.7" stroke="#ddd1bf" stroke-width="0.94" opacity="0.81"/>
<path d="M34.4 92.3 Q38.5 93.5 44.5 93.7" stroke="#ddd1bf" stroke-width="1.81" opacity="0.73"/>
<path d="M26.2 65.8 Q33.5 66.0 38.5 64.1" stroke="#ddd1bf" stroke-width="1.31" opacity="0.73"/>
<path d="M72.9 69.3 Q78.3 68.4 83.2 67.0" stroke="#ddd1bf" stroke-width="1.39" opacity="0.99"/>
<path d="M23.2 69.8 Q27.8 69.4 30.3 68.0" stroke="#ddd1bf" stroke-width="0.87" opacity="0.95"/>
<path d="M5.1 50.4 Q11.9 45.5 16.3 38.1" stroke="#ddd1bf" stroke-width="1.74" opacity="0.84"/>
<path d="M23.3 39.5 Q29.0 36.7 33.8 31.2" stroke="#ddd1bf" stroke-width="1.63" opacity="0.95"/>
<path d="M41.7 50.1 Q48.8 45.1 57.5 41.6" stroke="#ddd1bf" stroke-width="1.17" opacity="0.83"/>
<path d="M92.4 89.6 Q102.0 91.7 108.8 92.2" stroke="#ddd1bf" stroke-width="1.85" opacity="0.77"/>
<path d="M70.8 16.3 Q77.2 11.4 83.4 7.4" stroke="#ddd1bf" stroke-width="1.69" opacity="0.76"/>
<path d="M60.3 65.7 Q67.6 63.2 74.4 62.8" stroke="#ddd1bf" stroke-width="0.82" opacity="0.92"/>
<path d="M49.8 48.2 Q58.3 44.8 65.4 42.8" stroke="#ddd1bf" stroke-width="1.80" opacity="0.98"/>
<path d="M67.7 43.3 Q71.8 43.3 73.5 40.3" stroke="#ddd1bf" stroke-width="1.79" opacity="0.82"/>
<path d="M58.8 28.8 Q62.0 27.0 66.7 23.6" stroke="#ddd1bf" stroke-width="0.94" opacity="0.71"/>
<path d="M30.3 17.1 Q35.1 12.4 42.4 7.0" stroke="#ddd1bf" stroke-width="1.96" opacity="0.81"/>
<path d="M26.5 57.6 Q33.3 54.4 42.9 51.8" stroke="#ddd1bf" stroke-width="1.87" opacity="0.78"/>
<path d="M94.4 91.5 Q103.7 92.5 110.8 92.9" stroke="#ddd1bf" stroke-width="1.80" opacity="0.88"/>
<path d="M32.4 31.7 Q35.9 30.3 39.2 26.5" stroke="#ddd1bf" stroke-width="1.67" opacity="0.74"/>
<path d="M74.6 73.0 Q83.9 71.6 90.7 70.5" stroke="#ddd1bf" stroke-width="0.86" opacity="0.84"/>
<path d="M66.4 47.5 Q70.7 47.1 74.0 44.6" stroke="#ddd1bf" stroke-width="1.24" opacity="0.99"/>
<path d="M8.8 38.3 Q12.4 30.8 17.8 25.4" stroke="#ddd1bf" stroke-width="0.80" opacity="0.77"/>
<path d="M40.5 61.1 Q47.1 60.8 55.7 58.2" stroke="#ddd1bf" stroke-width="1.50" opacity="0.92"/>
<path d="M5.8 75.5 Q9.5 74.0 15.1 74.3" stroke="#ddd1bf" stroke-width="1.93" opacity="0.71"/>
<path d="M-6.1 10.1 Q-2.5 3.5 -0.8 -5.1" stroke="#ddd1bf" stroke-width="1.41" opacity="0.92"/>
<path d="M89.8 48.2 Q94.4 45.5 98.8 45.3" stroke="#ddd1bf" stroke-width="1.92" opacity="1.00"/>
<path d="M60.9 83.8 Q65.7 85.4 70.1 85.0" stroke="#ddd1bf" stroke-width="0.87" opacity="0.75"/>
<path d="M30.5 -1.4 Q32.9 -5.0 34.0 -7.9" stroke="#ddd1bf" stroke-width="1.57" opacity="0.87"/>
<path d="M60.5 31.9 Q66.3 30.0 72.9 26.2" stroke="#ddd1bf" stroke-width="1.42" opacity="0.86"/>
<path d="M57.5 69.8 Q63.0 69.0 69.1 70.0" stroke="#ddd1bf" stroke-width="0.88" opacity="1.00"/>
<path d="M54.7 77.6 Q63.7 79.6 70.6 79.4" stroke="#ddd1bf" stroke-width="1.87" opacity="0.78"/>
<path d="M96.7 7.5 Q100.3 6.5 104.3 4.0" stroke="#ddd1bf" stroke-width="1.88" opacity="0.88"/>
<path d="M8.4 79.9 Q15.6 78.5 22.7 77.7" stroke="#ddd1bf" stroke-width="0.96" opacity="0.84"/>
<path d="M69.4 91.4 Q77.2 91.8 83.9 95.1" stroke="#ddd1bf" stroke-width="2.12" opacity="0.92"/>
<path d="M89.3 103.9 Q95.1 104.1 100.2 105.9" stroke="#ddd1bf" stroke-width="1.64" opacity="0.96"/>
<path d="M72.9 74.1 Q79.5 72.4 85.6 73.4" stroke="#ddd1bf" stroke-width="1.29" opacity="0.71"/>
<path d="M36.4 33.7 Q38.8 31.5 41.2 29.4" stroke="#ddd1bf" stroke-width="2.08" opacity="0.82"/>
<path d="M0.3 75.7 Q7.4 74.2 13.2 72.0" stroke="#ddd1bf" stroke-width="0.84" opacity="0.98"/>
<path d="M66.4 -0.7 Q70.6 -3.4 73.4 -6.2" stroke="#ddd1bf" stroke-width="1.67" opacity="0.85"/>
<path d="M22.2 3.1 Q26.2 -3.8 29.1 -9.4" stroke="#ddd1bf" stroke-width="2.16" opacity="0.93"/>
<path d="M13.2 34.7 Q17.5 28.4 21.6 22.3" stroke="#ddd1bf" stroke-width="0.99" opacity="0.96"/>
<path d="M95.4 6.7 Q103.6 3.6 109.6 -0.1" stroke="#ddd1bf" stroke-width="1.36" opacity="0.90"/>
<path d="M-0.6 94.8 Q8.4 97.9 14.5 101.2" stroke="#ddd1bf" stroke-width="0.84" opacity="0.87"/>
<path d="M52.6 73.3 Q60.3 71.6 69.1 72.3" stroke="#ddd1bf" stroke-width="2.09" opacity="0.77"/>
<path d="M82.8 83.6 Q90.7 85.3 97.0 85.1" stroke="#ddd1bf" stroke-width="1.73" opacity="0.70"/>
<path d="M19.7 81.6 Q24.0 82.7 27.5 82.4" stroke="#ddd1bf" stroke-width="1.18" opacity="0.97"/>
<path d="M7.6 102.4 Q10.1 103.7 13.8 105.5" stroke="#ddd1bf" stroke-width="0.98" opacity="0.83"/>
<path d="M-6.9 44.1 Q-2.6 35.1 0.3 28.9" stroke="#ddd1bf" stroke-width="1.70" opacity="0.81"/>
<path d="M28.2 59.2 Q33.4 58.0 39.2 56.0" stroke="#ddd1bf" stroke-width="1.50" opacity="0.82"/>
<path d="M83.5 90.5 Q88.5 91.8 94.6 93.0" stroke="#ddd1bf" stroke-width="1.74" opacity="0.89"/>
<path d="M61.5 38.9 Q66.0 38.5 69.7 35.7" stroke="#ddd1bf" stroke-width="2.19" opacity="0.80"/>
<path d="M76.6 96.2 Q80.3 95.8 84.2 98.3" stroke="#ddd1bf" stroke-width="1.60" opacity="0.99"/>
<path d="M37.0 93.1 Q44.5 96.3 49.2 96.8" stroke="#ddd1bf" stroke-width="1.19" opacity="0.77"/>
<path d="M5.4 68.4 Q10.0 66.1 12.7 66.6" stroke="#ddd1bf" stroke-width="1.62" opacity="0.98"/>
<path d="M-9.7 79.6 Q-4.5 79.5 2.2 78.9" stroke="#ddd1bf" stroke-width="1.46" opacity="0.97"/>
<path d="M24.7 11.7 Q27.9 8.0 29.0 6.0" stroke="#ddd1bf" stroke-width="1.42" opacity="0.85"/>
<path d="M93.1 92.4 Q101.3 93.3 108.5 95.0" stroke="#ddd1bf" stroke-width="0.92" opacity="0.74"/>
<path d="M23.8 37.5 Q29.5 34.2 36.4 28.1" stroke="#ddd1bf" stroke-width="1.57" opacity="0.78"/>
<path d="M80.1 51.4 Q85.0 50.5 89.4 47.9" stroke="#ddd1bf" stroke-width="1.09" opacity="0.82"/>
<path d="M14.6 36.1 Q17.8 33.2 19.9 29.3" stroke="#ddd1bf" stroke-width="2.18" opacity="0.83"/>
<path d="M17.6 3.9 Q20.7 -2.6 24.3 -6.7" stroke="#ddd1bf" stroke-width="0.84" opacity="0.74"/>
<path d="M81.0 81.5 Q84.9 81.7 87.8 82.4" stroke="#ddd1bf" stroke-width="1.52" opacity="0.90"/>
<path d="M20.5 74.5 Q25.4 73.9 28.2 72.6" stroke="#ddd1bf" stroke-width="1.77" opacity="0.75"/>
<path d="M13.7 24.9 Q19.7 19.0 23.5 12.1" stroke="#ddd1bf" stroke-width="1.56" opacity="0.73"/>
<path d="M95.3 93.3 Q101.4 95.3 110.0 96.9" stroke="#ddd1bf" stroke-width="1.19" opacity="0.79"/>
<path d="M80.3 100.7 Q85.7 100.4 93.0 103.0" stroke="#ddd1bf" stroke-width="1.23" opacity="0.93"/>
<path d="M1.9 58.5 Q9.9 53.4 17.0 51.0" stroke="#ddd1bf" stroke-width="1.80" opacity="0.78"/>
<path d="M42.5 9.1 Q44.5 6.5 49.0 1.9" stroke="#ddd1bf" stroke-width="0.99" opacity="0.77"/>
<path d="M64.0 43.3 Q67.6 43.6 72.6 41.2" stroke="#ddd1bf" stroke-width="1.48" opacity="0.87"/>
<path d="M2.3 50.7 Q8.9 45.8 12.6 42.5" stroke="#ddd1bf" stroke-width="2.06" opacity="0.93"/>
<path d="M93.0 91.8 Q99.6 92.1 108.4 93.5" stroke="#ddd1bf" stroke-width="2.10" opacity="0.80"/>
<path d="M45.7 34.3 Q49.5 32.4 56.0 29.4" stroke="#ddd1bf" stroke-width="1.49" opacity="0.89"/>
<path d="M2.5 65.1 Q7.7 63.5 14.0 61.0" stroke="#ddd1bf" stroke-width="1.71" opacity="0.83"/>
<path d="M26.8 77.4 Q32.5 75.4 39.7 76.1" stroke="#ddd1bf" stroke-width="1.93" opacity="0.88"/>
<path d="M93.4 54.7 Q102.3 55.1 108.3 53.6" stroke="#ddd1bf" stroke-width="0.87" opacity="0.83"/>
<path d="M61.7 53.7 Q65.1 51.8 69.4 51.4" stroke="#ddd1bf" stroke-width="1.99" opacity="0.72"/>
<rect x="65.0" y="93.85" width="30.6" height="1.5" fill="#ffffff"/>
</g>
</g>
<rect x="589.1" y="201.2" width="94.9" height="95.0" fill="none" stroke="#1a1a1a" stroke-width="1.0"/>
<g clip-path="url(#clip_f1)">
<rect x="348.5" y="310.4" width="95.3" height="94.0" fill="#c9bdae"/>
<g transform="translate(348.5,310.4) scale(0.9530,0.9400)" fill="none" stroke-linecap="round">
<path d="M13 3 C26 8 36 18 38 32 C39 44 36 56 30 66" stroke="#2b2723" stroke-width="0.55" opacity="0.9"/>
<path d="M13 3 C10 16 10 30 14 42 C18 54 24 66 28 80" stroke="#2b2723" stroke-width="0.55" opacity="0.9"/>
<path d="M14 40 C22 36 30 34 37 30" stroke="#2b2723" stroke-width="0.45" opacity="0.9"/>
<path d="M17 52 C24 48 30 44 36 42" stroke="#2b2723" stroke-width="0.45" opacity="0.9"/>
<path d="M15 22 C22 22 30 24 36 26" stroke="#2b2723" stroke-width="0.4" opacity="0.7"/>
<path d="M0 34 C8 42 13 54 12 68 C11 82 7 92 4 100" stroke="#2b2723" stroke-width="0.55" opacity="0.9"/>
<path d="M0 56 C4 62 6 70 5 80" stroke="#2b2723" stroke-width="0.45" opacity="0.9"/>
<path d="M0 18 C4 22 8 28 10 36" stroke="#2b2723" stroke-width="0.45" opacity="0.9"/>
<path d="M6 0 C8 6 10 10 13 14" stroke="#2b2723" stroke-width="0.45" opacity="0.9"/>
<path d="M28 80 C30 70 36 64 42 66 C46 68 46 76 42 82" stroke="#2b2723" stroke-width="0.55" opacity="0.9"/>
<path d="M30 66 C34 60 40 58 44 50 C48 42 48 30 46 20" stroke="#2b2723" stroke-width="0.5" opacity="0.9"/>
<path d="M22 100 C24 92 28 84 34 80 C40 78 44 84 44 92" stroke="#2b2723" stroke-width="0.5" opacity="0.9"/>
<path d="M10 100 C12 92 16 86 22 84" stroke="#2b2723" stroke-width="0.45" opacity="0.9"/>
<path d="M84 0 C86 12 84 24 78 34 C74 40 74 50 78 58" stroke="#2b2723" stroke-width="0.55" opacity="0.9"/>
<path d="M100 6 C96 18 90 28 82 36" stroke="#2b2723" stroke-width="0.5" opacity="0.9"/>
<path d="M78 44 C86 42 94 42 100 44" stroke="#2b2723" stroke-width="0.55" opacity="0.9"/>
<path d="M76 58 C84 54 92 54 100 58" stroke="#2b2723" stroke-width="0.5" opacity="0.9"/>
<path d="M100 66 C92 70 86 78 84 88 C83 94 84 98 86 100" stroke="#2b2723" stroke-width="0.55" opacity="0.9"/>
<path d="M100 80 C96 84 94 92 94 100" stroke="#2b2723" stroke-width="0.5" opacity="0.9"/>
<path d="M66 100 C68 90 72 82 78 78" stroke="#2b2723" stroke-width="0.45" opacity="0.9"/>
<path d="M60 0 C62 6 66 10 72 12" stroke="#2b2723" stroke-width="0.4" opacity="0.7"/>
<path d="M58 4 C62 20 60 40 64 60 C66 72 62 84 58 96" stroke="#8f877c" stroke-width="5" opacity="0.28"/>
<path d="M24 20 C28 30 24 44 28 56" stroke="#8f877c" stroke-width="4" opacity="0.22"/>
<path d="M65.9 69.3 q-1.3 2.1 -3.5 2.6" stroke="#2b2723" stroke-width="0.35" opacity="0.55"/>
<path d="M46.9 45.0 q-0.9 -0.5 -3.4 0.6" stroke="#2b2723" stroke-width="0.35" opacity="0.55"/>
<path d="M61.0 25.7 q-1.2 1.0 -0.4 3.2" stroke="#2b2723" stroke-width="0.35" opacity="0.55"/>
<path d="M54.9 84.6 q-0.1 -0.1 -1.5 1.3" stroke="#2b2723" stroke-width="0.35" opacity="0.55"/>
<path d="M65.8 15.1 q1.5 -0.6 4.1 0.0" stroke="#2b2723" stroke-width="0.35" opacity="0.55"/>
<path d="M77.4 80.8 q1.4 2.1 2.7 3.5" stroke="#2b2723" stroke-width="0.35" opacity="0.55"/>
<path d="M52.6 86.8 q-0.5 1.4 -2.5 3.6" stroke="#2b2723" stroke-width="0.35" opacity="0.55"/>
<path d="M57.6 18.6 q0.4 0.6 1.5 0.7" stroke="#2b2723" stroke-width="0.35" opacity="0.55"/>
<path d="M46.1 63.7 q1.2 1.0 1.2 2.1" stroke="#2b2723" stroke-width="0.35" opacity="0.55"/>
<path d="M56.1 46.3 q0.4 -0.3 -1.0 1.3" stroke="#2b2723" stroke-width="0.35" opacity="0.55"/>
<path d="M70.0 78.3 q1.7 0.3 3.9 0.2" stroke="#2b2723" stroke-width="0.35" opacity="0.55"/>
<path d="M46.3 8.1 q1.2 1.7 3.7 2.3" stroke="#2b2723" stroke-width="0.35" opacity="0.55"/>
<path d="M75.7 86.9 q0.7 1.7 1.2 2.3" stroke="#2b2723" stroke-width="0.35" opacity="0.55"/>
<path d="M49.5 69.9 q-2.6 2.1 -3.3 2.4" stroke="#2b2723" stroke-width="0.35" opacity="0.55"/>
<path d="M48.9 34.0 q-1.0 2.8 -1.5 4.0" stroke="#2b2723" stroke-width="0.35" opacity="0.55"/>
<path d="M63.4 31.5 q-0.3 0.2 1.1 1.7" stroke="#2b2723" stroke-width="0.35" opacity="0.55"/>
<path d="M68.1 91.7 q1.7 0.5 1.4 0.8" stroke="#2b2723" stroke-width="0.35" opacity="0.55"/>
<path d="M59.0 24.9 q-0.7 1.7 -1.2 3.8" stroke="#2b2723" stroke-width="0.35" opacity="0.55"/>
<path d="M47.8 84.6 q2.2 -0.6 3.0 0.3" stroke="#2b2723" stroke-width="0.35" opacity="0.55"/>
<path d="M69.4 87.6 q-1.6 1.6 -1.5 3.5" stroke="#2b2723" stroke-width="0.35" opacity="0.55"/>
<path d="M50.8 78.3 q1.9 1.8 1.7 2.3" stroke="#2b2723" stroke-width="0.35" opacity="0.55"/>
<path d="M77.2 43.9 q0.0 1.4 0.1 3.7" stroke="#2b2723" stroke-width="0.35" opacity="0.55"/>
<path d="M58.9 16.9 q1.8 2.3 1.7 4.1" stroke="#2b2723" stroke-width="0.35" opacity="0.55"/>
<path d="M62.0 33.8 q1.7 1.1 2.2 0.6" stroke="#2b2723" stroke-width="0.35" opacity="0.55"/>
<path d="M57.6 73.2 q-1.0 1.7 -2.7 2.3" stroke="#2b2723" stroke-width="0.35" opacity="0.55"/>
<path d="M57.6 66.0 q1.5 1.5 1.9 2.3" stroke="#2b2723" stroke-width="0.35" opacity="0.55"/>
<path d="M55.4 87.2 q-1.7 1.5 -1.5 2.9" stroke="#2b2723" stroke-width="0.35" opacity="0.55"/>
<path d="M54.0 63.1 q0.5 2.6 0.5 3.9" stroke="#2b2723" stroke-width="0.35" opacity="0.55"/>
<path d="M57.1 60.7 q-1.7 2.1 -2.7 2.9" stroke="#2b2723" stroke-width="0.35" opacity="0.55"/>
<path d="M73.8 64.6 q-2.1 0.2 -4.4 0.3" stroke="#2b2723" stroke-width="0.35" opacity="0.55"/>
<path d="M51.3 77.6 q-1.1 0.7 -2.9 0.6" stroke="#2b2723" stroke-width="0.35" opacity="0.55"/>
<path d="M69.4 19.1 q-0.9 0.9 -2.5 2.1" stroke="#2b2723" stroke-width="0.35" opacity="0.55"/>
<path d="M66.0 72.2 q-1.7 1.0 -1.5 3.3" stroke="#2b2723" stroke-width="0.35" opacity="0.55"/>
<path d="M60.1 61.2 q1.6 0.2 2.7 2.3" stroke="#2b2723" stroke-width="0.35" opacity="0.55"/>
<path d="M61.1 23.9 q0.6 -0.5 1.9 0.3" stroke="#2b2723" stroke-width="0.35" opacity="0.55"/>
<path d="M52.2 7.1 q0.4 1.5 0.3 2.6" stroke="#2b2723" stroke-width="0.35" opacity="0.55"/>
<path d="M53.6 83.5 q0.9 -0.2 2.7 0.0" stroke="#2b2723" stroke-width="0.35" opacity="0.55"/>
<path d="M49.7 77.2 q0.5 -0.1 0.6 1.5" stroke="#2b2723" stroke-width="0.35" opacity="0.55"/>
<path d="M63.4 33.9 q0.1 2.0 -1.1 4.2" stroke="#2b2723" stroke-width="0.35" opacity="0.55"/>
<path d="M72.0 60.5 q0.6 1.0 0.8 1.8" stroke="#2b2723" stroke-width="0.35" opacity="0.55"/>
<path d="M76.6 89.2 q0.4 0.2 -0.9 2.4" stroke="#2b2723" stroke-width="0.35" opacity="0.55"/>
<path d="M49.5 53.8 q-0.1 1.7 -0.7 1.8" stroke="#2b2723" stroke-width="0.35" opacity="0.55"/>
<path d="M58.0 42.0 q1.8 0.5 1.8 1.5" stroke="#2b2723" stroke-width="0.35" opacity="0.55"/>
<path d="M76.8 84.4 q0.6 1.1 -0.7 2.2" stroke="#2b2723" stroke-width="0.35" opacity="0.55"/>
<path d="M59.3 32.1 q-1.9 0.0 -3.0 0.1" stroke="#2b2723" stroke-width="0.35" opacity="0.55"/>
<path d="M49.9 58.7 q0.8 1.8 0.4 2.3" stroke="#2b2723" stroke-width="0.35" opacity="0.55"/>
<path d="M8.5 54.9 q1.8 0.9 2.5 2.9" stroke="#2b2723" stroke-width="0.35" opacity="0.45"/>
<path d="M17.6 21.6 q-0.9 -0.0 -2.2 0.1" stroke="#2b2723" stroke-width="0.35" opacity="0.45"/>
<path d="M31.2 61.1 q-0.1 0.2 -1.2 1.3" stroke="#2b2723" stroke-width="0.35" opacity="0.45"/>
<path d="M27.2 37.6 q0.8 0.9 1.7 2.3" stroke="#2b2723" stroke-width="0.35" opacity="0.45"/>
<path d="M34.8 60.0 q1.0 1.0 2.1 0.2" stroke="#2b2723" stroke-width="0.35" opacity="0.45"/>
<path d="M40.0 56.0 q1.6 0.2 3.4 0.2" stroke="#2b2723" stroke-width="0.35" opacity="0.45"/>
<path d="M33.5 63.6 q-0.1 1.7 0.2 3.8" stroke="#2b2723" stroke-width="0.35" opacity="0.45"/>
<path d="M38.7 25.3 q0.2 2.1 2.1 2.9" stroke="#2b2723" stroke-width="0.35" opacity="0.45"/>
<path d="M33.0 46.1 q1.9 0.6 2.1 2.7" stroke="#2b2723" stroke-width="0.35" opacity="0.45"/>
<path d="M25.2 56.3 q-0.7 1.3 0.0 2.3" stroke="#2b2723" stroke-width="0.35" opacity="0.45"/>
<path d="M37.2 14.0 q1.9 1.5 2.7 2.3" stroke="#2b2723" stroke-width="0.35" opacity="0.45"/>
<path d="M8.9 71.6 q-1.6 -0.8 -4.0 0.3" stroke="#2b2723" stroke-width="0.35" opacity="0.45"/>
<path d="M38.3 27.3 q-0.4 1.0 -1.7 3.5" stroke="#2b2723" stroke-width="0.35" opacity="0.45"/>
<path d="M18.5 88.8 q1.2 0.0 2.7 1.4" stroke="#2b2723" stroke-width="0.35" opacity="0.45"/>
<path d="M30.4 11.8 q0.3 -0.5 2.3 0.8" stroke="#2b2723" stroke-width="0.35" opacity="0.45"/>
<path d="M28.7 73.3 q-1.0 -0.0 -1.7 0.7" stroke="#2b2723" stroke-width="0.35" opacity="0.45"/>
<path d="M29.6 51.1 q-2.1 0.6 -2.4 0.5" stroke="#2b2723" stroke-width="0.35" opacity="0.45"/>
<path d="M13.4 63.6 q0.1 2.1 -0.1 3.8" stroke="#2b2723" stroke-width="0.35" opacity="0.45"/>
<path d="M17.5 56.5 q1.2 0.5 2.4 2.4" stroke="#2b2723" stroke-width="0.35" opacity="0.45"/>
<path d="M16.4 40.7 q-0.2 1.0 -1.3 1.4" stroke="#2b2723" stroke-width="0.35" opacity="0.45"/>
<path d="M11.1 66.8 q1.1 -0.3 1.7 0.5" stroke="#2b2723" stroke-width="0.35" opacity="0.45"/>
<path d="M39.6 50.3 q-0.0 1.9 1.8 3.0" stroke="#2b2723" stroke-width="0.35" opacity="0.45"/>
<path d="M9.9 21.3 q-2.1 -0.5 -3.2 0.5" stroke="#2b2723" stroke-width="0.35" opacity="0.45"/>
<path d="M43.0 66.5 q-0.5 0.2 -1.6 1.0" stroke="#2b2723" stroke-width="0.35" opacity="0.45"/>
<path d="M16.5 37.3 q-0.6 0.4 -0.8 2.2" stroke="#2b2723" stroke-width="0.35" opacity="0.45"/>
<path d="M37.9 65.0 q-0.4 0.8 -2.1 1.5" stroke="#2b2723" stroke-width="0.35" opacity="0.45"/>
<path d="M29.3 58.4 q-1.7 -0.0 -1.7 1.8" stroke="#2b2723" stroke-width="0.35" opacity="0.45"/>
<path d="M15.3 11.5 q-0.7 -0.5 -2.5 0.9" stroke="#2b2723" stroke-width="0.35" opacity="0.45"/>
<path d="M24.9 86.3 q-0.5 0.4 -0.9 2.4" stroke="#2b2723" stroke-width="0.35" opacity="0.45"/>
<path d="M13.6 22.0 q1.2 0.4 0.9 2.3" stroke="#2b2723" stroke-width="0.35" opacity="0.45"/>
<path d="M17.1 32.4 q0.4 0.5 1.9 1.1" stroke="#2b2723" stroke-width="0.35" opacity="0.45"/>
<path d="M9.2 89.4 q1.1 2.1 1.5 3.5" stroke="#2b2723" stroke-width="0.35" opacity="0.45"/>
<path d="M25.0 91.2 q1.1 0.9 3.0 1.1" stroke="#2b2723" stroke-width="0.35" opacity="0.45"/>
<path d="M34.3 22.4 q0.1 -0.4 1.3 0.9" stroke="#2b2723" stroke-width="0.35" opacity="0.45"/>
<path d="M22.4 93.7 q0.4 0.6 0.9 2.1" stroke="#2b2723" stroke-width="0.35" opacity="0.45"/>
<path d="M34.4 71.2 q1.3 1.4 1.8 1.0" stroke="#2b2723" stroke-width="0.35" opacity="0.45"/>
<path d="M31.3 45.9 q-1.6 0.6 -1.5 0.1" stroke="#2b2723" stroke-width="0.35" opacity="0.45"/>
<path d="M22.8 12.0 q-0.3 1.7 -0.6 3.9" stroke="#2b2723" stroke-width="0.35" opacity="0.45"/>
<path d="M11.4 14.3 q-0.4 -0.5 -2.6 0.9" stroke="#2b2723" stroke-width="0.35" opacity="0.45"/>
<path d="M16.8 12.4 q-0.2 0.6 0.5 1.6" stroke="#2b2723" stroke-width="0.35" opacity="0.45"/>
<path d="M62 10 C64 26 60 44 66 60 C70 72 66 84 62 92" stroke="#2b2723" stroke-width="0.4" opacity="0.7"/>
<path d="M54 30 C56 44 54 58 50 70 C48 78 50 86 54 92" stroke="#2b2723" stroke-width="0.4" opacity="0.7"/>
<rect x="76.0" y="94.4" width="19.0" height="1.6" fill="#ffffff"/>
</g>
</g>
<rect x="348.5" y="310.4" width="95.3" height="94.0" fill="none" stroke="#1a1a1a" stroke-width="1.0"/>
<g clip-path="url(#clip_f2)">
<rect x="461.0" y="310.4" width="95.0" height="94.0" fill="#c6baab"/>
<g transform="translate(461.0,310.4) scale(0.9500,0.9400)" fill="none" stroke-linecap="round">
<path d="M1.8 100.1 C1.6 60.4 16.3 26.4 45.8 -0.3" stroke="#27231f" stroke-width="0.54" opacity="0.64"/>
<path d="M2.9 100.6 C3.2 60.7 17.6 26.3 47.0 0.3" stroke="#27231f" stroke-width="0.52" opacity="0.84"/>
<path d="M4.4 100.6 C5.0 60.8 19.1 27.3 48.8 0.7" stroke="#27231f" stroke-width="0.62" opacity="0.66"/>
<path d="M6.2 101.3 C5.8 60.9 19.9 27.2 49.6 1.1" stroke="#27231f" stroke-width="0.74" opacity="0.74"/>
<path d="M7.3 101.8 C7.6 61.6 21.0 27.6 51.1 1.8" stroke="#27231f" stroke-width="0.88" opacity="0.69"/>
<path d="M8.3 102.4 C8.8 62.3 22.8 28.5 52.2 1.9" stroke="#27231f" stroke-width="0.88" opacity="0.87"/>
<path d="M10.0 102.7 C9.8 62.4 24.3 29.1 54.0 2.6" stroke="#27231f" stroke-width="0.60" opacity="0.82"/>
<path d="M11.1 103.2 C11.1 63.1 25.7 28.9 55.4 2.9" stroke="#27231f" stroke-width="0.89" opacity="0.94"/>
<path d="M12.7 104.0 C12.6 63.5 26.8 29.6 56.8 3.4" stroke="#27231f" stroke-width="0.51" opacity="0.74"/>
<path d="M13.6 103.8 C14.1 64.2 28.4 30.2 58.0 3.9" stroke="#27231f" stroke-width="0.88" opacity="0.68"/>
<path d="M-0.4 40.0 C6.1 23.8 14.2 10.0 25.8 0.3" stroke="#27231f" stroke-width="0.52" opacity="0.67"/>
<path d="M-0.5 38.5 C5.4 22.8 13.3 8.3 25.6 -1.4" stroke="#27231f" stroke-width="0.70" opacity="0.62"/>
<path d="M-0.4 36.9 C5.4 21.0 13.2 6.6 25.3 -3.7" stroke="#27231f" stroke-width="1.16" opacity="0.58"/>
<path d="M-1.4 35.4 C5.0 18.7 13.3 4.7 25.0 -5.4" stroke="#27231f" stroke-width="0.61" opacity="0.77"/>
<path d="M-1.2 33.0 C4.9 17.5 12.8 3.8 24.6 -7.1" stroke="#27231f" stroke-width="0.54" opacity="0.94"/>
<path d="M-2.0 31.5 C4.5 15.9 12.6 1.7 24.2 -8.0" stroke="#27231f" stroke-width="0.51" opacity="0.67"/>
<path d="M-1.6 29.7 C4.3 14.1 12.1 0.1 24.0 -9.7" stroke="#27231f" stroke-width="0.55" opacity="0.68"/>
<path d="M58.2 0.2 C62.1 30.2 77.8 56.1 100.1 74.3" stroke="#27231f" stroke-width="0.68" opacity="0.68"/>
<path d="M58.7 -1.0 C63.1 29.3 78.5 55.6 100.9 73.6" stroke="#27231f" stroke-width="1.10" opacity="0.73"/>
<path d="M59.7 -1.4 C64.2 28.8 80.2 54.6 101.9 72.4" stroke="#27231f" stroke-width="0.94" opacity="0.80"/>
<path d="M61.0 -1.9 C65.1 27.6 80.9 53.4 102.5 71.9" stroke="#27231f" stroke-width="0.50" opacity="0.94"/>
<path d="M61.7 -3.1 C65.6 27.3 81.3 53.5 103.8 71.1" stroke="#27231f" stroke-width="0.65" opacity="0.83"/>
<path d="M62.3 -4.0 C66.9 26.2 82.8 52.3 104.6 70.3" stroke="#27231f" stroke-width="1.16" opacity="0.90"/>
<path d="M63.4 -4.3 C67.3 26.0 83.4 51.7 105.5 69.3" stroke="#27231f" stroke-width="0.77" opacity="0.90"/>
<path d="M64.4 -5.3 C68.1 25.2 84.6 51.3 106.1 69.0" stroke="#27231f" stroke-width="0.85" opacity="0.74"/>
<path d="M65.1 -5.7 C69.3 23.8 84.9 49.9 107.6 68.5" stroke="#27231f" stroke-width="1.04" opacity="0.72"/>
<path d="M66.2 -6.4 C69.9 23.9 86.6 49.0 108.0 67.3" stroke="#27231f" stroke-width="1.19" opacity="0.96"/>
<path d="M67.5 -7.3 C71.1 22.5 86.7 48.9 109.1 67.1" stroke="#27231f" stroke-width="1.24" opacity="0.79"/>
<path d="M67.6 -7.9 C72.4 22.0 88.1 48.0 110.0 65.9" stroke="#27231f" stroke-width="0.69" opacity="0.75"/>
<path d="M48.3 0.2 C49.6 23.7 59.6 45.6 75.6 62.2" stroke="#27231f" stroke-width="0.40" opacity="0.85"/>
<path d="M49.5 -0.7 C51.0 23.3 60.9 46.0 77.5 62.0" stroke="#27231f" stroke-width="0.39" opacity="0.74"/>
<path d="M50.4 -1.2 C52.5 23.5 62.8 45.5 78.2 61.5" stroke="#27231f" stroke-width="0.40" opacity="0.76"/>
<path d="M51.2 -1.6 C53.2 22.7 63.8 44.9 79.3 60.6" stroke="#27231f" stroke-width="0.48" opacity="0.60"/>
<path d="M52.5 -1.2 C55.1 22.6 64.4 44.4 81.1 60.7" stroke="#27231f" stroke-width="0.41" opacity="0.72"/>
<path d="M54.1 -2.3 C56.1 21.6 66.3 43.8 81.9 60.2" stroke="#27231f" stroke-width="0.60" opacity="0.99"/>
<path d="M78.1 -0.2 C83.7 8.3 92.2 13.7 100.3 15.9" stroke="#27231f" stroke-width="0.65" opacity="0.62"/>
<path d="M76.7 2.3 C82.8 9.8 90.9 15.6 99.0 18.2" stroke="#27231f" stroke-width="0.87" opacity="0.58"/>
<path d="M75.5 4.4 C82.0 12.2 89.8 18.4 97.4 20.3" stroke="#27231f" stroke-width="1.23" opacity="0.93"/>
<path d="M74.2 6.1 C80.0 13.8 88.7 19.7 96.5 21.7" stroke="#27231f" stroke-width="1.28" opacity="0.97"/>
<path d="M73.6 8.1 C79.6 15.7 87.3 21.6 95.3 24.4" stroke="#27231f" stroke-width="1.09" opacity="0.91"/>
<path d="M72.4 10.3 C78.1 18.2 85.7 23.8 94.2 26.2" stroke="#27231f" stroke-width="0.82" opacity="0.76"/>
<path d="M7.9 66.3 C30.0 83.8 63.8 92.0 100.3 87.8" stroke="#27231f" stroke-width="0.53" opacity="0.71"/>
<path d="M8.1 67.6 C30.2 85.3 64.0 93.1 100.2 89.2" stroke="#27231f" stroke-width="0.88" opacity="0.98"/>
<path d="M8.5 68.3 C30.6 86.1 64.1 94.3 100.4 90.5" stroke="#27231f" stroke-width="0.59" opacity="0.84"/>
<path d="M9.0 69.4 C30.5 87.6 64.9 95.9 100.7 91.7" stroke="#27231f" stroke-width="0.65" opacity="0.79"/>
<path d="M8.4 70.4 C30.5 89.1 64.6 96.5 101.0 92.7" stroke="#27231f" stroke-width="0.60" opacity="0.84"/>
<path d="M9.4 71.6 C31.4 90.1 65.2 98.1 100.9 93.9" stroke="#27231f" stroke-width="1.10" opacity="0.75"/>
<path d="M9.4 73.3 C31.5 91.1 65.0 99.1 101.2 95.4" stroke="#27231f" stroke-width="0.97" opacity="0.57"/>
<path d="M9.8 74.3 C31.0 92.7 65.1 100.0 101.7 96.4" stroke="#27231f" stroke-width="0.99" opacity="0.72"/>
<path d="M9.2 76.0 C31.2 93.5 65.8 101.8 101.3 97.5" stroke="#27231f" stroke-width="0.68" opacity="0.70"/>
<path d="M9.5 76.4 C32.1 95.1 65.7 102.6 102.0 98.8" stroke="#27231f" stroke-width="1.20" opacity="0.79"/>
<path d="M9.9 78.1 C32.2 96.4 66.1 104.0 102.0 99.7" stroke="#27231f" stroke-width="0.64" opacity="0.87"/>
<path d="M22.0 55.9 C44.0 69.7 69.6 77.8 100.0 78.0" stroke="#27231f" stroke-width="0.69" opacity="0.70"/>
<path d="M22.5 57.1 C44.8 71.5 70.3 79.2 100.4 79.0" stroke="#27231f" stroke-width="0.63" opacity="0.95"/>
<path d="M22.9 58.4 C44.8 72.4 70.9 80.6 100.6 80.6" stroke="#27231f" stroke-width="0.66" opacity="0.93"/>
<path d="M22.8 60.4 C44.8 73.6 71.3 82.4 100.7 81.6" stroke="#27231f" stroke-width="0.46" opacity="0.57"/>
<path d="M23.7 61.2 C44.9 75.4 71.2 83.0 100.9 83.3" stroke="#27231f" stroke-width="0.57" opacity="0.98"/>
<path d="M23.7 63.0 C45.6 77.0 71.4 85.0 101.6 84.7" stroke="#27231f" stroke-width="0.71" opacity="0.60"/>
<path d="M24.1 64.0 C46.0 77.8 72.4 85.9 102.1 85.7" stroke="#27231f" stroke-width="0.37" opacity="0.70"/>
<path d="M9.6 70.4 C9.7 57.7 22.0 53.9 27.8 63.6" stroke="#27231f" stroke-width="0.65" opacity="0.91"/>
<path d="M10.3 70.7 C10.6 58.9 22.2 54.6 28.1 64.4" stroke="#27231f" stroke-width="1.13" opacity="0.76"/>
<path d="M11.4 71.2 C10.6 59.0 22.8 54.6 29.2 65.2" stroke="#27231f" stroke-width="0.63" opacity="0.94"/>
<path d="M11.8 71.6 C11.5 59.5 23.8 55.8 29.3 65.7" stroke="#27231f" stroke-width="0.64" opacity="0.97"/>
<path d="M12.3 72.3 C12.3 59.7 24.1 56.2 30.1 66.2" stroke="#27231f" stroke-width="1.17" opacity="0.80"/>
<circle cx="17" cy="65" r="6.5" fill="#cbbfaf" stroke="#27231f" stroke-width="0.6" stroke-opacity="0.8"/>
<path d="M30.2 61.6 C40.2 48.1 50.4 36.0 55.8 16.4" stroke="#27231f" stroke-width="0.42" opacity="0.81"/>
<path d="M32.0 63.7 C41.6 49.5 52.0 36.9 58.1 16.9" stroke="#27231f" stroke-width="0.74" opacity="0.94"/>
<path d="M33.5 64.8 C43.1 50.1 53.3 38.3 59.5 18.9" stroke="#27231f" stroke-width="0.60" opacity="0.85"/>
<path d="M35.4 65.3 C45.3 51.7 55.1 39.6 61.1 19.8" stroke="#27231f" stroke-width="0.58" opacity="0.61"/>
<path d="M36.7 67.2 C46.9 53.3 56.8 40.9 63.2 20.9" stroke="#27231f" stroke-width="0.59" opacity="0.99"/>
<path d="M38.4 68.4 C49.0 54.7 59.2 42.1 64.6 22.2" stroke="#27231f" stroke-width="0.63" opacity="0.66"/>
<path d="M40.3 69.4 C50.4 55.5 60.5 43.7 66.7 23.7" stroke="#27231f" stroke-width="0.69" opacity="0.58"/>
<path d="M42.5 70.7 C52.3 56.9 62.2 44.5 68.3 24.6" stroke="#27231f" stroke-width="0.50" opacity="0.83"/>
<path d="M44.0 71.7 C53.9 57.6 63.9 46.4 70.2 25.7" stroke="#27231f" stroke-width="0.59" opacity="0.84"/>
<path d="M24.2 30.1 C33.6 26.3 44.3 27.7 54.1 37.6" stroke="#27231f" stroke-width="0.35" opacity="0.66"/>
<path d="M23.3 32.5 C33.2 28.8 43.6 30.2 53.2 40.3" stroke="#27231f" stroke-width="0.39" opacity="0.76"/>
<path d="M22.8 34.4 C32.3 31.2 42.8 33.0 52.4 43.0" stroke="#27231f" stroke-width="0.62" opacity="0.65"/>
<path d="M21.9 37.6 C31.3 32.9 41.7 35.1 51.8 45.5" stroke="#27231f" stroke-width="0.40" opacity="0.45"/>
<path d="M20.6 39.2 C31.0 35.7 40.8 38.0 50.5 48.0" stroke="#27231f" stroke-width="0.62" opacity="0.57"/>
<path d="M19.7 42.4 C30.4 37.7 40.2 40.0 50.1 50.2" stroke="#27231f" stroke-width="0.66" opacity="0.46"/>
<path d="M64.2 21.8 C67.7 13.6 75.6 12.0 84.1 18.1" stroke="#27231f" stroke-width="0.73" opacity="0.84"/>
<path d="M64.9 23.5 C68.4 15.1 76.2 13.9 84.6 19.6" stroke="#27231f" stroke-width="0.83" opacity="0.75"/>
<path d="M64.8 25.3 C68.6 16.7 77.0 15.1 85.1 21.3" stroke="#27231f" stroke-width="0.97" opacity="0.80"/>
<path d="M65.7 26.2 C69.6 18.5 77.8 16.8 85.8 22.3" stroke="#27231f" stroke-width="1.02" opacity="0.95"/>
<path d="M66.0 27.8 C70.3 20.1 77.7 18.3 86.1 23.9" stroke="#27231f" stroke-width="0.52" opacity="0.95"/>
<path d="M64 26 C70 30 78 30 84 24" stroke="#27231f" stroke-width="1.6"/>
<path d="M-0.1 85.6 C9.6 89.8 20.0 96.2 25.9 100.2" stroke="#27231f" stroke-width="0.88" opacity="0.69"/>
<path d="M2.6 84.7 C12.9 88.6 22.7 95.4 28.6 99.3" stroke="#27231f" stroke-width="1.25" opacity="0.63"/>
<path d="M4.6 84.2 C15.3 87.8 25.2 93.8 30.6 98.0" stroke="#27231f" stroke-width="0.95" opacity="0.71"/>
<path d="M7.2 83.2 C17.8 87.0 27.5 92.7 33.4 97.1" stroke="#27231f" stroke-width="1.18" opacity="0.89"/>
<path d="M10.3 81.7 C20.1 85.6 30.0 91.8 35.6 95.7" stroke="#27231f" stroke-width="1.07" opacity="0.72"/>
<path d="M0.0 19.7 C8.0 11.8 16.4 5.9 26.1 1.8" stroke="#27231f" stroke-width="0.74" opacity="0.88"/>
<path d="M2.1 22.0 C10.2 14.8 18.4 8.6 27.6 4.7" stroke="#27231f" stroke-width="0.80" opacity="0.78"/>
<path d="M3.8 24.7 C12.2 17.2 20.3 11.2 29.8 7.1" stroke="#27231f" stroke-width="0.32" opacity="0.67"/>
<path d="M6.4 27.4 C13.8 19.0 22.2 13.5 32.0 9.4" stroke="#27231f" stroke-width="0.48" opacity="0.97"/>
<path d="M7.7 29.4 C16.2 21.2 24.0 15.6 34.0 11.6" stroke="#27231f" stroke-width="0.63" opacity="0.94"/>
<path d="M10.2 32.2 C18.1 24.2 25.9 18.1 36.4 14.0" stroke="#27231f" stroke-width="0.69" opacity="0.71"/>
<path d="M30.2 3.6 C35.9 16.1 38.1 29.8 33.8 46.0" stroke="#27231f" stroke-width="0.57" opacity="0.85"/>
<path d="M32.4 4.0 C37.7 16.3 39.8 29.9 36.0 45.6" stroke="#27231f" stroke-width="0.51" opacity="0.90"/>
<path d="M33.6 3.7 C40.1 16.4 42.3 29.7 38.3 45.6" stroke="#27231f" stroke-width="0.46" opacity="0.65"/>
<path d="M36.2 4.0 C41.8 15.7 44.3 29.9 40.0 46.0" stroke="#27231f" stroke-width="0.64" opacity="0.45"/>
<path d="M38.0 4.3 C43.6 16.1 46.0 30.2 42.2 45.8" stroke="#27231f" stroke-width="0.65" opacity="0.65"/>
<path d="M39.9 4.3 C45.7 15.6 47.9 30.0 43.6 45.6" stroke="#27231f" stroke-width="0.66" opacity="0.83"/>
<path d="M41.6 4.4 C47.6 16.2 50.1 29.8 46.2 45.7" stroke="#27231f" stroke-width="0.68" opacity="0.59"/>
<path d="M70.1 35.7 C79.6 44.4 90.0 49.8 99.6 51.6" stroke="#27231f" stroke-width="0.54" opacity="0.59"/>
<path d="M68.6 38.3 C79.2 46.2 89.4 52.3 99.0 54.5" stroke="#27231f" stroke-width="0.61" opacity="0.92"/>
<path d="M67.8 40.5 C78.0 49.0 88.4 54.5 98.2 56.5" stroke="#27231f" stroke-width="0.43" opacity="0.94"/>
<path d="M67.3 43.0 C76.7 50.9 86.7 56.9 97.3 58.6" stroke="#27231f" stroke-width="0.84" opacity="0.71"/>
<path d="M66.3 45.1 C75.9 53.1 86.4 59.2 96.4 61.8" stroke="#27231f" stroke-width="0.84" opacity="0.62"/>
<path d="M65.2 48.1 C75.3 55.8 84.8 61.7 95.0 63.9" stroke="#27231f" stroke-width="0.78" opacity="0.62"/>
<path d="M64.2 50.2 C74.2 58.2 83.7 64.0 94.0 65.9" stroke="#27231f" stroke-width="0.62" opacity="0.65"/>
<path d="M40.4 65.9 C56.4 69.8 76.1 70.0 95.8 65.9" stroke="#27231f" stroke-width="0.70" opacity="0.68"/>
<path d="M39.9 64.2 C56.3 68.5 76.3 68.3 95.8 64.3" stroke="#27231f" stroke-width="0.31" opacity="0.65"/>
<path d="M39.8 63.0 C55.6 66.9 76.2 66.9 95.6 62.7" stroke="#27231f" stroke-width="0.46" opacity="0.45"/>
<path d="M40.4 61.6 C56.1 65.5 76.1 65.4 96.0 60.9" stroke="#27231f" stroke-width="0.77" opacity="0.50"/>
<path d="M40.1 60.0 C56.4 63.5 76.1 63.5 95.7 59.9" stroke="#27231f" stroke-width="0.66" opacity="0.74"/>
<path d="M40.3 58.0 C55.8 62.3 75.7 62.3 96.3 57.9" stroke="#27231f" stroke-width="0.42" opacity="0.87"/>
<path d="M30.0 100.1 C50.2 96.2 75.9 98.1 99.7 100.4" stroke="#27231f" stroke-width="1.18" opacity="0.55"/>
<path d="M29.9 98.8 C50.0 95.0 75.9 96.4 99.8 98.6" stroke="#27231f" stroke-width="0.62" opacity="0.64"/>
<path d="M30.0 97.7 C50.0 93.2 76.0 95.8 100.1 96.9" stroke="#27231f" stroke-width="0.86" opacity="0.90"/>
<path d="M29.7 95.6 C50.3 91.7 76.1 93.8 99.8 96.1" stroke="#27231f" stroke-width="0.77" opacity="0.60"/>
<path d="M89.9 -0.4 C94.1 10.4 97.7 22.4 99.9 36.2" stroke="#27231f" stroke-width="0.42" opacity="0.84"/>
<path d="M88.6 0.8 C92.9 10.9 96.9 23.1 98.9 36.9" stroke="#27231f" stroke-width="0.88" opacity="0.86"/>
<path d="M87.3 1.7 C91.4 12.4 95.2 24.3 97.0 37.6" stroke="#27231f" stroke-width="0.76" opacity="0.67"/>
<path d="M85.4 2.7 C89.4 12.6 93.1 24.7 95.9 39.1" stroke="#27231f" stroke-width="0.85" opacity="0.97"/>
<path d="M84.4 4.1 C88.4 14.3 91.6 26.3 94.2 39.6" stroke="#27231f" stroke-width="0.72" opacity="0.69"/>
<path d="M3.8 49.7 C11.7 43.9 22.4 42.2 31.9 46.1" stroke="#27231f" stroke-width="0.42" opacity="0.51"/>
<path d="M4.8 52.1 C12.1 46.1 22.4 44.2 32.0 47.8" stroke="#27231f" stroke-width="0.47" opacity="0.42"/>
<path d="M4.8 54.0 C12.9 48.4 22.7 45.7 33.0 50.2" stroke="#27231f" stroke-width="0.57" opacity="0.57"/>
<path d="M5.5 55.7 C13.1 50.1 23.1 48.0 32.8 52.3" stroke="#27231f" stroke-width="0.61" opacity="0.76"/>
<path d="M6.0 57.7 C13.6 51.9 23.3 49.9 33.5 53.8" stroke="#27231f" stroke-width="0.35" opacity="0.80"/>
<path d="M6.4 60.1 C14.1 54.0 23.9 52.2 34.4 55.8" stroke="#27231f" stroke-width="0.49" opacity="0.65"/>
<rect x="75.0" y="94.25" width="18.5" height="1.1" fill="#ffffff"/>
</g>
</g>
<rect x="461.0" y="310.4" width="95.0" height="94.0" fill="none" stroke="#1a1a1a" stroke-width="1.0"/>
<g clip-path="url(#clip_f3)">
<rect x="590.0" y="310.0" width="94.2" height="94.2" fill="#c9bdaf"/>
<g transform="translate(590.0,310.0) scale(0.9420,0.9420)" fill="none" stroke-linecap="round">
<path d="M28 0 C30 20 34 34 30 50 C26 66 14 80 0 92 L0 100 L52 100 C70 94 88 84 100 70 L100 0 Z" fill="#bbb1a4" fill-opacity="1" stroke="none"/>
<path d="M28 0 C30 20 34 34 30 50 C26 66 14 80 0 92" stroke="#8a8074" stroke-width="0.8" opacity="0.7"/>
<path d="M100 8 C92 14 86 24 84 36" stroke="#9a9084" stroke-width="0.6" opacity="0.6"/>
<path d="M26.7 17.2 l-0.8 3.8" stroke="#6e665c" stroke-width="0.3" opacity="0.35"/>
<path d="M87.5 74.2 l1.0 1.8" stroke="#6e665c" stroke-width="0.3" opacity="0.35"/>
<path d="M68.3 37.1 l0.9 1.8" stroke="#6e665c" stroke-width="0.3" opacity="0.35"/>
<path d="M80.4 76.6 l2.2 1.5" stroke="#6e665c" stroke-width="0.3" opacity="0.35"/>
<path d="M63.5 30.2 l0.9 2.2" stroke="#6e665c" stroke-width="0.3" opacity="0.35"/>
<path d="M78.6 78.4 l0.1 2.6" stroke="#6e665c" stroke-width="0.3" opacity="0.35"/>
<path d="M47.1 38.4 l2.1 2.9" stroke="#6e665c" stroke-width="0.3" opacity="0.35"/>
<path d="M37.2 26.5 l1.4 0.9" stroke="#6e665c" stroke-width="0.3" opacity="0.35"/>
<path d="M51.3 18.4 l1.9 1.7" stroke="#6e665c" stroke-width="0.3" opacity="0.35"/>
<path d="M70.7 83.0 l1.5 3.1" stroke="#6e665c" stroke-width="0.3" opacity="0.35"/>
<path d="M68.4 56.4 l0.0 2.4" stroke="#6e665c" stroke-width="0.3" opacity="0.35"/>
<path d="M92.0 82.1 l-0.2 2.6" stroke="#6e665c" stroke-width="0.3" opacity="0.35"/>
<path d="M48.3 62.4 l2.5 2.1" stroke="#6e665c" stroke-width="0.3" opacity="0.35"/>
<path d="M90.3 21.8 l1.1 2.8" stroke="#6e665c" stroke-width="0.3" opacity="0.35"/>
<path d="M52.7 0.9 l-0.1 1.9" stroke="#6e665c" stroke-width="0.3" opacity="0.35"/>
<path d="M93.0 59.6 l2.0 1.1" stroke="#6e665c" stroke-width="0.3" opacity="0.35"/>
<path d="M49.8 10.6 l0.1 2.1" stroke="#6e665c" stroke-width="0.3" opacity="0.35"/>
<path d="M65.5 42.2 l-1.8 2.7" stroke="#6e665c" stroke-width="0.3" opacity="0.35"/>
<path d="M83.9 88.9 l1.3 1.4" stroke="#6e665c" stroke-width="0.3" opacity="0.35"/>
<path d="M32.0 61.7 l-0.9 1.7" stroke="#6e665c" stroke-width="0.3" opacity="0.35"/>
<path d="M27.9 41.2 l0.1 2.7" stroke="#6e665c" stroke-width="0.3" opacity="0.35"/>
<path d="M62.0 20.8 l1.1 3.2" stroke="#6e665c" stroke-width="0.3" opacity="0.35"/>
<path d="M72.3 5.2 l0.6 1.6" stroke="#6e665c" stroke-width="0.3" opacity="0.35"/>
<path d="M32.8 96.9 l1.5 3.2" stroke="#6e665c" stroke-width="0.3" opacity="0.35"/>
<path d="M57.6 99.1 l0.6 2.0" stroke="#6e665c" stroke-width="0.3" opacity="0.35"/>
<path d="M80.4 10.3 l1.7 2.8" stroke="#6e665c" stroke-width="0.3" opacity="0.35"/>
<path d="M45.2 15.6 l0.3 3.1" stroke="#6e665c" stroke-width="0.3" opacity="0.35"/>
<path d="M67.6 10.4 l0.5 2.7" stroke="#6e665c" stroke-width="0.3" opacity="0.35"/>
<path d="M42.4 61.1 l1.1 1.9" stroke="#6e665c" stroke-width="0.3" opacity="0.35"/>
<path d="M23.1 14.1 l2.1 1.9" stroke="#6e665c" stroke-width="0.3" opacity="0.35"/>
<path d="M66.0 73.9 l-0.5 1.9" stroke="#6e665c" stroke-width="0.3" opacity="0.35"/>
<path d="M90.1 72.8 l1.8 2.7" stroke="#6e665c" stroke-width="0.3" opacity="0.35"/>
<path d="M26.7 44.6 l0.5 3.2" stroke="#6e665c" stroke-width="0.3" opacity="0.35"/>
<path d="M46.5 86.8 l1.5 3.6" stroke="#6e665c" stroke-width="0.3" opacity="0.35"/>
<path d="M91.8 19.6 l-1.0 1.7" stroke="#6e665c" stroke-width="0.3" opacity="0.35"/>
<path d="M62.1 67.4 l1.1 1.2" stroke="#6e665c" stroke-width="0.3" opacity="0.35"/>
<path d="M86.3 72.2 l-1.2 3.5" stroke="#6e665c" stroke-width="0.3" opacity="0.35"/>
<path d="M45.7 48.5 l0.1 1.6" stroke="#6e665c" stroke-width="0.3" opacity="0.35"/>
<path d="M68.4 89.5 l0.6 2.9" stroke="#6e665c" stroke-width="0.3" opacity="0.35"/>
<path d="M86.3 21.5 l-1.3 3.7" stroke="#6e665c" stroke-width="0.3" opacity="0.35"/>
<path d="M28.2 13.6 l-0.6 1.5" stroke="#6e665c" stroke-width="0.3" opacity="0.35"/>
<path d="M41.4 87.8 l-0.6 1.4" stroke="#6e665c" stroke-width="0.3" opacity="0.35"/>
<path d="M75.3 12.5 l0.8 3.7" stroke="#6e665c" stroke-width="0.3" opacity="0.35"/>
<path d="M26.0 89.3 l2.0 1.3" stroke="#6e665c" stroke-width="0.3" opacity="0.35"/>
<path d="M64.2 24.0 l-0.2 3.1" stroke="#6e665c" stroke-width="0.3" opacity="0.35"/>
<path d="M58.0 77.3 l-1.7 3.5" stroke="#6e665c" stroke-width="0.3" opacity="0.35"/>
<path d="M42.1 61.9 l1.3 3.5" stroke="#6e665c" stroke-width="0.3" opacity="0.35"/>
<path d="M90.1 91.1 l-0.4 2.6" stroke="#6e665c" stroke-width="0.3" opacity="0.35"/>
<path d="M48.4 67.7 l0.3 3.1" stroke="#6e665c" stroke-width="0.3" opacity="0.35"/>
<path d="M48.7 61.6 l0.4 1.7" stroke="#6e665c" stroke-width="0.3" opacity="0.35"/>
<path d="M64.4 88.6 l1.8 1.1" stroke="#6e665c" stroke-width="0.3" opacity="0.35"/>
<path d="M68.2 76.9 l-0.2 2.5" stroke="#6e665c" stroke-width="0.3" opacity="0.35"/>
<path d="M37.6 84.4 l0.5 3.8" stroke="#6e665c" stroke-width="0.3" opacity="0.35"/>
<path d="M65.2 54.7 l-0.3 3.5" stroke="#6e665c" stroke-width="0.3" opacity="0.35"/>
<path d="M46.7 51.2 l1.4 1.6" stroke="#6e665c" stroke-width="0.3" opacity="0.35"/>
<path d="M43.7 17.6 l-1.7 3.3" stroke="#6e665c" stroke-width="0.3" opacity="0.35"/>
<path d="M61.9 18.3 l0.6 2.6" stroke="#6e665c" stroke-width="0.3" opacity="0.35"/>
<path d="M96.2 67.0 l1.5 2.9" stroke="#6e665c" stroke-width="0.3" opacity="0.35"/>
<path d="M94.4 20.6 l-0.1 2.5" stroke="#6e665c" stroke-width="0.3" opacity="0.35"/>
<path d="M56.0 52.3 l1.8 3.5" stroke="#6e665c" stroke-width="0.3" opacity="0.35"/>
<path d="M79.8 66.9 l1.6 1.3" stroke="#6e665c" stroke-width="0.3" opacity="0.35"/>
<path d="M94.8 45.4 l1.2 1.1" stroke="#6e665c" stroke-width="0.3" opacity="0.35"/>
<path d="M87.9 64.6 l1.4 3.2" stroke="#6e665c" stroke-width="0.3" opacity="0.35"/>
<path d="M20.2 53.9 l0.3 2.8" stroke="#6e665c" stroke-width="0.3" opacity="0.35"/>
<path d="M98.3 39.1 l0.5 2.4" stroke="#6e665c" stroke-width="0.3" opacity="0.35"/>
<path d="M95.7 81.3 l-0.0 1.7" stroke="#6e665c" stroke-width="0.3" opacity="0.35"/>
<path d="M96.1 77.5 l-0.5 1.6" stroke="#6e665c" stroke-width="0.3" opacity="0.35"/>
<path d="M92.2 94.7 l0.2 2.8" stroke="#6e665c" stroke-width="0.3" opacity="0.35"/>
<path d="M29.1 5.7 l-0.4 1.5" stroke="#6e665c" stroke-width="0.3" opacity="0.35"/>
<path d="M73.5 15.6 l-0.1 1.8" stroke="#6e665c" stroke-width="0.3" opacity="0.35"/>
<path d="M68.5 77.6 l-1.4 2.7" stroke="#6e665c" stroke-width="0.3" opacity="0.35"/>
<path d="M71.1 2.5 l0.5 3.9" stroke="#6e665c" stroke-width="0.3" opacity="0.35"/>
<path d="M51.5 4.5 l0.9 1.5" stroke="#6e665c" stroke-width="0.3" opacity="0.35"/>
<path d="M66.7 43.0 l0.8 1.8" stroke="#6e665c" stroke-width="0.3" opacity="0.35"/>
<path d="M74.7 1.3 l0.2 1.7" stroke="#6e665c" stroke-width="0.3" opacity="0.35"/>
<path d="M45.3 73.2 l1.1 1.5" stroke="#6e665c" stroke-width="0.3" opacity="0.35"/>
<path d="M96.9 23.4 l1.4 2.3" stroke="#6e665c" stroke-width="0.3" opacity="0.35"/>
<path d="M40.1 9.2 l-0.9 3.4" stroke="#6e665c" stroke-width="0.3" opacity="0.35"/>
<path d="M67.3 5.9 l1.6 3.0" stroke="#6e665c" stroke-width="0.3" opacity="0.35"/>
<path d="M47.2 87.6 l-0.0 3.1" stroke="#6e665c" stroke-width="0.3" opacity="0.35"/>
<path d="M45.2 99.3 l-0.1 3.2" stroke="#6e665c" stroke-width="0.3" opacity="0.35"/>
<path d="M55.0 8.6 l2.4 2.7" stroke="#6e665c" stroke-width="0.3" opacity="0.35"/>
<path d="M97.5 25.9 l0.8 1.9" stroke="#6e665c" stroke-width="0.3" opacity="0.35"/>
<path d="M54.2 36.9 l0.6 2.2" stroke="#6e665c" stroke-width="0.3" opacity="0.35"/>
<path d="M90.9 31.5 l1.3 1.5" stroke="#6e665c" stroke-width="0.3" opacity="0.35"/>
<path d="M24.3 2.9 l0.8 2.2" stroke="#6e665c" stroke-width="0.3" opacity="0.35"/>
<path d="M97.7 24.2 l-1.1 3.0" stroke="#6e665c" stroke-width="0.3" opacity="0.35"/>
<path d="M44.9 55.7 l0.3 3.2" stroke="#6e665c" stroke-width="0.3" opacity="0.35"/>
<path d="M70.6 38.4 l-0.1 2.1" stroke="#6e665c" stroke-width="0.3" opacity="0.35"/>
<path d="M54.7 57.1 l-0.3 2.0" stroke="#6e665c" stroke-width="0.3" opacity="0.35"/>
<path d="M60.8 27.0 l0.7 1.6" stroke="#6e665c" stroke-width="0.3" opacity="0.35"/>
<path d="M68.7 29.3 l1.1 1.2" stroke="#6e665c" stroke-width="0.3" opacity="0.35"/>
<path d="M99.5 63.4 l1.3 3.3" stroke="#6e665c" stroke-width="0.3" opacity="0.35"/>
<path d="M57.9 82.8 l3.4 2.0" stroke="#6e665c" stroke-width="0.3" opacity="0.35"/>
<path d="M53.8 54.5 l0.6 1.7" stroke="#6e665c" stroke-width="0.3" opacity="0.35"/>
<path d="M74.7 54.2 l2.7 2.4" stroke="#6e665c" stroke-width="0.3" opacity="0.35"/>
<path d="M55.5 7.1 l0.3 3.3" stroke="#6e665c" stroke-width="0.3" opacity="0.35"/>
<path d="M44.9 18.1 l1.6 1.2" stroke="#6e665c" stroke-width="0.3" opacity="0.35"/>
<path d="M49.5 57.4 l-0.2 2.6" stroke="#6e665c" stroke-width="0.3" opacity="0.35"/>
<path d="M50.0 63.4 l1.1 3.5" stroke="#6e665c" stroke-width="0.3" opacity="0.35"/>
<path d="M30.2 10.2 l-0.8 1.8" stroke="#6e665c" stroke-width="0.3" opacity="0.35"/>
<path d="M71.1 40.9 l0.0 1.7" stroke="#6e665c" stroke-width="0.3" opacity="0.35"/>
<path d="M21.1 58.6 l0.2 3.1" stroke="#6e665c" stroke-width="0.3" opacity="0.35"/>
<path d="M22.4 61.5 l1.6 2.7" stroke="#6e665c" stroke-width="0.3" opacity="0.35"/>
<path d="M56.3 55.6 l0.3 3.3" stroke="#6e665c" stroke-width="0.3" opacity="0.35"/>
<path d="M67.1 67.6 l0.7 1.4" stroke="#6e665c" stroke-width="0.3" opacity="0.35"/>
<path d="M23.6 54.4 l-1.2 2.8" stroke="#6e665c" stroke-width="0.3" opacity="0.35"/>
<path d="M77.8 98.1 l-0.0 2.4" stroke="#6e665c" stroke-width="0.3" opacity="0.35"/>
<path d="M80.6 34.2 l1.8 2.1" stroke="#6e665c" stroke-width="0.3" opacity="0.35"/>
<path d="M36.4 75.3 l0.1 3.2" stroke="#6e665c" stroke-width="0.3" opacity="0.35"/>
<path d="M52.9 15.1 l1.2 3.3" stroke="#6e665c" stroke-width="0.3" opacity="0.35"/>
<path d="M49.7 32.7 l-0.1 1.8" stroke="#6e665c" stroke-width="0.3" opacity="0.35"/>
<path d="M94.5 51.8 l2.5 1.7" stroke="#6e665c" stroke-width="0.3" opacity="0.35"/>
<path d="M57.5 10.3 l-1.1 2.6" stroke="#6e665c" stroke-width="0.3" opacity="0.35"/>
<path d="M46.6 88.3 l-0.2 1.6" stroke="#6e665c" stroke-width="0.3" opacity="0.35"/>
<path d="M91.1 6.7 l0.0 3.4" stroke="#6e665c" stroke-width="0.3" opacity="0.35"/>
<path d="M20.6 23.3 l-0.4 3.4" stroke="#6e665c" stroke-width="0.3" opacity="0.35"/>
<path d="M55.0 28.5 l1.3 2.0" stroke="#6e665c" stroke-width="0.3" opacity="0.35"/>
<path d="M24.4 59.5 l-0.7 3.1" stroke="#6e665c" stroke-width="0.3" opacity="0.35"/>
<path d="M61.7 78.1 l-0.4 1.9" stroke="#6e665c" stroke-width="0.3" opacity="0.35"/>
<path d="M61.6 60.4 l0.9 3.1" stroke="#6e665c" stroke-width="0.3" opacity="0.35"/>
<path d="M83.0 13.3 l-1.0 2.1" stroke="#6e665c" stroke-width="0.3" opacity="0.35"/>
<path d="M97.0 78.2 l-1.1 1.7" stroke="#6e665c" stroke-width="0.3" opacity="0.35"/>
<path d="M95.7 80.7 l1.5 3.3" stroke="#6e665c" stroke-width="0.3" opacity="0.35"/>
<path d="M20.1 97.0 l3.1 2.1" stroke="#6e665c" stroke-width="0.3" opacity="0.35"/>
<path d="M32.3 33.4 l0.2 2.9" stroke="#6e665c" stroke-width="0.3" opacity="0.35"/>
<path d="M68.8 65.9 l1.7 0.9" stroke="#6e665c" stroke-width="0.3" opacity="0.35"/>
<path d="M86.9 1.0 l0.9 2.2" stroke="#6e665c" stroke-width="0.3" opacity="0.35"/>
<path d="M60.5 39.2 l1.4 2.4" stroke="#6e665c" stroke-width="0.3" opacity="0.35"/>
<path d="M36.4 38.3 l2.2 1.3" stroke="#6e665c" stroke-width="0.3" opacity="0.35"/>
<path d="M83.8 33.4 l-0.0 1.8" stroke="#6e665c" stroke-width="0.3" opacity="0.35"/>
<path d="M50.4 93.5 l2.7 2.4" stroke="#6e665c" stroke-width="0.3" opacity="0.35"/>
<path d="M86.9 7.3 l1.1 2.3" stroke="#6e665c" stroke-width="0.3" opacity="0.35"/>
<path d="M43.6 89.1 l2.5 1.7" stroke="#6e665c" stroke-width="0.3" opacity="0.35"/>
<path d="M61.2 16.1 l0.4 1.5" stroke="#6e665c" stroke-width="0.3" opacity="0.35"/>
<path d="M20.7 1.7 l-0.6 2.3" stroke="#6e665c" stroke-width="0.3" opacity="0.35"/>
<path d="M88.8 25.2 l1.6 2.5" stroke="#6e665c" stroke-width="0.3" opacity="0.35"/>
<path d="M85.2 75.9 l0.9 3.6" stroke="#6e665c" stroke-width="0.3" opacity="0.35"/>
<path d="M52.4 40.9 l1.2 2.1" stroke="#6e665c" stroke-width="0.3" opacity="0.35"/>
<path d="M83.7 39.8 l-1.3 2.4" stroke="#6e665c" stroke-width="0.3" opacity="0.35"/>
<path d="M68.6 44.8 l1.1 3.5" stroke="#6e665c" stroke-width="0.3" opacity="0.35"/>
<path d="M39.2 95.0 l1.4 3.6" stroke="#6e665c" stroke-width="0.3" opacity="0.35"/>
<path d="M87.6 93.5 l2.3 2.9" stroke="#6e665c" stroke-width="0.3" opacity="0.35"/>
<path d="M72.0 85.2 l0.5 3.3" stroke="#6e665c" stroke-width="0.3" opacity="0.35"/>
<path d="M63.9 51.3 l-0.3 2.0" stroke="#6e665c" stroke-width="0.3" opacity="0.35"/>
<path d="M39.7 89.8 l-1.6 2.8" stroke="#6e665c" stroke-width="0.3" opacity="0.35"/>
<path d="M54.5 76.6 l-0.6 3.9" stroke="#6e665c" stroke-width="0.3" opacity="0.35"/>
<path d="M28.5 53.8 l1.4 0.8" stroke="#6e665c" stroke-width="0.3" opacity="0.35"/>
<path d="M61.5 84.6 l-0.5 3.1" stroke="#6e665c" stroke-width="0.3" opacity="0.35"/>
<path d="M46.7 57.0 l-0.0 1.7" stroke="#6e665c" stroke-width="0.3" opacity="0.35"/>
<path d="M72.4 63.2 l0.9 3.6" stroke="#6e665c" stroke-width="0.3" opacity="0.35"/>
<path d="M77.1 66.1 l2.2 1.7" stroke="#6e665c" stroke-width="0.3" opacity="0.35"/>
<path d="M62.7 85.1 l0.6 2.6" stroke="#6e665c" stroke-width="0.3" opacity="0.35"/>
<path d="M96.6 42.3 l-0.1 3.2" stroke="#6e665c" stroke-width="0.3" opacity="0.35"/>
<path d="M94.2 14.7 l1.0 1.6" stroke="#6e665c" stroke-width="0.3" opacity="0.35"/>
<path d="M36.8 37.3 l0.7 2.1" stroke="#6e665c" stroke-width="0.3" opacity="0.35"/>
<path d="M68.2 62.8 l0.1 2.6" stroke="#6e665c" stroke-width="0.3" opacity="0.35"/>
<path d="M82.7 29.3 l2.6 2.8" stroke="#6e665c" stroke-width="0.3" opacity="0.35"/>
<path d="M46.3 97.4 l0.9 1.4" stroke="#6e665c" stroke-width="0.3" opacity="0.35"/>
<path d="M50.5 74.5 l0.9 3.0" stroke="#6e665c" stroke-width="0.3" opacity="0.35"/>
<path d="M1.2 0.1 C7.9 21.7 16.4 46.2 9.9 76.1" stroke="#27231f" stroke-width="0.68" opacity="0.98"/>
<path d="M2.3 0.1 C9.2 22.3 17.4 45.6 11.2 76.1" stroke="#27231f" stroke-width="1.37" opacity="0.78"/>
<path d="M2.9 -0.1 C9.9 21.7 17.7 46.3 12.2 75.9" stroke="#27231f" stroke-width="1.16" opacity="0.66"/>
<path d="M4.0 0.2 C11.1 21.8 19.1 45.6 12.9 76.0" stroke="#27231f" stroke-width="1.37" opacity="0.76"/>
<path d="M5.4 -0.3 C11.8 22.0 20.3 46.0 14.0 75.6" stroke="#27231f" stroke-width="1.18" opacity="0.61"/>
<path d="M6.3 0.3 C13.1 21.8 21.4 46.4 14.8 76.1" stroke="#27231f" stroke-width="0.59" opacity="0.87"/>
<path d="M-0.3 39.7 C4.2 55.7 4.2 71.8 -0.2 85.8" stroke="#27231f" stroke-width="0.86" opacity="0.81"/>
<path d="M1.5 40.3 C5.9 56.3 5.6 71.9 1.9 85.8" stroke="#27231f" stroke-width="0.90" opacity="0.60"/>
<path d="M2.7 40.1 C7.2 55.8 7.2 72.2 2.6 86.4" stroke="#27231f" stroke-width="0.55" opacity="0.91"/>
<path d="M46 0 C47 10 47 20 45.5 29 C45 20 44.5 10 44 0 Z" fill="#27231f" stroke="#27231f" stroke-width="0.6"/>
<path d="M50 0 C50 8 49 16 47.5 22" stroke="#27231f" stroke-width="0.8"/>
<path d="M17 0 C19 4 21 8 22 12 M22 0 C23 4 25 7 26 10 M27 0 L28 6" stroke="#27231f" stroke-width="0.9" opacity="0.8"/>
<path d="M47.9 100.0 C65.9 95.8 85.6 85.7 100.4 72.4" stroke="#27231f" stroke-width="0.68" opacity="0.59"/>
<path d="M50.3 101.0 C67.9 97.1 88.1 87.0 102.0 72.8" stroke="#27231f" stroke-width="0.64" opacity="0.88"/>
<path d="M52.2 102.1 C70.2 98.5 90.3 88.1 103.9 74.1" stroke="#27231f" stroke-width="0.65" opacity="0.80"/>
<path d="M53.7 103.6 C71.8 99.5 92.4 90.0 105.9 76.0" stroke="#27231f" stroke-width="0.85" opacity="0.58"/>
<path d="M56.3 104.9 C74.2 101.2 94.1 90.9 108.1 77.0" stroke="#27231f" stroke-width="0.64" opacity="0.83"/>
<path d="M57.9 106.0 C76.0 101.6 95.6 91.9 109.9 77.7" stroke="#27231f" stroke-width="0.68" opacity="0.96"/>
<path d="M94 100 C96 94 98 88 100 84" stroke="#27231f" stroke-width="1.2"/>
<rect x="72.4" y="93.85" width="23.0" height="1.5" fill="#ffffff"/>
</g>
</g>
<rect x="590.0" y="310.0" width="94.2" height="94.2" fill="none" stroke="#4646ee" stroke-width="2.0"/>
<rect x="391.0" y="317.2" width="28.85" height="69.6" fill="none" stroke="#1c1cf2" stroke-width="1.9"/>
<rect x="519.7" y="316.2" width="21.0" height="18.8" fill="none" stroke="#1c1cf2" stroke-width="1.6"/>
<line x1="540.70" y1="316.20" x2="590.20" y2="310.00" stroke="#1c1cf2" stroke-width="1.5" />
<line x1="540.70" y1="335.00" x2="590.20" y2="404.20" stroke="#1c1cf2" stroke-width="1.5" />
</svg>
</body>
</html>
